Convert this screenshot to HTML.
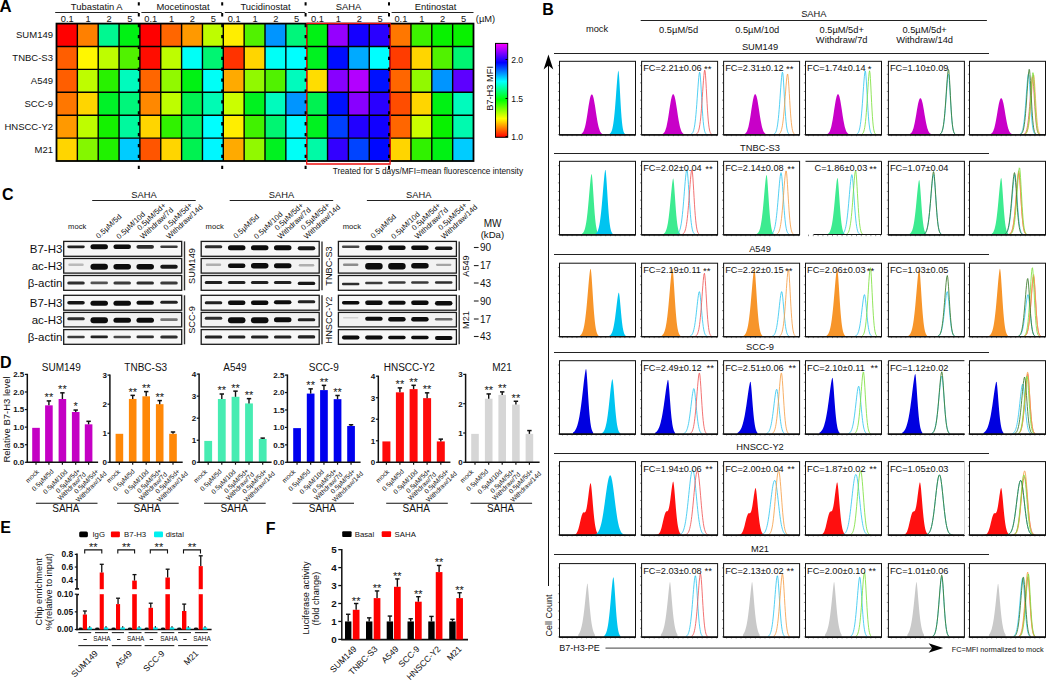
<!DOCTYPE html>
<html><head><meta charset="utf-8"><title>Figure</title>
<style>
html,body{margin:0;padding:0;background:#fff;}
body{width:1050px;height:680px;overflow:hidden;}
svg{display:block;font-family:"Liberation Sans",sans-serif;}
</style></head><body>
<svg width="1050" height="680" viewBox="0 0 1050 680">
<rect width="1050" height="680" fill="#fff"/>
<text x="-0.6" y="11.8" font-size="16.8" font-weight="bold" fill="#000">A</text>
<rect x="56.5" y="23.6" width="21.15" height="23.2" fill="#ff0000"/>
<rect x="77.35" y="23.6" width="21.15" height="23.2" fill="#ff8000"/>
<rect x="98.2" y="23.6" width="21.15" height="23.2" fill="#00f891"/>
<rect x="119.05" y="23.6" width="21.15" height="23.2" fill="#00f214"/>
<rect x="139.9" y="23.6" width="21.15" height="23.2" fill="#ff0000"/>
<rect x="160.75" y="23.6" width="21.15" height="23.2" fill="#ff6600"/>
<rect x="181.6" y="23.6" width="21.15" height="23.2" fill="#ff9900"/>
<rect x="202.45" y="23.6" width="21.15" height="23.2" fill="#befd00"/>
<rect x="223.3" y="23.6" width="21.15" height="23.2" fill="#ffee00"/>
<rect x="244.15" y="23.6" width="21.15" height="23.2" fill="#51f200"/>
<rect x="265" y="23.6" width="21.15" height="23.2" fill="#0095ff"/>
<rect x="285.85" y="23.6" width="21.15" height="23.2" fill="#00f67b"/>
<rect x="306.7" y="23.6" width="21.15" height="23.2" fill="#00f214"/>
<rect x="327.55" y="23.6" width="21.15" height="23.2" fill="#9500ff"/>
<rect x="348.4" y="23.6" width="21.15" height="23.2" fill="#1500ff"/>
<rect x="369.25" y="23.6" width="21.15" height="23.2" fill="#2a00ff"/>
<rect x="390.1" y="23.6" width="21.15" height="23.2" fill="#ff7700"/>
<rect x="410.95" y="23.6" width="21.15" height="23.2" fill="#3df200"/>
<rect x="431.8" y="23.6" width="21.15" height="23.2" fill="#08f200"/>
<rect x="452.65" y="23.6" width="21.15" height="23.2" fill="#08f200"/>
<rect x="56.5" y="46.5" width="21.15" height="23.2" fill="#ff5e00"/>
<rect x="77.35" y="46.5" width="21.15" height="23.2" fill="#fff700"/>
<rect x="98.2" y="46.5" width="21.15" height="23.2" fill="#befd00"/>
<rect x="119.05" y="46.5" width="21.15" height="23.2" fill="#51f200"/>
<rect x="139.9" y="46.5" width="21.15" height="23.2" fill="#ff0d00"/>
<rect x="160.75" y="46.5" width="21.15" height="23.2" fill="#befd00"/>
<rect x="181.6" y="46.5" width="21.15" height="23.2" fill="#00fff7"/>
<rect x="202.45" y="46.5" width="21.15" height="23.2" fill="#00f572"/>
<rect x="223.3" y="46.5" width="21.15" height="23.2" fill="#ff3300"/>
<rect x="244.15" y="46.5" width="21.15" height="23.2" fill="#ffd500"/>
<rect x="265" y="46.5" width="21.15" height="23.2" fill="#00fff7"/>
<rect x="285.85" y="46.5" width="21.15" height="23.2" fill="#00ffff"/>
<rect x="306.7" y="46.5" width="21.15" height="23.2" fill="#00f220"/>
<rect x="327.55" y="46.5" width="21.15" height="23.2" fill="#000dff"/>
<rect x="348.4" y="46.5" width="21.15" height="23.2" fill="#00aaff"/>
<rect x="369.25" y="46.5" width="21.15" height="23.2" fill="#00ffff"/>
<rect x="390.1" y="46.5" width="21.15" height="23.2" fill="#ff3c00"/>
<rect x="410.95" y="46.5" width="21.15" height="23.2" fill="#ffd500"/>
<rect x="431.8" y="46.5" width="21.15" height="23.2" fill="#51f200"/>
<rect x="452.65" y="46.5" width="21.15" height="23.2" fill="#00f572"/>
<rect x="56.5" y="69.4" width="21.15" height="23.2" fill="#ff5e00"/>
<rect x="77.35" y="69.4" width="21.15" height="23.2" fill="#befd00"/>
<rect x="98.2" y="69.4" width="21.15" height="23.2" fill="#28f200"/>
<rect x="119.05" y="69.4" width="21.15" height="23.2" fill="#00fbbd"/>
<rect x="139.9" y="69.4" width="21.15" height="23.2" fill="#ff6600"/>
<rect x="160.75" y="69.4" width="21.15" height="23.2" fill="#91f900"/>
<rect x="181.6" y="69.4" width="21.15" height="23.2" fill="#00f214"/>
<rect x="202.45" y="69.4" width="21.15" height="23.2" fill="#00fff7"/>
<rect x="223.3" y="69.4" width="21.15" height="23.2" fill="#ffaa00"/>
<rect x="244.15" y="69.4" width="21.15" height="23.2" fill="#91f900"/>
<rect x="265" y="69.4" width="21.15" height="23.2" fill="#51f200"/>
<rect x="285.85" y="69.4" width="21.15" height="23.2" fill="#00fbbd"/>
<rect x="306.7" y="69.4" width="21.15" height="23.2" fill="#ffdd00"/>
<rect x="327.55" y="69.4" width="21.15" height="23.2" fill="#8800ff"/>
<rect x="348.4" y="69.4" width="21.15" height="23.2" fill="#b300ff"/>
<rect x="369.25" y="69.4" width="21.15" height="23.2" fill="#0011ff"/>
<rect x="390.1" y="69.4" width="21.15" height="23.2" fill="#ff6600"/>
<rect x="410.95" y="69.4" width="21.15" height="23.2" fill="#91f900"/>
<rect x="431.8" y="69.4" width="21.15" height="23.2" fill="#0095ff"/>
<rect x="452.65" y="69.4" width="21.15" height="23.2" fill="#5d00ff"/>
<rect x="56.5" y="92.3" width="21.15" height="23.2" fill="#ff7700"/>
<rect x="77.35" y="92.3" width="21.15" height="23.2" fill="#ffd500"/>
<rect x="98.2" y="92.3" width="21.15" height="23.2" fill="#00f228"/>
<rect x="119.05" y="92.3" width="21.15" height="23.2" fill="#00f67b"/>
<rect x="139.9" y="92.3" width="21.15" height="23.2" fill="#ff8800"/>
<rect x="160.75" y="92.3" width="21.15" height="23.2" fill="#befd00"/>
<rect x="181.6" y="92.3" width="21.15" height="23.2" fill="#00f251"/>
<rect x="202.45" y="92.3" width="21.15" height="23.2" fill="#00fbb4"/>
<rect x="223.3" y="92.3" width="21.15" height="23.2" fill="#cbfe00"/>
<rect x="244.15" y="92.3" width="21.15" height="23.2" fill="#00f220"/>
<rect x="265" y="92.3" width="21.15" height="23.2" fill="#00fbbd"/>
<rect x="285.85" y="92.3" width="21.15" height="23.2" fill="#0095ff"/>
<rect x="306.7" y="92.3" width="21.15" height="23.2" fill="#00f251"/>
<rect x="327.55" y="92.3" width="21.15" height="23.2" fill="#0011ff"/>
<rect x="348.4" y="92.3" width="21.15" height="23.2" fill="#8800ff"/>
<rect x="369.25" y="92.3" width="21.15" height="23.2" fill="#2a00ff"/>
<rect x="390.1" y="92.3" width="21.15" height="23.2" fill="#ff4d00"/>
<rect x="410.95" y="92.3" width="21.15" height="23.2" fill="#ffd500"/>
<rect x="431.8" y="92.3" width="21.15" height="23.2" fill="#00f214"/>
<rect x="452.65" y="92.3" width="21.15" height="23.2" fill="#00fbbd"/>
<rect x="56.5" y="115.2" width="21.15" height="23.2" fill="#ff9900"/>
<rect x="77.35" y="115.2" width="21.15" height="23.2" fill="#befd00"/>
<rect x="98.2" y="115.2" width="21.15" height="23.2" fill="#14f200"/>
<rect x="119.05" y="115.2" width="21.15" height="23.2" fill="#00f99e"/>
<rect x="139.9" y="115.2" width="21.15" height="23.2" fill="#ffd500"/>
<rect x="160.75" y="115.2" width="21.15" height="23.2" fill="#30f200"/>
<rect x="181.6" y="115.2" width="21.15" height="23.2" fill="#00f466"/>
<rect x="202.45" y="115.2" width="21.15" height="23.2" fill="#00ffff"/>
<rect x="223.3" y="115.2" width="21.15" height="23.2" fill="#ffee00"/>
<rect x="244.15" y="115.2" width="21.15" height="23.2" fill="#41f200"/>
<rect x="265" y="115.2" width="21.15" height="23.2" fill="#00f572"/>
<rect x="285.85" y="115.2" width="21.15" height="23.2" fill="#00f7ff"/>
<rect x="306.7" y="115.2" width="21.15" height="23.2" fill="#00f220"/>
<rect x="327.55" y="115.2" width="21.15" height="23.2" fill="#0040ff"/>
<rect x="348.4" y="115.2" width="21.15" height="23.2" fill="#2200ff"/>
<rect x="369.25" y="115.2" width="21.15" height="23.2" fill="#1100ff"/>
<rect x="390.1" y="115.2" width="21.15" height="23.2" fill="#ff6600"/>
<rect x="410.95" y="115.2" width="21.15" height="23.2" fill="#cbfe00"/>
<rect x="431.8" y="115.2" width="21.15" height="23.2" fill="#08f200"/>
<rect x="452.65" y="115.2" width="21.15" height="23.2" fill="#00faaf"/>
<rect x="56.5" y="138.1" width="21.15" height="23.2" fill="#ffd500"/>
<rect x="77.35" y="138.1" width="21.15" height="23.2" fill="#84f700"/>
<rect x="98.2" y="138.1" width="21.15" height="23.2" fill="#20f200"/>
<rect x="119.05" y="138.1" width="21.15" height="23.2" fill="#00ccff"/>
<rect x="139.9" y="138.1" width="21.15" height="23.2" fill="#ff5500"/>
<rect x="160.75" y="138.1" width="21.15" height="23.2" fill="#ffd500"/>
<rect x="181.6" y="138.1" width="21.15" height="23.2" fill="#00f251"/>
<rect x="202.45" y="138.1" width="21.15" height="23.2" fill="#00f7ff"/>
<rect x="223.3" y="138.1" width="21.15" height="23.2" fill="#ffaa00"/>
<rect x="244.15" y="138.1" width="21.15" height="23.2" fill="#91f900"/>
<rect x="265" y="138.1" width="21.15" height="23.2" fill="#00f220"/>
<rect x="285.85" y="138.1" width="21.15" height="23.2" fill="#00fff7"/>
<rect x="306.7" y="138.1" width="21.15" height="23.2" fill="#00faa6"/>
<rect x="327.55" y="138.1" width="21.15" height="23.2" fill="#3300ff"/>
<rect x="348.4" y="138.1" width="21.15" height="23.2" fill="#0044ff"/>
<rect x="369.25" y="138.1" width="21.15" height="23.2" fill="#0008ff"/>
<rect x="390.1" y="138.1" width="21.15" height="23.2" fill="#ffd500"/>
<rect x="410.95" y="138.1" width="21.15" height="23.2" fill="#30f200"/>
<rect x="431.8" y="138.1" width="21.15" height="23.2" fill="#00f214"/>
<rect x="452.65" y="138.1" width="21.15" height="23.2" fill="#00ccff"/>
<line x1="77.35" y1="23.6" x2="77.35" y2="161" stroke="#000" stroke-width="1.4"/>
<line x1="98.2" y1="23.6" x2="98.2" y2="161" stroke="#000" stroke-width="1.4"/>
<line x1="119.05" y1="23.6" x2="119.05" y2="161" stroke="#000" stroke-width="1.4"/>
<line x1="139.9" y1="23.6" x2="139.9" y2="161" stroke="#000" stroke-width="1.4"/>
<line x1="160.75" y1="23.6" x2="160.75" y2="161" stroke="#000" stroke-width="1.4"/>
<line x1="181.6" y1="23.6" x2="181.6" y2="161" stroke="#000" stroke-width="1.4"/>
<line x1="202.45" y1="23.6" x2="202.45" y2="161" stroke="#000" stroke-width="1.4"/>
<line x1="223.3" y1="23.6" x2="223.3" y2="161" stroke="#000" stroke-width="1.4"/>
<line x1="244.15" y1="23.6" x2="244.15" y2="161" stroke="#000" stroke-width="1.4"/>
<line x1="265" y1="23.6" x2="265" y2="161" stroke="#000" stroke-width="1.4"/>
<line x1="285.85" y1="23.6" x2="285.85" y2="161" stroke="#000" stroke-width="1.4"/>
<line x1="306.7" y1="23.6" x2="306.7" y2="161" stroke="#000" stroke-width="1.4"/>
<line x1="327.55" y1="23.6" x2="327.55" y2="161" stroke="#000" stroke-width="1.4"/>
<line x1="348.4" y1="23.6" x2="348.4" y2="161" stroke="#000" stroke-width="1.4"/>
<line x1="369.25" y1="23.6" x2="369.25" y2="161" stroke="#000" stroke-width="1.4"/>
<line x1="390.1" y1="23.6" x2="390.1" y2="161" stroke="#000" stroke-width="1.4"/>
<line x1="410.95" y1="23.6" x2="410.95" y2="161" stroke="#000" stroke-width="1.4"/>
<line x1="431.8" y1="23.6" x2="431.8" y2="161" stroke="#000" stroke-width="1.4"/>
<line x1="452.65" y1="23.6" x2="452.65" y2="161" stroke="#000" stroke-width="1.4"/>
<line x1="56.5" y1="46.5" x2="473.5" y2="46.5" stroke="#000" stroke-width="1.4"/>
<line x1="56.5" y1="69.4" x2="473.5" y2="69.4" stroke="#000" stroke-width="1.4"/>
<line x1="56.5" y1="92.3" x2="473.5" y2="92.3" stroke="#000" stroke-width="1.4"/>
<line x1="56.5" y1="115.2" x2="473.5" y2="115.2" stroke="#000" stroke-width="1.4"/>
<line x1="56.5" y1="138.1" x2="473.5" y2="138.1" stroke="#000" stroke-width="1.4"/>
<rect x="56.5" y="23.6" width="417" height="137.4" fill="none" stroke="#000" stroke-width="1.8"/>
<polyline points="306.7,23.3 306.7,164 390.1,164 390.1,23.3 306.7,23.3" fill="none" stroke="#ee1111" stroke-width="1.3"/>
<line x1="138.8" y1="2.2" x2="138.8" y2="169.5" stroke="#000" stroke-width="2" stroke-dasharray="3.3 7.6"/>
<line x1="222.2" y1="2.2" x2="222.2" y2="169.5" stroke="#000" stroke-width="2" stroke-dasharray="3.3 7.6"/>
<line x1="305.6" y1="2.2" x2="305.6" y2="169.5" stroke="#000" stroke-width="2" stroke-dasharray="3.3 7.6"/>
<line x1="389" y1="2.2" x2="389" y2="169.5" stroke="#000" stroke-width="2" stroke-dasharray="3.3 7.6"/>
<line x1="55.2" y1="12.5" x2="138.4" y2="12.5" stroke="#222" stroke-width="1"/>
<text x="96.75" y="10.2" font-size="9.4" text-anchor="middle" fill="#111">Tubastatin A</text>
<text x="67.33" y="22" font-size="9.3" text-anchor="middle" fill="#111">0.1</text>
<text x="88.18" y="22" font-size="9.3" text-anchor="middle" fill="#111">1</text>
<text x="109.03" y="22" font-size="9.3" text-anchor="middle" fill="#111">2</text>
<text x="129.88" y="22" font-size="9.3" text-anchor="middle" fill="#111">5</text>
<line x1="141.4" y1="12.5" x2="221.8" y2="12.5" stroke="#222" stroke-width="1"/>
<text x="183" y="10.2" font-size="9.4" text-anchor="middle" fill="#111">Mocetinostat</text>
<text x="150.72" y="22" font-size="9.3" text-anchor="middle" fill="#111">0.1</text>
<text x="171.58" y="22" font-size="9.3" text-anchor="middle" fill="#111">1</text>
<text x="192.43" y="22" font-size="9.3" text-anchor="middle" fill="#111">2</text>
<text x="213.28" y="22" font-size="9.3" text-anchor="middle" fill="#111">5</text>
<line x1="224.8" y1="12.5" x2="305.2" y2="12.5" stroke="#222" stroke-width="1"/>
<text x="265.5" y="10.2" font-size="9.4" text-anchor="middle" fill="#111">Tucidinostat</text>
<text x="234.13" y="22" font-size="9.3" text-anchor="middle" fill="#111">0.1</text>
<text x="254.98" y="22" font-size="9.3" text-anchor="middle" fill="#111">1</text>
<text x="275.82" y="22" font-size="9.3" text-anchor="middle" fill="#111">2</text>
<text x="296.67" y="22" font-size="9.3" text-anchor="middle" fill="#111">5</text>
<line x1="308.2" y1="12.5" x2="388.6" y2="12.5" stroke="#222" stroke-width="1"/>
<text x="348.4" y="10.2" font-size="9.4" text-anchor="middle" fill="#111">SAHA</text>
<text x="317.52" y="22" font-size="9.3" text-anchor="middle" fill="#111">0.1</text>
<text x="338.38" y="22" font-size="9.3" text-anchor="middle" fill="#111">1</text>
<text x="359.23" y="22" font-size="9.3" text-anchor="middle" fill="#111">2</text>
<text x="380.07" y="22" font-size="9.3" text-anchor="middle" fill="#111">5</text>
<line x1="391.6" y1="12.5" x2="473.5" y2="12.5" stroke="#222" stroke-width="1"/>
<text x="435.6" y="10.2" font-size="9.4" text-anchor="middle" fill="#111">Entinostat</text>
<text x="400.93" y="22" font-size="9.3" text-anchor="middle" fill="#111">0.1</text>
<text x="421.77" y="22" font-size="9.3" text-anchor="middle" fill="#111">1</text>
<text x="442.62" y="22" font-size="9.3" text-anchor="middle" fill="#111">2</text>
<text x="463.48" y="22" font-size="9.3" text-anchor="middle" fill="#111">5</text>
<text x="475.8" y="22" font-size="9.3" fill="#111">(µM)</text>
<text x="53" y="38.45" font-size="9.5" text-anchor="end" fill="#111">SUM149</text>
<text x="53" y="61.35" font-size="9.5" text-anchor="end" fill="#111">TNBC-S3</text>
<text x="53" y="84.25" font-size="9.5" text-anchor="end" fill="#111">A549</text>
<text x="53" y="107.15" font-size="9.5" text-anchor="end" fill="#111">SCC-9</text>
<text x="53" y="130.05" font-size="9.5" text-anchor="end" fill="#111">HNSCC-Y2</text>
<text x="53" y="152.95" font-size="9.5" text-anchor="end" fill="#111">M21</text>
<defs><linearGradient id="cb" x1="0" y1="0" x2="0" y2="1"><stop offset="0.0" stop-color="#ff00ff"/><stop offset="0.205" stop-color="#0000ff"/><stop offset="0.404" stop-color="#00ffff"/><stop offset="0.603" stop-color="#00ff00"/><stop offset="0.801" stop-color="#ffff00"/><stop offset="1" stop-color="#ff0000"/></linearGradient></defs>
<rect x="495.5" y="43.4" width="12.2" height="93.9" fill="url(#cb)" stroke="#000" stroke-width="1"/>
<line x1="505.5" y1="59.5" x2="507.7" y2="59.5" stroke="#000" stroke-width="1"/>
<text x="511.2" y="62.7" font-size="8.6" fill="#111">2.0</text>
<line x1="505.5" y1="98.5" x2="507.7" y2="98.5" stroke="#000" stroke-width="1"/>
<text x="511.2" y="101.5" font-size="8.6" fill="#111">1.5</text>
<line x1="505.5" y1="136.5" x2="507.7" y2="136.5" stroke="#000" stroke-width="1"/>
<text x="511.2" y="139.9" font-size="8.6" fill="#111">1.0</text>
<text transform="translate(492.8,88.4) rotate(-90)" font-size="9.3" text-anchor="middle" fill="#111">B7-H3 MFI</text>
<text x="332.8" y="174.3" font-size="8.25" fill="#111">Treated for 5 days/MFI=mean fluorescence intensity</text>
<text x="542.2" y="15.3" font-size="16" font-weight="bold" fill="#000">B</text>
<text x="813.8" y="16.9" font-size="9.3" text-anchor="middle" fill="#111">SAHA</text>
<line x1="640.7" y1="20.5" x2="986.9" y2="20.5" stroke="#222" stroke-width="1"/>
<text x="597" y="31.5" font-size="9.3" text-anchor="middle" fill="#111">mock</text>
<text x="678.6" y="32.6" font-size="9.3" text-anchor="middle" fill="#111">0.5µM/5d</text>
<text x="757.2" y="32.6" font-size="9.3" text-anchor="middle" fill="#111">0.5µM/10d</text>
<text x="841.7" y="32.6" font-size="9.3" text-anchor="middle" fill="#111">0.5µM/5d+</text>
<text x="841.7" y="42.6" font-size="9.3" text-anchor="middle" fill="#111">Withdraw/7d</text>
<text x="924.6" y="32.6" font-size="9.3" text-anchor="middle" fill="#111">0.5µM/5d+</text>
<text x="924.6" y="42.6" font-size="9.3" text-anchor="middle" fill="#111">Withdraw/14d</text>
<line x1="554" y1="53.5" x2="989" y2="53.5" stroke="#222" stroke-width="1"/>
<text x="760" y="50.4" font-size="9.3" text-anchor="middle" fill="#111">SUM149</text>
<path d="M559.5,134.6 h-1.6 M559.5,125.98 h-1.6 M559.5,117.35 h-1.6 M559.5,108.73 h-1.6 M559.5,100.11 h-1.6 M559.5,91.48 h-1.6 M559.5,82.86 h-1.6 M559.5,74.24 h-1.6 M559.5,65.61 h-1.6 M562.5,134.6 v1.6 M567.3,134.6 v1.6 M572.1,134.6 v1.6 M576.9,134.6 v1.6 M581.7,134.6 v1.6 M586.5,134.6 v1.6 M591.3,134.6 v1.6 M596.1,134.6 v1.6 M600.9,134.6 v1.6 M605.7,134.6 v1.6 M610.5,134.6 v1.6 M615.3,134.6 v1.6 M620.1,134.6 v1.6 M624.9,134.6 v1.6 M629.7,134.6 v1.6 M634.5,134.6 v1.6" stroke="#444" stroke-width="0.6" fill="none"/>
<path d="M577.93,134.6 L577.93,134.57 L578.34,134.56 L578.74,134.54 L579.14,134.51 L579.54,134.46 L579.94,134.4 L580.35,134.31 L580.75,134.19 L581.15,134.02 L581.55,133.79 L581.95,133.49 L582.35,133.1 L582.76,132.6 L583.16,131.97 L583.56,131.2 L583.96,130.25 L584.36,129.1 L584.77,127.76 L585.17,126.19 L585.57,124.41 L585.97,122.41 L586.37,120.2 L586.78,117.82 L587.18,115.29 L587.58,112.66 L587.98,109.99 L588.38,107.35 L588.79,104.78 L589.19,102.38 L589.59,100.2 L589.99,98.31 L590.39,96.75 L590.8,95.58 L591.2,94.81 L591.6,94.44 L592,94.44 L592.4,94.81 L592.8,95.58 L593.21,96.75 L593.61,98.31 L594.01,100.2 L594.41,102.38 L594.81,104.78 L595.22,107.35 L595.62,109.99 L596.02,112.66 L596.42,115.29 L596.82,117.82 L597.23,120.2 L597.63,122.41 L598.03,124.41 L598.43,126.19 L598.83,127.76 L599.24,129.1 L599.64,130.25 L600.04,131.2 L600.44,131.97 L600.84,132.6 L601.25,133.1 L601.65,133.49 L602.05,133.79 L602.45,134.02 L602.85,134.19 L603.25,134.31 L603.66,134.4 L604.06,134.46 L604.46,134.51 L604.86,134.54 L605.26,134.56 L605.67,134.57 L605.67,134.6 Z" fill="#c800c8"/>
<path d="M609.69,134.6 L609.69,133.82 L610.1,133.5 L610.51,133.06 L610.92,132.47 L611.33,131.7 L611.74,130.69 L612.15,129.39 L612.55,127.76 L612.96,125.73 L613.37,123.25 L613.78,120.27 L614.19,116.76 L614.6,112.71 L615.01,108.13 L615.42,103.1 L615.83,97.7 L616.24,92.09 L616.65,86.48 L617.06,81.15 L617.47,76.43 L617.88,72.72 L618.29,70.57 L618.7,71.9 L619.11,76.69 L619.52,83.29 L619.93,90.76 L620.33,98.35 L620.74,105.52 L621.15,111.94 L621.56,117.42 L621.97,121.91 L622.38,125.46 L622.79,128.18 L623.2,130.19 L623.61,131.65 L624.02,132.66 L624.43,133.36 L624.84,133.82 L624.84,134.6 Z" fill="#00c4f0"/>
<rect x="559.5" y="61.3" width="76" height="73.3" fill="none" stroke="#111" stroke-width="1"/>
<line x1="559.2" y1="134.9" x2="635.8" y2="134.9" stroke="#111" stroke-width="1.5"/>
<path d="M641.6,134.6 h-1.6 M641.6,125.98 h-1.6 M641.6,117.35 h-1.6 M641.6,108.73 h-1.6 M641.6,100.11 h-1.6 M641.6,91.48 h-1.6 M641.6,82.86 h-1.6 M641.6,74.24 h-1.6 M641.6,65.61 h-1.6 M644.6,134.6 v1.6 M649.4,134.6 v1.6 M654.2,134.6 v1.6 M659,134.6 v1.6 M663.8,134.6 v1.6 M668.6,134.6 v1.6 M673.4,134.6 v1.6 M678.2,134.6 v1.6 M683,134.6 v1.6 M687.8,134.6 v1.6 M692.6,134.6 v1.6 M697.4,134.6 v1.6 M702.2,134.6 v1.6 M707,134.6 v1.6 M711.8,134.6 v1.6 M716.6,134.6 v1.6" stroke="#444" stroke-width="0.6" fill="none"/>
<path d="M659.33,134.6 L659.33,134.57 L659.74,134.56 L660.14,134.54 L660.54,134.51 L660.94,134.46 L661.34,134.4 L661.75,134.31 L662.15,134.18 L662.55,134.01 L662.95,133.79 L663.35,133.48 L663.75,133.09 L664.16,132.59 L664.56,131.96 L664.96,131.18 L665.36,130.22 L665.76,129.08 L666.17,127.72 L666.57,126.15 L666.97,124.36 L667.37,122.35 L667.77,120.13 L668.18,117.73 L668.58,115.19 L668.98,112.55 L669.38,109.87 L669.78,107.21 L670.19,104.64 L670.59,102.22 L670.99,100.03 L671.39,98.13 L671.79,96.56 L672.2,95.38 L672.6,94.61 L673,94.24 L673.4,94.24 L673.8,94.61 L674.2,95.38 L674.61,96.56 L675.01,98.13 L675.41,100.03 L675.81,102.22 L676.21,104.64 L676.62,107.21 L677.02,109.87 L677.42,112.55 L677.82,115.19 L678.22,117.73 L678.63,120.13 L679.03,122.35 L679.43,124.36 L679.83,126.15 L680.23,127.72 L680.64,129.08 L681.04,130.22 L681.44,131.18 L681.84,131.96 L682.24,132.59 L682.65,133.09 L683.05,133.48 L683.45,133.79 L683.85,134.01 L684.25,134.18 L684.65,134.31 L685.06,134.4 L685.46,134.46 L685.86,134.51 L686.26,134.54 L686.66,134.56 L687.07,134.57 L687.07,134.6 Z" fill="#c800c8"/>
<path d="M691.12,134.18 L691.53,133.97 L691.93,133.66 L692.33,133.22 L692.74,132.61 L693.14,131.77 L693.54,130.65 L693.95,129.18 L694.35,127.28 L694.75,124.9 L695.15,121.96 L695.56,118.43 L695.96,114.3 L696.36,109.58 L696.77,104.36 L697.17,98.76 L697.57,92.97 L697.98,87.27 L698.38,81.96 L698.78,77.39 L699.18,73.96 L699.59,72.13 L699.99,73.08 L700.39,77.02 L700.8,82.88 L701.2,89.83 L701.6,97.19 L702.01,104.36 L702.41,110.92 L702.81,116.63 L703.21,121.36 L703.62,125.14 L704.02,128.02 L704.42,130.16 L704.83,131.68 L705.23,132.73 L705.63,133.44 L706.03,133.9 L706.44,134.18" fill="none" stroke="#35c8f0" stroke-width="0.85"/>
<path d="M696.22,134.17 L696.63,133.95 L697.03,133.63 L697.43,133.18 L697.84,132.54 L698.24,131.68 L698.64,130.52 L699.05,129 L699.45,127.05 L699.85,124.59 L700.25,121.56 L700.66,117.92 L701.06,113.65 L701.46,108.78 L701.87,103.39 L702.27,97.61 L702.67,91.64 L703.08,85.76 L703.48,80.27 L703.88,75.56 L704.28,72.02 L704.69,70.13 L705.09,71.12 L705.49,75.18 L705.9,81.22 L706.3,88.4 L706.7,95.99 L707.11,103.39 L707.51,110.16 L707.91,116.05 L708.31,120.94 L708.72,124.83 L709.12,127.81 L709.52,130.02 L709.93,131.59 L710.33,132.68 L710.73,133.4 L711.13,133.87 L711.54,134.17" fill="none" stroke="#f05a5a" stroke-width="0.85"/>
<rect x="641.6" y="61.3" width="76" height="73.3" fill="none" stroke="#111" stroke-width="1"/>
<line x1="641.3" y1="134.9" x2="717.9" y2="134.9" stroke="#111" stroke-width="1.5"/>
<text x="643.2" y="71.4" font-size="9.2" fill="#111">FC=2.21±0.06</text>
<text x="711.4" y="71.7" font-size="9.6" text-anchor="end" fill="#111">**</text>
<path d="M723.6,134.6 h-1.6 M723.6,125.98 h-1.6 M723.6,117.35 h-1.6 M723.6,108.73 h-1.6 M723.6,100.11 h-1.6 M723.6,91.48 h-1.6 M723.6,82.86 h-1.6 M723.6,74.24 h-1.6 M723.6,65.61 h-1.6 M726.6,134.6 v1.6 M731.4,134.6 v1.6 M736.2,134.6 v1.6 M741,134.6 v1.6 M745.8,134.6 v1.6 M750.6,134.6 v1.6 M755.4,134.6 v1.6 M760.2,134.6 v1.6 M765,134.6 v1.6 M769.8,134.6 v1.6 M774.6,134.6 v1.6 M779.4,134.6 v1.6 M784.2,134.6 v1.6 M789,134.6 v1.6 M793.8,134.6 v1.6 M798.6,134.6 v1.6" stroke="#444" stroke-width="0.6" fill="none"/>
<path d="M741.33,134.6 L741.33,134.57 L741.74,134.56 L742.14,134.54 L742.54,134.51 L742.94,134.46 L743.34,134.4 L743.75,134.31 L744.15,134.18 L744.55,134.01 L744.95,133.79 L745.35,133.48 L745.75,133.09 L746.16,132.59 L746.56,131.96 L746.96,131.18 L747.36,130.22 L747.76,129.08 L748.17,127.72 L748.57,126.15 L748.97,124.36 L749.37,122.35 L749.77,120.13 L750.18,117.73 L750.58,115.19 L750.98,112.55 L751.38,109.87 L751.78,107.21 L752.19,104.64 L752.59,102.22 L752.99,100.03 L753.39,98.13 L753.79,96.56 L754.2,95.38 L754.6,94.61 L755,94.24 L755.4,94.24 L755.8,94.61 L756.2,95.38 L756.61,96.56 L757.01,98.13 L757.41,100.03 L757.81,102.22 L758.21,104.64 L758.62,107.21 L759.02,109.87 L759.42,112.55 L759.82,115.19 L760.22,117.73 L760.63,120.13 L761.03,122.35 L761.43,124.36 L761.83,126.15 L762.23,127.72 L762.64,129.08 L763.04,130.22 L763.44,131.18 L763.84,131.96 L764.24,132.59 L764.65,133.09 L765.05,133.48 L765.45,133.79 L765.85,134.01 L766.25,134.18 L766.65,134.31 L767.06,134.4 L767.46,134.46 L767.86,134.51 L768.26,134.54 L768.66,134.56 L769.07,134.57 L769.07,134.6 Z" fill="#c800c8"/>
<path d="M773.92,134.18 L774.33,133.97 L774.73,133.66 L775.13,133.22 L775.54,132.61 L775.94,131.77 L776.34,130.65 L776.75,129.18 L777.15,127.28 L777.55,124.9 L777.95,121.96 L778.36,118.43 L778.76,114.3 L779.16,109.58 L779.57,104.36 L779.97,98.76 L780.37,92.97 L780.78,87.27 L781.18,81.96 L781.58,77.39 L781.98,73.96 L782.39,72.13 L782.79,73.08 L783.19,77.02 L783.6,82.88 L784,89.83 L784.4,97.19 L784.81,104.36 L785.21,110.92 L785.61,116.63 L786.01,121.36 L786.42,125.14 L786.82,128.02 L787.22,130.16 L787.63,131.68 L788.03,132.73 L788.43,133.44 L788.83,133.9 L789.24,134.18" fill="none" stroke="#35c8f0" stroke-width="0.85"/>
<path d="M778.69,134.2 L779.1,134 L779.5,133.71 L779.91,133.3 L780.32,132.74 L780.73,131.98 L781.14,130.96 L781.54,129.63 L781.95,127.92 L782.36,125.77 L782.77,123.13 L783.18,119.95 L783.58,116.21 L783.99,111.92 L784.4,107.14 L784.81,101.96 L785.22,96.54 L785.63,91.09 L786.03,85.86 L786.44,81.17 L786.85,77.34 L787.26,74.76 L787.67,73.97 L788.07,76.24 L788.48,80.78 L788.89,86.78 L789.3,93.56 L789.71,100.5 L790.11,107.14 L790.52,113.14 L790.93,118.32 L791.34,122.59 L791.75,125.99 L792.15,128.59 L792.56,130.51 L792.97,131.89 L793.38,132.85 L793.79,133.5 L794.19,133.93 L794.6,134.2" fill="none" stroke="#f5a04a" stroke-width="0.85"/>
<rect x="723.6" y="61.3" width="76" height="73.3" fill="none" stroke="#111" stroke-width="1"/>
<line x1="723.3" y1="134.9" x2="799.9" y2="134.9" stroke="#111" stroke-width="1.5"/>
<text x="725.2" y="71.4" font-size="9.2" fill="#111">FC=2.31±0.12</text>
<text x="793.4" y="71.7" font-size="9.6" text-anchor="end" fill="#111">**</text>
<path d="M805.5,134.6 h-1.6 M805.5,125.98 h-1.6 M805.5,117.35 h-1.6 M805.5,108.73 h-1.6 M805.5,100.11 h-1.6 M805.5,91.48 h-1.6 M805.5,82.86 h-1.6 M805.5,74.24 h-1.6 M805.5,65.61 h-1.6 M808.5,134.6 v1.6 M813.3,134.6 v1.6 M818.1,134.6 v1.6 M822.9,134.6 v1.6 M827.7,134.6 v1.6 M832.5,134.6 v1.6 M837.3,134.6 v1.6 M842.1,134.6 v1.6 M846.9,134.6 v1.6 M851.7,134.6 v1.6 M856.5,134.6 v1.6 M861.3,134.6 v1.6 M866.1,134.6 v1.6 M870.9,134.6 v1.6 M875.7,134.6 v1.6 M880.5,134.6 v1.6" stroke="#444" stroke-width="0.6" fill="none"/>
<path d="M824.13,134.6 L824.13,134.57 L824.54,134.56 L824.94,134.54 L825.34,134.51 L825.74,134.46 L826.14,134.4 L826.55,134.31 L826.95,134.18 L827.35,134.01 L827.75,133.79 L828.15,133.48 L828.55,133.09 L828.96,132.59 L829.36,131.96 L829.76,131.18 L830.16,130.22 L830.56,129.08 L830.97,127.72 L831.37,126.15 L831.77,124.36 L832.17,122.35 L832.57,120.13 L832.98,117.73 L833.38,115.19 L833.78,112.55 L834.18,109.87 L834.58,107.21 L834.99,104.64 L835.39,102.22 L835.79,100.03 L836.19,98.13 L836.59,96.56 L837,95.38 L837.4,94.61 L837.8,94.24 L838.2,94.24 L838.6,94.61 L839,95.38 L839.41,96.56 L839.81,98.13 L840.21,100.03 L840.61,102.22 L841.01,104.64 L841.42,107.21 L841.82,109.87 L842.22,112.55 L842.62,115.19 L843.02,117.73 L843.43,120.13 L843.83,122.35 L844.23,124.36 L844.63,126.15 L845.03,127.72 L845.44,129.08 L845.84,130.22 L846.24,131.18 L846.64,131.96 L847.04,132.59 L847.45,133.09 L847.85,133.48 L848.25,133.79 L848.65,134.01 L849.05,134.18 L849.45,134.31 L849.86,134.4 L850.26,134.46 L850.66,134.51 L851.06,134.54 L851.46,134.56 L851.87,134.57 L851.87,134.6 Z" fill="#c800c8"/>
<path d="M856.72,134.18 L857.13,133.96 L857.53,133.64 L857.93,133.19 L858.34,132.57 L858.74,131.72 L859.14,130.57 L859.55,129.07 L859.95,127.14 L860.35,124.71 L860.75,121.72 L861.16,118.12 L861.56,113.91 L861.96,109.1 L862.37,103.78 L862.77,98.07 L863.17,92.18 L863.58,86.36 L863.98,80.95 L864.38,76.29 L864.78,72.8 L865.19,70.93 L865.59,71.9 L865.99,75.92 L866.4,81.89 L866.8,88.98 L867.2,96.47 L867.61,103.78 L868.01,110.47 L868.41,116.28 L868.81,121.11 L869.22,124.95 L869.62,127.9 L870.02,130.07 L870.43,131.63 L870.83,132.7 L871.23,133.42 L871.63,133.88 L872.04,134.18" fill="none" stroke="#35c8f0" stroke-width="0.85"/>
<path d="M861.87,134.18 L862.27,133.93 L862.68,133.55 L863.08,133 L863.49,132.2 L863.9,131.08 L864.3,129.56 L864.71,127.52 L865.12,124.87 L865.52,121.52 L865.93,117.42 L866.33,112.55 L866.74,106.96 L867.15,100.79 L867.55,94.26 L867.96,87.71 L868.37,81.55 L868.77,76.29 L869.18,72.48 L869.58,70.8 L869.99,73.04 L870.4,78.54 L870.8,85.97 L871.21,94.26 L871.61,102.52 L872.02,110.1 L872.43,116.6 L872.83,121.86 L873.24,125.91 L873.65,128.88 L874.05,130.96 L874.46,132.37 L874.86,133.27 L875.27,133.84 L875.68,134.18" fill="none" stroke="#7ee040" stroke-width="0.85"/>
<rect x="805.5" y="61.3" width="76" height="73.3" fill="none" stroke="#111" stroke-width="1"/>
<line x1="805.2" y1="134.9" x2="881.8" y2="134.9" stroke="#111" stroke-width="1.5"/>
<text x="807.1" y="71.4" font-size="9.2" fill="#111">FC=1.74±0.14</text>
<text x="871.5" y="71.7" font-size="9.6" text-anchor="end" fill="#111">*</text>
<path d="M888.4,134.6 h-1.6 M888.4,125.98 h-1.6 M888.4,117.35 h-1.6 M888.4,108.73 h-1.6 M888.4,100.11 h-1.6 M888.4,91.48 h-1.6 M888.4,82.86 h-1.6 M888.4,74.24 h-1.6 M888.4,65.61 h-1.6 M891.4,134.6 v1.6 M896.2,134.6 v1.6 M901,134.6 v1.6 M905.8,134.6 v1.6 M910.6,134.6 v1.6 M915.4,134.6 v1.6 M920.2,134.6 v1.6 M925,134.6 v1.6 M929.8,134.6 v1.6 M934.6,134.6 v1.6 M939.4,134.6 v1.6 M944.2,134.6 v1.6 M949,134.6 v1.6 M953.8,134.6 v1.6 M958.6,134.6 v1.6 M963.4,134.6 v1.6" stroke="#444" stroke-width="0.6" fill="none"/>
<path d="M906.53,134.6 L906.53,134.58 L906.94,134.56 L907.34,134.54 L907.74,134.52 L908.14,134.48 L908.54,134.42 L908.95,134.34 L909.35,134.22 L909.75,134.07 L910.15,133.86 L910.55,133.59 L910.95,133.24 L911.36,132.79 L911.76,132.22 L912.16,131.51 L912.56,130.65 L912.96,129.61 L913.37,128.39 L913.77,126.97 L914.17,125.35 L914.57,123.53 L914.97,121.53 L915.38,119.36 L915.78,117.07 L916.18,114.68 L916.58,112.26 L916.98,109.85 L917.39,107.53 L917.79,105.34 L918.19,103.37 L918.59,101.65 L918.99,100.24 L919.4,99.17 L919.8,98.47 L920.2,98.14 L920.6,98.14 L921,98.47 L921.4,99.17 L921.81,100.24 L922.21,101.65 L922.61,103.37 L923.01,105.34 L923.41,107.53 L923.82,109.85 L924.22,112.26 L924.62,114.68 L925.02,117.07 L925.42,119.36 L925.83,121.53 L926.23,123.53 L926.63,125.35 L927.03,126.97 L927.43,128.39 L927.84,129.61 L928.24,130.65 L928.64,131.51 L929.04,132.22 L929.44,132.79 L929.85,133.24 L930.25,133.59 L930.65,133.86 L931.05,134.07 L931.45,134.22 L931.85,134.34 L932.26,134.42 L932.66,134.48 L933.06,134.52 L933.46,134.54 L933.86,134.56 L934.27,134.58 L934.27,134.6 Z" fill="#c800c8"/>
<path d="M939.92,134.2 L940.33,133.99 L940.73,133.69 L941.13,133.26 L941.54,132.67 L941.94,131.86 L942.34,130.77 L942.75,129.34 L943.15,127.5 L943.55,125.19 L943.95,122.34 L944.36,118.92 L944.76,114.91 L945.16,110.34 L945.57,105.27 L945.97,99.84 L946.37,94.24 L946.78,88.71 L947.18,83.55 L947.58,79.12 L947.98,75.8 L948.39,74.03 L948.79,74.95 L949.19,78.77 L949.6,84.45 L950,91.19 L950.4,98.32 L950.81,105.27 L951.21,111.64 L951.61,117.17 L952.01,121.77 L952.42,125.42 L952.82,128.22 L953.22,130.29 L953.63,131.77 L954.03,132.79 L954.43,133.47 L954.83,133.92 L955.24,134.2" fill="none" stroke="#35c8f0" stroke-width="0.85"/>
<path d="M939.92,134.17 L940.33,133.94 L940.73,133.62 L941.13,133.16 L941.54,132.52 L941.94,131.64 L942.34,130.47 L942.75,128.93 L943.15,126.95 L943.55,124.46 L943.95,121.4 L944.36,117.71 L944.76,113.39 L945.16,108.46 L945.57,103 L945.97,97.15 L946.37,91.11 L946.78,85.15 L947.18,79.6 L947.58,74.83 L947.98,71.25 L948.39,69.33 L948.79,70.33 L949.19,74.45 L949.6,80.56 L950,87.83 L950.4,95.51 L950.81,103 L951.21,109.86 L951.61,115.82 L952.01,120.77 L952.42,124.71 L952.82,127.73 L953.22,129.96 L953.63,131.55 L954.03,132.65 L954.43,133.39 L954.83,133.87 L955.24,134.17" fill="none" stroke="#3a7a2a" stroke-width="0.85"/>
<rect x="888.4" y="61.3" width="76" height="73.3" fill="none" stroke="#111" stroke-width="1"/>
<line x1="888.1" y1="134.9" x2="964.7" y2="134.9" stroke="#111" stroke-width="1.5"/>
<text x="890" y="71.4" font-size="9.2" fill="#111">FC=1.10±0.09</text>
<path d="M969.5,134.6 h-1.6 M969.5,125.98 h-1.6 M969.5,117.35 h-1.6 M969.5,108.73 h-1.6 M969.5,100.11 h-1.6 M969.5,91.48 h-1.6 M969.5,82.86 h-1.6 M969.5,74.24 h-1.6 M969.5,65.61 h-1.6 M972.5,134.6 v1.6 M977.3,134.6 v1.6 M982.1,134.6 v1.6 M986.9,134.6 v1.6 M991.7,134.6 v1.6 M996.5,134.6 v1.6 M1001.3,134.6 v1.6 M1006.1,134.6 v1.6 M1010.9,134.6 v1.6 M1015.7,134.6 v1.6 M1020.5,134.6 v1.6 M1025.3,134.6 v1.6 M1030.1,134.6 v1.6 M1034.9,134.6 v1.6 M1039.7,134.6 v1.6 M1044.5,134.6 v1.6" stroke="#444" stroke-width="0.6" fill="none"/>
<path d="M987.33,134.6 L987.33,134.58 L987.74,134.56 L988.14,134.54 L988.54,134.52 L988.94,134.48 L989.34,134.42 L989.75,134.34 L990.15,134.22 L990.55,134.07 L990.95,133.86 L991.35,133.59 L991.75,133.24 L992.16,132.79 L992.56,132.22 L992.96,131.51 L993.36,130.65 L993.76,129.61 L994.17,128.39 L994.57,126.97 L994.97,125.35 L995.37,123.53 L995.77,121.53 L996.18,119.36 L996.58,117.07 L996.98,114.68 L997.38,112.26 L997.78,109.85 L998.19,107.53 L998.59,105.34 L998.99,103.37 L999.39,101.65 L999.79,100.24 L1000.2,99.17 L1000.6,98.47 L1001,98.14 L1001.4,98.14 L1001.8,98.47 L1002.2,99.17 L1002.61,100.24 L1003.01,101.65 L1003.41,103.37 L1003.81,105.34 L1004.21,107.53 L1004.62,109.85 L1005.02,112.26 L1005.42,114.68 L1005.82,117.07 L1006.22,119.36 L1006.63,121.53 L1007.03,123.53 L1007.43,125.35 L1007.83,126.97 L1008.23,128.39 L1008.64,129.61 L1009.04,130.65 L1009.44,131.51 L1009.84,132.22 L1010.24,132.79 L1010.65,133.24 L1011.05,133.59 L1011.45,133.86 L1011.85,134.07 L1012.25,134.22 L1012.65,134.34 L1013.06,134.42 L1013.46,134.48 L1013.86,134.52 L1014.26,134.54 L1014.66,134.56 L1015.07,134.58 L1015.07,134.6 Z" fill="#c800c8"/>
<path d="M1019.92,134.2 L1020.33,133.99 L1020.73,133.69 L1021.13,133.26 L1021.54,132.67 L1021.94,131.86 L1022.34,130.77 L1022.75,129.34 L1023.15,127.5 L1023.55,125.19 L1023.95,122.34 L1024.36,118.92 L1024.76,114.91 L1025.16,110.34 L1025.57,105.27 L1025.97,99.84 L1026.37,94.24 L1026.78,88.71 L1027.18,83.55 L1027.58,79.12 L1027.98,75.8 L1028.39,74.03 L1028.79,74.95 L1029.19,78.77 L1029.6,84.45 L1030,91.19 L1030.4,98.32 L1030.81,105.27 L1031.21,111.64 L1031.61,117.17 L1032.01,121.77 L1032.42,125.42 L1032.82,128.22 L1033.22,130.29 L1033.63,131.77 L1034.03,132.79 L1034.43,133.47 L1034.83,133.92 L1035.24,134.2" fill="none" stroke="#35c8f0" stroke-width="0.85"/>
<path d="M1023.92,134.22 L1024.33,134.02 L1024.73,133.73 L1025.13,133.32 L1025.54,132.75 L1025.94,131.98 L1026.34,130.94 L1026.75,129.58 L1027.15,127.82 L1027.55,125.61 L1027.95,122.89 L1028.36,119.62 L1028.76,115.79 L1029.16,111.42 L1029.57,106.58 L1029.97,101.39 L1030.37,96.03 L1030.78,90.75 L1031.18,85.82 L1031.58,81.59 L1031.98,78.42 L1032.39,76.72 L1032.79,77.6 L1033.19,81.25 L1033.6,86.68 L1034,93.12 L1034.4,99.94 L1034.81,106.58 L1035.21,112.66 L1035.61,117.95 L1036.01,122.34 L1036.42,125.83 L1036.82,128.51 L1037.22,130.49 L1037.63,131.9 L1038.03,132.87 L1038.43,133.52 L1038.83,133.95 L1039.24,134.22" fill="none" stroke="#f05a5a" stroke-width="0.85"/>
<path d="M1025.02,134.2 L1025.43,134 L1025.83,133.7 L1026.23,133.28 L1026.64,132.69 L1027.04,131.89 L1027.44,130.81 L1027.85,129.4 L1028.25,127.59 L1028.65,125.3 L1029.05,122.49 L1029.46,119.1 L1029.86,115.14 L1030.26,110.62 L1030.67,105.61 L1031.07,100.24 L1031.47,94.7 L1031.88,89.24 L1032.28,84.14 L1032.68,79.76 L1033.08,76.48 L1033.49,74.72 L1033.89,75.64 L1034.29,79.41 L1034.7,85.03 L1035.1,91.69 L1035.5,98.74 L1035.91,105.61 L1036.31,111.9 L1036.71,117.37 L1037.11,121.91 L1037.52,125.53 L1037.92,128.3 L1038.32,130.34 L1038.73,131.8 L1039.13,132.81 L1039.53,133.49 L1039.93,133.93 L1040.34,134.2" fill="none" stroke="#f5a04a" stroke-width="0.85"/>
<path d="M1024.93,134.19 L1025.33,133.96 L1025.73,133.63 L1026.13,133.15 L1026.53,132.46 L1026.93,131.52 L1027.33,130.24 L1027.73,128.55 L1028.13,126.37 L1028.53,123.61 L1028.93,120.22 L1029.33,116.16 L1029.73,111.44 L1030.13,106.13 L1030.53,100.35 L1030.93,94.33 L1031.33,88.34 L1031.73,82.74 L1032.14,77.94 L1032.54,74.4 L1032.94,72.65 L1033.34,74.15 L1033.74,78.73 L1034.14,85.21 L1034.54,92.68 L1034.94,100.35 L1035.34,107.63 L1035.74,114.09 L1036.14,119.53 L1036.54,123.88 L1036.94,127.22 L1037.34,129.68 L1037.74,131.42 L1038.14,132.61 L1038.54,133.39 L1038.94,133.88 L1039.34,134.19" fill="none" stroke="#7ee040" stroke-width="0.85"/>
<path d="M1020.72,134.17 L1021.13,133.94 L1021.53,133.62 L1021.93,133.16 L1022.34,132.52 L1022.74,131.64 L1023.14,130.47 L1023.55,128.93 L1023.95,126.95 L1024.35,124.46 L1024.75,121.4 L1025.16,117.71 L1025.56,113.39 L1025.96,108.46 L1026.37,103 L1026.77,97.15 L1027.17,91.11 L1027.58,85.15 L1027.98,79.6 L1028.38,74.83 L1028.78,71.25 L1029.19,69.33 L1029.59,70.33 L1029.99,74.45 L1030.4,80.56 L1030.8,87.83 L1031.2,95.51 L1031.61,103 L1032.01,109.86 L1032.41,115.82 L1032.81,120.77 L1033.22,124.71 L1033.62,127.73 L1034.02,129.96 L1034.43,131.55 L1034.83,132.65 L1035.23,133.39 L1035.63,133.87 L1036.04,134.17" fill="none" stroke="#3a7a2a" stroke-width="0.85"/>
<rect x="969.5" y="61.3" width="76" height="73.3" fill="none" stroke="#111" stroke-width="1"/>
<line x1="969.2" y1="134.9" x2="1045.8" y2="134.9" stroke="#111" stroke-width="1.5"/>
<line x1="554" y1="153.5" x2="989" y2="153.5" stroke="#222" stroke-width="1"/>
<text x="760" y="151.1" font-size="9.3" text-anchor="middle" fill="#111">TNBC-S3</text>
<path d="M559.5,234.6 h-1.6 M559.5,225.98 h-1.6 M559.5,217.35 h-1.6 M559.5,208.73 h-1.6 M559.5,200.11 h-1.6 M559.5,191.48 h-1.6 M559.5,182.86 h-1.6 M559.5,174.24 h-1.6 M559.5,165.61 h-1.6 M562.5,234.6 v1.6 M567.3,234.6 v1.6 M572.1,234.6 v1.6 M576.9,234.6 v1.6 M581.7,234.6 v1.6 M586.5,234.6 v1.6 M591.3,234.6 v1.6 M596.1,234.6 v1.6 M600.9,234.6 v1.6 M605.7,234.6 v1.6 M610.5,234.6 v1.6 M615.3,234.6 v1.6 M620.1,234.6 v1.6 M624.9,234.6 v1.6 M629.7,234.6 v1.6 M634.5,234.6 v1.6" stroke="#444" stroke-width="0.6" fill="none"/>
<path d="M581.86,234.6 L581.86,233.86 L582.27,233.6 L582.67,233.25 L583.07,232.8 L583.48,232.23 L583.88,231.49 L584.28,230.58 L584.69,229.44 L585.09,228.04 L585.49,226.35 L585.9,224.33 L586.3,221.95 L586.7,219.19 L587.1,216.03 L587.51,212.48 L587.91,208.55 L588.31,204.29 L588.72,199.77 L589.12,195.1 L589.52,190.41 L589.93,185.86 L590.33,181.65 L590.73,178.04 L591.14,175.3 L591.54,173.85 L591.94,175.3 L592.35,179.23 L592.75,184.57 L593.15,190.68 L593.56,197.04 L593.96,203.25 L594.36,209.03 L594.76,214.2 L595.17,218.66 L595.57,222.4 L595.97,225.44 L596.38,227.86 L596.78,229.73 L597.18,231.14 L597.59,232.19 L597.99,232.95 L598.39,233.49 L598.8,233.86 L598.8,234.6 Z" fill="#3deb90"/>
<path d="M595.49,234.6 L595.49,233.81 L595.89,233.54 L596.29,233.18 L596.69,232.72 L597.1,232.13 L597.5,231.38 L597.9,230.45 L598.3,229.3 L598.7,227.89 L599.1,226.18 L599.5,224.16 L599.9,221.77 L600.3,218.99 L600.7,215.81 L601.1,212.23 L601.5,208.26 L601.9,203.93 L602.3,199.3 L602.71,194.48 L603.11,189.56 L603.51,184.72 L603.91,180.13 L604.31,176.01 L604.71,172.63 L605.11,170.31 L605.51,169.83 L605.91,172.63 L606.31,177.4 L606.71,183.33 L607.11,189.85 L607.51,196.48 L607.91,202.86 L608.32,208.74 L608.72,213.97 L609.12,218.46 L609.52,222.21 L609.92,225.27 L610.32,227.7 L610.72,229.59 L611.12,231.02 L611.52,232.09 L611.92,232.86 L612.32,233.42 L612.72,233.81 L612.72,234.6 Z" fill="#00c4f0"/>
<rect x="559.5" y="161.3" width="76" height="73.3" fill="none" stroke="#111" stroke-width="1"/>
<line x1="559.2" y1="234.9" x2="635.8" y2="234.9" stroke="#111" stroke-width="1.5"/>
<path d="M641.6,234.6 h-1.6 M641.6,225.98 h-1.6 M641.6,217.35 h-1.6 M641.6,208.73 h-1.6 M641.6,200.11 h-1.6 M641.6,191.48 h-1.6 M641.6,182.86 h-1.6 M641.6,174.24 h-1.6 M641.6,165.61 h-1.6 M644.6,234.6 v1.6 M649.4,234.6 v1.6 M654.2,234.6 v1.6 M659,234.6 v1.6 M663.8,234.6 v1.6 M668.6,234.6 v1.6 M673.4,234.6 v1.6 M678.2,234.6 v1.6 M683,234.6 v1.6 M687.8,234.6 v1.6 M692.6,234.6 v1.6 M697.4,234.6 v1.6 M702.2,234.6 v1.6 M707,234.6 v1.6 M711.8,234.6 v1.6 M716.6,234.6 v1.6" stroke="#444" stroke-width="0.6" fill="none"/>
<path d="M663.46,234.6 L663.46,233.92 L663.87,233.67 L664.27,233.35 L664.67,232.94 L665.08,232.4 L665.48,231.72 L665.88,230.87 L666.29,229.82 L666.69,228.52 L667.09,226.96 L667.5,225.09 L667.9,222.89 L668.3,220.33 L668.7,217.4 L669.11,214.11 L669.51,210.48 L669.91,206.53 L670.32,202.35 L670.72,198.03 L671.12,193.68 L671.53,189.46 L671.93,185.57 L672.33,182.22 L672.74,179.69 L673.14,178.34 L673.54,179.69 L673.95,183.33 L674.35,188.28 L674.75,193.93 L675.16,199.82 L675.56,205.57 L675.96,210.92 L676.36,215.71 L676.77,219.84 L677.17,223.3 L677.57,226.12 L677.98,228.36 L678.38,230.09 L678.78,231.4 L679.19,232.37 L679.59,233.07 L679.99,233.57 L680.4,233.92 L680.4,234.6 Z" fill="#3deb90"/>
<path d="M676.81,234.17 L677.21,233.99 L677.61,233.74 L678.01,233.4 L678.41,232.95 L678.81,232.36 L679.21,231.6 L679.61,230.62 L680.01,229.39 L680.41,227.86 L680.81,225.98 L681.22,223.72 L681.62,221.05 L682.02,217.93 L682.42,214.36 L682.82,210.35 L683.22,205.95 L683.62,201.22 L684.02,196.25 L684.42,191.18 L684.82,186.17 L685.22,181.43 L685.62,177.17 L686.02,173.62 L686.42,171.04 L686.82,169.75 L687.22,170.7 L687.62,173.9 L688.02,178.65 L688.42,184.41 L688.82,190.72 L689.22,197.16 L689.62,203.4 L690.02,209.19 L690.42,214.36 L690.82,218.82 L691.22,222.56 L691.62,225.6 L692.02,228.01 L692.42,229.87 L692.83,231.27 L693.23,232.3 L693.63,233.05 L694.03,233.57 L694.43,233.93 L694.83,234.17" fill="none" stroke="#35c8f0" stroke-width="0.85"/>
<path d="M682.48,234.17 L682.88,233.97 L683.28,233.69 L683.68,233.31 L684.09,232.8 L684.49,232.11 L684.89,231.2 L685.29,230.03 L685.69,228.54 L686.09,226.68 L686.49,224.39 L686.89,221.64 L687.29,218.38 L687.69,214.6 L688.09,210.32 L688.49,205.58 L688.89,200.46 L689.29,195.1 L689.69,189.66 L690.09,184.36 L690.49,179.45 L690.89,175.19 L691.29,171.91 L691.69,169.94 L692.09,170.05 L692.49,172.97 L692.89,177.81 L693.29,183.9 L693.69,190.65 L694.09,197.56 L694.49,204.22 L694.89,210.32 L695.29,215.68 L695.7,220.22 L696.1,223.93 L696.5,226.87 L696.9,229.13 L697.3,230.81 L697.7,232.04 L698.1,232.9 L698.5,233.5 L698.9,233.9 L699.3,234.17" fill="none" stroke="#f05a5a" stroke-width="0.85"/>
<rect x="641.6" y="161.3" width="76" height="73.3" fill="none" stroke="#111" stroke-width="1"/>
<line x1="641.3" y1="234.9" x2="717.9" y2="234.9" stroke="#111" stroke-width="1.5"/>
<text x="643.2" y="171.4" font-size="9.2" fill="#111">FC=2.02±0.04</text>
<text x="712.8" y="171.7" font-size="9.6" text-anchor="end" fill="#111">**</text>
<path d="M723.6,234.6 h-1.6 M723.6,225.98 h-1.6 M723.6,217.35 h-1.6 M723.6,208.73 h-1.6 M723.6,200.11 h-1.6 M723.6,191.48 h-1.6 M723.6,182.86 h-1.6 M723.6,174.24 h-1.6 M723.6,165.61 h-1.6 M726.6,234.6 v1.6 M731.4,234.6 v1.6 M736.2,234.6 v1.6 M741,234.6 v1.6 M745.8,234.6 v1.6 M750.6,234.6 v1.6 M755.4,234.6 v1.6 M760.2,234.6 v1.6 M765,234.6 v1.6 M769.8,234.6 v1.6 M774.6,234.6 v1.6 M779.4,234.6 v1.6 M784.2,234.6 v1.6 M789,234.6 v1.6 M793.8,234.6 v1.6 M798.6,234.6 v1.6" stroke="#444" stroke-width="0.6" fill="none"/>
<path d="M756.86,234.6 L756.86,233.87 L757.27,233.61 L757.67,233.27 L758.07,232.83 L758.48,232.26 L758.88,231.54 L759.28,230.63 L759.69,229.5 L760.09,228.13 L760.49,226.46 L760.9,224.46 L761.3,222.12 L761.7,219.39 L762.1,216.27 L762.51,212.77 L762.91,208.89 L763.31,204.69 L763.72,200.23 L764.12,195.62 L764.52,190.99 L764.93,186.5 L765.33,182.35 L765.73,178.78 L766.14,176.08 L766.54,174.65 L766.94,176.08 L767.35,179.96 L767.75,185.23 L768.15,191.26 L768.56,197.53 L768.96,203.66 L769.36,209.36 L769.76,214.47 L770.17,218.87 L770.57,222.56 L770.97,225.56 L771.38,227.94 L771.78,229.79 L772.18,231.19 L772.59,232.22 L772.99,232.97 L773.39,233.5 L773.8,233.87 L773.8,234.6 Z" fill="#3deb90"/>
<path d="M771.01,234.19 L771.41,234.01 L771.81,233.78 L772.21,233.46 L772.61,233.03 L773.01,232.46 L773.41,231.73 L773.81,230.8 L774.21,229.62 L774.61,228.16 L775.01,226.37 L775.42,224.21 L775.82,221.65 L776.22,218.67 L776.62,215.26 L777.02,211.44 L777.42,207.23 L777.82,202.71 L778.22,197.96 L778.62,193.12 L779.02,188.34 L779.42,183.81 L779.82,179.73 L780.22,176.34 L780.62,173.88 L781.02,172.65 L781.42,173.56 L781.82,176.62 L782.22,181.15 L782.62,186.65 L783.02,192.68 L783.42,198.83 L783.82,204.8 L784.22,210.33 L784.62,215.26 L785.02,219.53 L785.42,223.1 L785.82,226 L786.22,228.3 L786.62,230.08 L787.03,231.42 L787.43,232.41 L787.83,233.11 L788.23,233.61 L788.63,233.96 L789.03,234.19" fill="none" stroke="#35c8f0" stroke-width="0.85"/>
<path d="M776.68,234.18 L777.08,233.98 L777.48,233.71 L777.88,233.33 L778.29,232.83 L778.69,232.15 L779.09,231.26 L779.49,230.1 L779.89,228.64 L780.29,226.8 L780.69,224.55 L781.09,221.84 L781.49,218.62 L781.89,214.91 L782.29,210.69 L782.69,206.02 L783.09,200.99 L783.49,195.71 L783.89,190.36 L784.29,185.14 L784.69,180.29 L785.09,176.11 L785.49,172.88 L785.89,170.94 L786.29,171.05 L786.69,173.92 L787.09,178.68 L787.49,184.68 L787.89,191.33 L788.29,198.13 L788.69,204.68 L789.09,210.69 L789.49,215.97 L789.9,220.44 L790.3,224.09 L790.7,226.99 L791.1,229.21 L791.5,230.87 L791.9,232.08 L792.3,232.93 L792.7,233.52 L793.1,233.92 L793.5,234.18" fill="none" stroke="#f5a04a" stroke-width="0.85"/>
<rect x="723.6" y="161.3" width="76" height="73.3" fill="none" stroke="#111" stroke-width="1"/>
<line x1="723.3" y1="234.9" x2="799.9" y2="234.9" stroke="#111" stroke-width="1.5"/>
<text x="725.2" y="171.4" font-size="9.2" fill="#111">FC=2.14±0.08</text>
<text x="794.8" y="171.7" font-size="9.6" text-anchor="end" fill="#111">**</text>
<path d="M808.5,234.6 v1.6 M813.3,234.6 v1.6 M818.1,234.6 v1.6 M822.9,234.6 v1.6 M827.7,234.6 v1.6 M832.5,234.6 v1.6 M837.3,234.6 v1.6 M842.1,234.6 v1.6 M846.9,234.6 v1.6 M851.7,234.6 v1.6 M856.5,234.6 v1.6 M861.3,234.6 v1.6 M866.1,234.6 v1.6 M870.9,234.6 v1.6 M875.7,234.6 v1.6 M880.5,234.6 v1.6" stroke="#444" stroke-width="0.6" fill="none"/>
<path d="M827.76,234.6 L827.76,233.91 L828.17,233.66 L828.57,233.34 L828.97,232.92 L829.38,232.38 L829.78,231.69 L830.18,230.83 L830.59,229.76 L830.99,228.45 L831.39,226.86 L831.8,224.97 L832.2,222.74 L832.6,220.15 L833,217.19 L833.41,213.86 L833.81,210.18 L834.21,206.19 L834.62,201.95 L835.02,197.57 L835.42,193.17 L835.83,188.9 L836.23,184.96 L836.63,181.57 L837.04,179 L837.44,177.64 L837.84,179 L838.25,182.69 L838.65,187.7 L839.05,193.43 L839.46,199.38 L839.86,205.21 L840.26,210.63 L840.66,215.47 L841.07,219.66 L841.47,223.16 L841.87,226.01 L842.28,228.28 L842.68,230.03 L843.08,231.36 L843.49,232.34 L843.89,233.05 L844.29,233.56 L844.7,233.91 L844.7,234.6 Z" fill="#3deb90"/>
<path d="M841.81,234.2 L842.21,234.03 L842.61,233.8 L843.01,233.49 L843.41,233.08 L843.81,232.53 L844.21,231.83 L844.61,230.92 L845.01,229.78 L845.41,228.37 L845.81,226.63 L846.22,224.54 L846.62,222.07 L847.02,219.19 L847.42,215.89 L847.82,212.19 L848.22,208.11 L848.62,203.74 L849.02,199.14 L849.42,194.46 L849.82,189.83 L850.22,185.44 L850.62,181.5 L851.02,178.22 L851.42,175.84 L851.82,174.65 L852.22,175.53 L852.62,178.49 L853.02,182.87 L853.42,188.2 L853.82,194.03 L854.22,199.99 L854.62,205.76 L855.02,211.11 L855.42,215.89 L855.82,220.01 L856.22,223.47 L856.62,226.28 L857.02,228.51 L857.42,230.23 L857.83,231.52 L858.23,232.48 L858.63,233.16 L859.03,233.65 L859.43,233.98 L859.83,234.2" fill="none" stroke="#35c8f0" stroke-width="0.85"/>
<path d="M846.52,234.18 L846.93,233.97 L847.33,233.68 L847.74,233.27 L848.14,232.71 L848.55,231.95 L848.95,230.94 L849.36,229.63 L849.76,227.95 L850.17,225.84 L850.57,223.25 L850.98,220.13 L851.38,216.45 L851.79,212.22 L852.2,207.47 L852.6,202.28 L853.01,196.78 L853.41,191.16 L853.82,185.64 L854.22,180.52 L854.63,176.11 L855.03,172.75 L855.44,170.83 L855.84,171.33 L856.25,174.75 L856.65,180.09 L857.06,186.63 L857.46,193.71 L857.87,200.8 L858.28,207.47 L858.68,213.43 L859.09,218.53 L859.49,222.73 L859.9,226.05 L860.3,228.61 L860.71,230.5 L861.11,231.87 L861.52,232.82 L861.92,233.47 L862.33,233.9 L862.73,234.18" fill="none" stroke="#7ee040" stroke-width="0.85"/>
<polyline points="805.5,161.3 881.5,161.3 881.5,234.6" fill="none" stroke="#111" stroke-width="1"/>
<line x1="813.5" y1="234.5" x2="881.5" y2="234.5" stroke="#111" stroke-width="1"/>
<text x="814.5" y="171.4" font-size="9.2" fill="#111">C=1.86±0.03</text>
<text x="876.7" y="171.7" font-size="9.6" text-anchor="end" fill="#111">**</text>
<path d="M888.4,234.6 h-1.6 M888.4,225.98 h-1.6 M888.4,217.35 h-1.6 M888.4,208.73 h-1.6 M888.4,200.11 h-1.6 M888.4,191.48 h-1.6 M888.4,182.86 h-1.6 M888.4,174.24 h-1.6 M888.4,165.61 h-1.6 M891.4,234.6 v1.6 M896.2,234.6 v1.6 M901,234.6 v1.6 M905.8,234.6 v1.6 M910.6,234.6 v1.6 M915.4,234.6 v1.6 M920.2,234.6 v1.6 M925,234.6 v1.6 M929.8,234.6 v1.6 M934.6,234.6 v1.6 M939.4,234.6 v1.6 M944.2,234.6 v1.6 M949,234.6 v1.6 M953.8,234.6 v1.6 M958.6,234.6 v1.6 M963.4,234.6 v1.6" stroke="#444" stroke-width="0.6" fill="none"/>
<path d="M909.46,234.6 L909.46,233.93 L909.87,233.69 L910.27,233.38 L910.67,232.97 L911.08,232.45 L911.48,231.79 L911.88,230.96 L912.29,229.93 L912.69,228.67 L913.09,227.14 L913.5,225.31 L913.9,223.16 L914.3,220.66 L914.7,217.8 L915.11,214.59 L915.51,211.03 L915.91,207.18 L916.32,203.1 L916.72,198.87 L917.12,194.62 L917.53,190.51 L917.93,186.7 L918.33,183.43 L918.74,180.95 L919.14,179.64 L919.54,180.95 L919.95,184.51 L920.35,189.35 L920.75,194.87 L921.16,200.62 L921.56,206.24 L921.96,211.47 L922.36,216.14 L922.77,220.18 L923.17,223.56 L923.57,226.32 L923.98,228.5 L924.38,230.19 L924.78,231.47 L925.19,232.42 L925.59,233.11 L925.99,233.59 L926.4,233.93 L926.4,234.6 Z" fill="#3deb90"/>
<path d="M923.51,234.2 L923.91,234.03 L924.31,233.8 L924.71,233.49 L925.11,233.08 L925.51,232.53 L925.91,231.83 L926.31,230.92 L926.71,229.78 L927.11,228.37 L927.51,226.63 L927.92,224.54 L928.32,222.07 L928.72,219.19 L929.12,215.89 L929.52,212.19 L929.92,208.11 L930.32,203.74 L930.72,199.14 L931.12,194.46 L931.52,189.83 L931.92,185.44 L932.32,181.5 L932.72,178.22 L933.12,175.84 L933.52,174.65 L933.92,175.53 L934.32,178.49 L934.72,182.87 L935.12,188.2 L935.52,194.03 L935.92,199.99 L936.32,205.76 L936.72,211.11 L937.12,215.89 L937.52,220.01 L937.92,223.47 L938.32,226.28 L938.72,228.51 L939.12,230.23 L939.53,231.52 L939.93,232.48 L940.33,233.16 L940.73,233.65 L941.13,233.98 L941.53,234.2" fill="none" stroke="#35c8f0" stroke-width="0.85"/>
<path d="M923.85,234.18 L924.25,234 L924.66,233.74 L925.06,233.38 L925.47,232.91 L925.87,232.27 L926.28,231.45 L926.68,230.38 L927.09,229.02 L927.49,227.33 L927.9,225.26 L928.3,222.76 L928.71,219.81 L929.11,216.37 L929.52,212.47 L929.92,208.12 L930.33,203.39 L930.73,198.39 L931.14,193.25 L931.54,188.15 L931.95,183.3 L932.35,178.94 L932.76,175.33 L933.16,172.77 L933.57,171.61 L933.97,172.95 L934.38,176.54 L934.78,181.64 L935.19,187.69 L935.59,194.19 L936,200.69 L936.4,206.87 L936.81,212.47 L937.21,217.36 L937.62,221.48 L938.02,224.84 L938.43,227.5 L938.83,229.55 L939.24,231.09 L939.64,232.21 L940.05,233 L940.45,233.56 L940.86,233.93 L941.26,234.18" fill="none" stroke="#3a7a2a" stroke-width="0.85"/>
<rect x="888.4" y="161.3" width="76" height="73.3" fill="none" stroke="#111" stroke-width="1"/>
<line x1="888.1" y1="234.9" x2="964.7" y2="234.9" stroke="#111" stroke-width="1.5"/>
<text x="890" y="171.4" font-size="9.2" fill="#111">FC=1.07±0.04</text>
<path d="M969.5,234.6 h-1.6 M969.5,225.98 h-1.6 M969.5,217.35 h-1.6 M969.5,208.73 h-1.6 M969.5,200.11 h-1.6 M969.5,191.48 h-1.6 M969.5,182.86 h-1.6 M969.5,174.24 h-1.6 M969.5,165.61 h-1.6 M972.5,234.6 v1.6 M977.3,234.6 v1.6 M982.1,234.6 v1.6 M986.9,234.6 v1.6 M991.7,234.6 v1.6 M996.5,234.6 v1.6 M1001.3,234.6 v1.6 M1006.1,234.6 v1.6 M1010.9,234.6 v1.6 M1015.7,234.6 v1.6 M1020.5,234.6 v1.6 M1025.3,234.6 v1.6 M1030.1,234.6 v1.6 M1034.9,234.6 v1.6 M1039.7,234.6 v1.6 M1044.5,234.6 v1.6" stroke="#444" stroke-width="0.6" fill="none"/>
<path d="M991.46,234.6 L991.46,233.91 L991.87,233.66 L992.27,233.34 L992.67,232.92 L993.08,232.38 L993.48,231.69 L993.88,230.83 L994.29,229.76 L994.69,228.45 L995.09,226.86 L995.5,224.97 L995.9,222.74 L996.3,220.15 L996.7,217.19 L997.11,213.86 L997.51,210.18 L997.91,206.19 L998.32,201.95 L998.72,197.57 L999.12,193.17 L999.53,188.9 L999.93,184.96 L1000.33,181.57 L1000.74,179 L1001.14,177.64 L1001.54,179 L1001.95,182.69 L1002.35,187.7 L1002.75,193.43 L1003.16,199.38 L1003.56,205.21 L1003.96,210.63 L1004.36,215.47 L1004.77,219.66 L1005.17,223.16 L1005.57,226.01 L1005.98,228.28 L1006.38,230.03 L1006.78,231.36 L1007.19,232.34 L1007.59,233.05 L1007.99,233.56 L1008.4,233.91 L1008.4,234.6 Z" fill="#3deb90"/>
<path d="M1004.81,234.2 L1005.21,234.03 L1005.61,233.8 L1006.01,233.49 L1006.41,233.08 L1006.81,232.53 L1007.21,231.83 L1007.61,230.92 L1008.01,229.78 L1008.41,228.37 L1008.81,226.63 L1009.22,224.54 L1009.62,222.07 L1010.02,219.19 L1010.42,215.89 L1010.82,212.19 L1011.22,208.11 L1011.62,203.74 L1012.02,199.14 L1012.42,194.46 L1012.82,189.83 L1013.22,185.44 L1013.62,181.5 L1014.02,178.22 L1014.42,175.84 L1014.82,174.65 L1015.22,175.53 L1015.62,178.49 L1016.02,182.87 L1016.42,188.2 L1016.82,194.03 L1017.22,199.99 L1017.62,205.76 L1018.02,211.11 L1018.42,215.89 L1018.82,220.01 L1019.22,223.47 L1019.62,226.28 L1020.02,228.51 L1020.42,230.23 L1020.83,231.52 L1021.23,232.48 L1021.63,233.16 L1022.03,233.65 L1022.43,233.98 L1022.83,234.2" fill="none" stroke="#35c8f0" stroke-width="0.85"/>
<path d="M1009.38,234.19 L1009.78,234 L1010.18,233.74 L1010.58,233.37 L1010.99,232.88 L1011.39,232.22 L1011.79,231.36 L1012.19,230.24 L1012.59,228.82 L1012.99,227.05 L1013.39,224.86 L1013.79,222.23 L1014.19,219.12 L1014.59,215.52 L1014.99,211.44 L1015.39,206.92 L1015.79,202.04 L1016.19,196.93 L1016.59,191.74 L1016.99,186.68 L1017.39,181.99 L1017.79,177.94 L1018.19,174.81 L1018.59,172.92 L1018.99,173.03 L1019.39,175.82 L1019.79,180.43 L1020.19,186.24 L1020.59,192.68 L1020.99,199.27 L1021.39,205.62 L1021.79,211.44 L1022.19,216.55 L1022.6,220.88 L1023,224.42 L1023.4,227.22 L1023.8,229.38 L1024.2,230.99 L1024.6,232.16 L1025,232.98 L1025.4,233.55 L1025.8,233.94 L1026.2,234.19" fill="none" stroke="#f05a5a" stroke-width="0.85"/>
<path d="M1009.38,234.18 L1009.78,233.98 L1010.18,233.71 L1010.58,233.33 L1010.99,232.83 L1011.39,232.15 L1011.79,231.26 L1012.19,230.1 L1012.59,228.64 L1012.99,226.8 L1013.39,224.55 L1013.79,221.84 L1014.19,218.62 L1014.59,214.91 L1014.99,210.69 L1015.39,206.02 L1015.79,200.99 L1016.19,195.71 L1016.59,190.36 L1016.99,185.14 L1017.39,180.29 L1017.79,176.11 L1018.19,172.88 L1018.59,170.94 L1018.99,171.05 L1019.39,173.92 L1019.79,178.68 L1020.19,184.68 L1020.59,191.33 L1020.99,198.13 L1021.39,204.68 L1021.79,210.69 L1022.19,215.97 L1022.6,220.44 L1023,224.09 L1023.4,226.99 L1023.8,229.21 L1024.2,230.87 L1024.6,232.08 L1025,232.93 L1025.4,233.52 L1025.8,233.92 L1026.2,234.18" fill="none" stroke="#f5a04a" stroke-width="0.85"/>
<path d="M1010.42,234.16 L1010.83,233.94 L1011.23,233.63 L1011.64,233.2 L1012.04,232.62 L1012.45,231.82 L1012.85,230.77 L1013.26,229.4 L1013.66,227.64 L1014.07,225.43 L1014.47,222.72 L1014.88,219.45 L1015.28,215.6 L1015.69,211.17 L1016.1,206.2 L1016.5,200.76 L1016.91,195.01 L1017.31,189.12 L1017.72,183.35 L1018.12,177.99 L1018.53,173.37 L1018.93,169.85 L1019.34,167.84 L1019.74,168.36 L1020.15,171.94 L1020.55,177.53 L1020.96,184.38 L1021.36,191.8 L1021.77,199.22 L1022.18,206.2 L1022.58,212.44 L1022.99,217.78 L1023.39,222.17 L1023.8,225.65 L1024.2,228.33 L1024.61,230.31 L1025.01,231.74 L1025.42,232.74 L1025.82,233.42 L1026.23,233.87 L1026.63,234.16" fill="none" stroke="#7ee040" stroke-width="0.85"/>
<path d="M1004.75,234.19 L1005.15,234.01 L1005.56,233.75 L1005.96,233.4 L1006.37,232.93 L1006.77,232.31 L1007.18,231.5 L1007.58,230.44 L1007.99,229.11 L1008.39,227.45 L1008.8,225.41 L1009.2,222.95 L1009.61,220.04 L1010.01,216.66 L1010.42,212.82 L1010.82,208.54 L1011.23,203.89 L1011.63,198.97 L1012.04,193.91 L1012.44,188.89 L1012.85,184.11 L1013.25,179.82 L1013.66,176.27 L1014.06,173.75 L1014.47,172.61 L1014.87,173.93 L1015.28,177.46 L1015.68,182.48 L1016.09,188.44 L1016.49,194.83 L1016.9,201.23 L1017.3,207.31 L1017.71,212.82 L1018.11,217.63 L1018.52,221.69 L1018.92,225 L1019.33,227.62 L1019.73,229.63 L1020.14,231.14 L1020.54,232.25 L1020.95,233.03 L1021.35,233.57 L1021.76,233.94 L1022.16,234.19" fill="none" stroke="#3a7a2a" stroke-width="0.85"/>
<rect x="969.5" y="161.3" width="76" height="73.3" fill="none" stroke="#111" stroke-width="1"/>
<line x1="969.2" y1="234.9" x2="1045.8" y2="234.9" stroke="#111" stroke-width="1.5"/>
<line x1="554" y1="254.5" x2="989" y2="254.5" stroke="#222" stroke-width="1"/>
<text x="760" y="252" font-size="9.3" text-anchor="middle" fill="#111">A549</text>
<path d="M559.5,336.5 h-1.6 M559.5,327.88 h-1.6 M559.5,319.25 h-1.6 M559.5,310.63 h-1.6 M559.5,302.01 h-1.6 M559.5,293.38 h-1.6 M559.5,284.76 h-1.6 M559.5,276.14 h-1.6 M559.5,267.51 h-1.6 M562.5,336.5 v1.6 M567.3,336.5 v1.6 M572.1,336.5 v1.6 M576.9,336.5 v1.6 M581.7,336.5 v1.6 M586.5,336.5 v1.6 M591.3,336.5 v1.6 M596.1,336.5 v1.6 M600.9,336.5 v1.6 M605.7,336.5 v1.6 M610.5,336.5 v1.6 M615.3,336.5 v1.6 M620.1,336.5 v1.6 M624.9,336.5 v1.6 M629.7,336.5 v1.6 M634.5,336.5 v1.6" stroke="#444" stroke-width="0.6" fill="none"/>
<path d="M579.84,336.5 L579.84,335.68 L580.25,335.41 L580.65,335.07 L581.06,334.63 L581.47,334.09 L581.87,333.41 L582.28,332.56 L582.69,331.53 L583.09,330.28 L583.5,328.78 L583.91,327 L584.31,324.91 L584.72,322.48 L585.13,319.69 L585.53,316.54 L585.94,313.01 L586.35,309.13 L586.76,304.92 L587.16,300.44 L587.57,295.75 L587.98,290.95 L588.38,286.17 L588.79,281.56 L589.2,277.28 L589.6,273.56 L590.01,270.62 L590.42,268.79 L590.82,269.19 L591.23,272.42 L591.64,277.28 L592.04,283.16 L592.45,289.54 L592.86,296.03 L593.26,302.31 L593.67,308.17 L594.08,313.45 L594.49,318.07 L594.89,322.01 L595.3,325.3 L595.71,327.98 L596.11,330.12 L596.52,331.79 L596.93,333.08 L597.33,334.05 L597.74,334.77 L598.15,335.3 L598.55,335.68 L598.55,336.5 Z" fill="#f7952a"/>
<path d="M609.06,336.5 L609.06,335.97 L609.47,335.78 L609.87,335.52 L610.27,335.2 L610.68,334.78 L611.08,334.25 L611.48,333.59 L611.89,332.76 L612.29,331.75 L612.69,330.53 L613.1,329.07 L613.5,327.35 L613.9,325.35 L614.3,323.06 L614.71,320.49 L615.11,317.65 L615.51,314.57 L615.92,311.3 L616.32,307.92 L616.72,304.52 L617.13,301.22 L617.53,298.18 L617.93,295.57 L618.34,293.58 L618.74,292.53 L619.14,293.58 L619.55,296.43 L619.95,300.3 L620.35,304.72 L620.76,309.32 L621.16,313.81 L621.56,317.99 L621.96,321.73 L622.37,324.96 L622.77,327.67 L623.17,329.87 L623.58,331.62 L623.98,332.97 L624.38,334 L624.79,334.75 L625.19,335.3 L625.59,335.69 L626,335.97 L626,336.5 Z" fill="#00c4f0"/>
<rect x="559.5" y="263.2" width="76" height="73.3" fill="none" stroke="#111" stroke-width="1"/>
<line x1="559.2" y1="336.8" x2="635.8" y2="336.8" stroke="#111" stroke-width="1.5"/>
<path d="M641.6,336.5 h-1.6 M641.6,327.88 h-1.6 M641.6,319.25 h-1.6 M641.6,310.63 h-1.6 M641.6,302.01 h-1.6 M641.6,293.38 h-1.6 M641.6,284.76 h-1.6 M641.6,276.14 h-1.6 M641.6,267.51 h-1.6 M644.6,336.5 v1.6 M649.4,336.5 v1.6 M654.2,336.5 v1.6 M659,336.5 v1.6 M663.8,336.5 v1.6 M668.6,336.5 v1.6 M673.4,336.5 v1.6 M678.2,336.5 v1.6 M683,336.5 v1.6 M687.8,336.5 v1.6 M692.6,336.5 v1.6 M697.4,336.5 v1.6 M702.2,336.5 v1.6 M707,336.5 v1.6 M711.8,336.5 v1.6 M716.6,336.5 v1.6" stroke="#444" stroke-width="0.6" fill="none"/>
<path d="M661.64,336.5 L661.64,335.67 L662.05,335.4 L662.45,335.06 L662.86,334.62 L663.27,334.07 L663.67,333.39 L664.08,332.54 L664.49,331.5 L664.89,330.24 L665.3,328.74 L665.71,326.94 L666.11,324.84 L666.52,322.39 L666.93,319.59 L667.33,316.42 L667.74,312.87 L668.15,308.97 L668.56,304.73 L668.96,300.22 L669.37,295.51 L669.78,290.68 L670.18,285.87 L670.59,281.23 L671,276.94 L671.4,273.19 L671.81,270.23 L672.22,268.4 L672.62,268.79 L673.03,272.04 L673.44,276.94 L673.84,282.84 L674.25,289.26 L674.66,295.79 L675.06,302.11 L675.47,308 L675.88,313.31 L676.29,317.96 L676.69,321.93 L677.1,325.23 L677.51,327.93 L677.91,330.08 L678.32,331.77 L678.73,333.06 L679.13,334.04 L679.54,334.76 L679.95,335.29 L680.35,335.67 L680.35,336.5 Z" fill="#f7952a"/>
<path d="M689.82,336.2 L690.22,336.06 L690.63,335.87 L691.04,335.61 L691.45,335.25 L691.85,334.78 L692.26,334.15 L692.67,333.34 L693.08,332.31 L693.48,331.02 L693.89,329.43 L694.3,327.52 L694.71,325.27 L695.11,322.65 L695.52,319.69 L695.93,316.41 L696.34,312.87 L696.74,309.16 L697.15,305.39 L697.56,301.72 L697.97,298.32 L698.37,295.37 L698.78,293.1 L699.19,291.74 L699.6,291.81 L700,293.84 L700.41,297.18 L700.82,301.4 L701.23,306.07 L701.63,310.86 L702.04,315.47 L702.45,319.69 L702.86,323.4 L703.26,326.54 L703.67,329.11 L704.08,331.15 L704.49,332.71 L704.89,333.88 L705.3,334.73 L705.71,335.33 L706.12,335.74 L706.52,336.02 L706.93,336.2" fill="none" stroke="#35c8f0" stroke-width="0.85"/>
<path d="M695.49,336.08 L695.9,335.87 L696.3,335.57 L696.71,335.15 L697.12,334.56 L697.53,333.76 L697.94,332.7 L698.34,331.31 L698.75,329.53 L699.16,327.29 L699.57,324.54 L699.98,321.22 L700.38,317.32 L700.79,312.85 L701.2,307.87 L701.61,302.47 L702.02,296.81 L702.43,291.13 L702.83,285.68 L703.24,280.78 L703.65,276.79 L704.06,274.09 L704.47,273.27 L704.87,275.64 L705.28,280.37 L705.69,286.64 L706.1,293.7 L706.51,300.94 L706.91,307.87 L707.32,314.13 L707.73,319.52 L708.14,323.98 L708.55,327.52 L708.95,330.23 L709.36,332.24 L709.77,333.68 L710.18,334.68 L710.59,335.36 L710.99,335.8 L711.4,336.08" fill="none" stroke="#f05a5a" stroke-width="0.85"/>
<rect x="641.6" y="263.2" width="76" height="73.3" fill="none" stroke="#111" stroke-width="1"/>
<line x1="641.3" y1="336.8" x2="717.9" y2="336.8" stroke="#111" stroke-width="1.5"/>
<text x="643.2" y="273.3" font-size="9.2" fill="#111">FC=2.19±0.11</text>
<text x="710.4" y="273.6" font-size="9.6" text-anchor="end" fill="#111">**</text>
<path d="M723.6,336.5 h-1.6 M723.6,327.88 h-1.6 M723.6,319.25 h-1.6 M723.6,310.63 h-1.6 M723.6,302.01 h-1.6 M723.6,293.38 h-1.6 M723.6,284.76 h-1.6 M723.6,276.14 h-1.6 M723.6,267.51 h-1.6 M726.6,336.5 v1.6 M731.4,336.5 v1.6 M736.2,336.5 v1.6 M741,336.5 v1.6 M745.8,336.5 v1.6 M750.6,336.5 v1.6 M755.4,336.5 v1.6 M760.2,336.5 v1.6 M765,336.5 v1.6 M769.8,336.5 v1.6 M774.6,336.5 v1.6 M779.4,336.5 v1.6 M784.2,336.5 v1.6 M789,336.5 v1.6 M793.8,336.5 v1.6 M798.6,336.5 v1.6" stroke="#444" stroke-width="0.6" fill="none"/>
<path d="M743.64,336.5 L743.64,335.68 L744.05,335.41 L744.45,335.07 L744.86,334.63 L745.27,334.09 L745.67,333.41 L746.08,332.56 L746.49,331.53 L746.89,330.28 L747.3,328.78 L747.71,327 L748.11,324.91 L748.52,322.48 L748.93,319.69 L749.33,316.54 L749.74,313.01 L750.15,309.13 L750.56,304.92 L750.96,300.44 L751.37,295.75 L751.78,290.95 L752.18,286.17 L752.59,281.56 L753,277.28 L753.4,273.56 L753.81,270.62 L754.22,268.79 L754.62,269.19 L755.03,272.42 L755.44,277.28 L755.84,283.16 L756.25,289.54 L756.66,296.03 L757.06,302.31 L757.47,308.17 L757.88,313.45 L758.29,318.07 L758.69,322.01 L759.1,325.3 L759.51,327.98 L759.91,330.12 L760.32,331.79 L760.73,333.08 L761.13,334.05 L761.54,334.77 L761.95,335.3 L762.35,335.68 L762.35,336.5 Z" fill="#f7952a"/>
<path d="M772.12,336.2 L772.52,336.06 L772.93,335.87 L773.34,335.61 L773.75,335.25 L774.15,334.78 L774.56,334.15 L774.97,333.34 L775.38,332.31 L775.78,331.02 L776.19,329.43 L776.6,327.52 L777.01,325.27 L777.41,322.65 L777.82,319.69 L778.23,316.41 L778.64,312.87 L779.04,309.16 L779.45,305.39 L779.86,301.72 L780.27,298.32 L780.67,295.37 L781.08,293.1 L781.49,291.74 L781.9,291.81 L782.3,293.84 L782.71,297.18 L783.12,301.4 L783.53,306.07 L783.93,310.86 L784.34,315.47 L784.75,319.69 L785.16,323.4 L785.56,326.54 L785.97,329.11 L786.38,331.15 L786.79,332.71 L787.19,333.88 L787.6,334.73 L788.01,335.33 L788.42,335.74 L788.82,336.02 L789.23,336.2" fill="none" stroke="#35c8f0" stroke-width="0.85"/>
<path d="M779.49,336.06 L779.9,335.83 L780.3,335.51 L780.71,335.07 L781.12,334.45 L781.53,333.6 L781.94,332.48 L782.34,331.01 L782.75,329.12 L783.16,326.75 L783.57,323.84 L783.98,320.33 L784.38,316.2 L784.79,311.47 L785.2,306.19 L785.61,300.48 L786.02,294.49 L786.43,288.47 L786.83,282.7 L787.24,277.52 L787.65,273.3 L788.06,270.45 L788.47,269.57 L788.87,272.08 L789.28,277.09 L789.69,283.72 L790.1,291.2 L790.51,298.86 L790.91,306.19 L791.32,312.82 L791.73,318.53 L792.14,323.24 L792.55,326.99 L792.95,329.86 L793.36,331.99 L793.77,333.51 L794.18,334.57 L794.59,335.29 L794.99,335.76 L795.4,336.06" fill="none" stroke="#f5a04a" stroke-width="0.85"/>
<rect x="723.6" y="263.2" width="76" height="73.3" fill="none" stroke="#111" stroke-width="1"/>
<line x1="723.3" y1="336.8" x2="799.9" y2="336.8" stroke="#111" stroke-width="1.5"/>
<text x="725.2" y="273.3" font-size="9.2" fill="#111">FC=2.22±0.15</text>
<text x="792.4" y="273.6" font-size="9.6" text-anchor="end" fill="#111">**</text>
<path d="M805.5,336.5 h-1.6 M805.5,327.88 h-1.6 M805.5,319.25 h-1.6 M805.5,310.63 h-1.6 M805.5,302.01 h-1.6 M805.5,293.38 h-1.6 M805.5,284.76 h-1.6 M805.5,276.14 h-1.6 M805.5,267.51 h-1.6 M808.5,336.5 v1.6 M813.3,336.5 v1.6 M818.1,336.5 v1.6 M822.9,336.5 v1.6 M827.7,336.5 v1.6 M832.5,336.5 v1.6 M837.3,336.5 v1.6 M842.1,336.5 v1.6 M846.9,336.5 v1.6 M851.7,336.5 v1.6 M856.5,336.5 v1.6 M861.3,336.5 v1.6 M866.1,336.5 v1.6 M870.9,336.5 v1.6 M875.7,336.5 v1.6 M880.5,336.5 v1.6" stroke="#444" stroke-width="0.6" fill="none"/>
<path d="M826.44,336.5 L826.44,335.68 L826.85,335.41 L827.25,335.07 L827.66,334.63 L828.07,334.09 L828.47,333.41 L828.88,332.56 L829.29,331.53 L829.69,330.28 L830.1,328.78 L830.51,327 L830.91,324.91 L831.32,322.48 L831.73,319.69 L832.13,316.54 L832.54,313.01 L832.95,309.13 L833.36,304.92 L833.76,300.44 L834.17,295.75 L834.58,290.95 L834.98,286.17 L835.39,281.56 L835.8,277.28 L836.2,273.56 L836.61,270.62 L837.02,268.79 L837.42,269.19 L837.83,272.42 L838.24,277.28 L838.64,283.16 L839.05,289.54 L839.46,296.03 L839.86,302.31 L840.27,308.17 L840.68,313.45 L841.09,318.07 L841.49,322.01 L841.9,325.3 L842.31,327.98 L842.71,330.12 L843.12,331.79 L843.53,333.08 L843.93,334.05 L844.34,334.77 L844.75,335.3 L845.15,335.68 L845.15,336.5 Z" fill="#f7952a"/>
<path d="M854.92,336.22 L855.32,336.09 L855.73,335.92 L856.14,335.67 L856.55,335.34 L856.95,334.89 L857.36,334.31 L857.77,333.55 L858.18,332.59 L858.58,331.38 L858.99,329.9 L859.4,328.12 L859.81,326.02 L860.21,323.58 L860.62,320.81 L861.03,317.75 L861.44,314.44 L861.84,310.98 L862.25,307.46 L862.66,304.04 L863.07,300.86 L863.47,298.11 L863.88,295.99 L864.29,294.72 L864.7,294.79 L865.1,296.68 L865.51,299.8 L865.92,303.74 L866.33,308.1 L866.73,312.57 L867.14,316.87 L867.55,320.81 L867.96,324.27 L868.36,327.21 L868.77,329.6 L869.18,331.5 L869.59,332.96 L869.99,334.05 L870.4,334.84 L870.81,335.4 L871.22,335.79 L871.62,336.05 L872.03,336.22" fill="none" stroke="#35c8f0" stroke-width="0.85"/>
<path d="M861.99,336.04 L862.4,335.8 L862.8,335.44 L863.21,334.93 L863.62,334.22 L864.02,333.24 L864.43,331.91 L864.83,330.17 L865.24,327.91 L865.64,325.08 L866.05,321.58 L866.46,317.39 L866.86,312.5 L867.27,306.96 L867.67,300.87 L868.08,294.42 L868.48,287.87 L868.89,281.56 L869.3,275.89 L869.7,271.31 L870.11,268.31 L870.51,267.73 L870.92,270.97 L871.33,276.86 L871.73,284.38 L872.14,292.63 L872.54,300.87 L872.95,308.53 L873.35,315.26 L873.76,320.87 L874.17,325.36 L874.57,328.8 L874.98,331.33 L875.38,333.13 L875.79,334.37 L876.19,335.19 L876.6,335.71 L877.01,336.04" fill="none" stroke="#7ee040" stroke-width="0.85"/>
<rect x="805.5" y="263.2" width="76" height="73.3" fill="none" stroke="#111" stroke-width="1"/>
<line x1="805.2" y1="336.8" x2="881.8" y2="336.8" stroke="#111" stroke-width="1.5"/>
<text x="807.1" y="273.3" font-size="9.2" fill="#111">FC=2.06±0.03</text>
<text x="874.3" y="273.6" font-size="9.6" text-anchor="end" fill="#111">**</text>
<path d="M888.4,336.5 h-1.6 M888.4,327.88 h-1.6 M888.4,319.25 h-1.6 M888.4,310.63 h-1.6 M888.4,302.01 h-1.6 M888.4,293.38 h-1.6 M888.4,284.76 h-1.6 M888.4,276.14 h-1.6 M888.4,267.51 h-1.6 M891.4,336.5 v1.6 M896.2,336.5 v1.6 M901,336.5 v1.6 M905.8,336.5 v1.6 M910.6,336.5 v1.6 M915.4,336.5 v1.6 M920.2,336.5 v1.6 M925,336.5 v1.6 M929.8,336.5 v1.6 M934.6,336.5 v1.6 M939.4,336.5 v1.6 M944.2,336.5 v1.6 M949,336.5 v1.6 M953.8,336.5 v1.6 M958.6,336.5 v1.6 M963.4,336.5 v1.6" stroke="#444" stroke-width="0.6" fill="none"/>
<path d="M908.44,336.5 L908.44,335.68 L908.85,335.41 L909.25,335.07 L909.66,334.63 L910.07,334.09 L910.47,333.41 L910.88,332.56 L911.29,331.53 L911.69,330.28 L912.1,328.78 L912.51,327 L912.91,324.91 L913.32,322.48 L913.73,319.69 L914.13,316.54 L914.54,313.01 L914.95,309.13 L915.36,304.92 L915.76,300.44 L916.17,295.75 L916.58,290.95 L916.98,286.17 L917.39,281.56 L917.8,277.28 L918.2,273.56 L918.61,270.62 L919.02,268.79 L919.42,269.19 L919.83,272.42 L920.24,277.28 L920.64,283.16 L921.05,289.54 L921.46,296.03 L921.86,302.31 L922.27,308.17 L922.68,313.45 L923.09,318.07 L923.49,322.01 L923.9,325.3 L924.31,327.98 L924.71,330.12 L925.12,331.79 L925.53,333.08 L925.93,334.05 L926.34,334.77 L926.75,335.3 L927.15,335.68 L927.15,336.5 Z" fill="#f7952a"/>
<path d="M937.72,336.2 L938.12,336.06 L938.53,335.87 L938.94,335.61 L939.35,335.25 L939.75,334.78 L940.16,334.15 L940.57,333.34 L940.98,332.31 L941.38,331.02 L941.79,329.43 L942.2,327.52 L942.61,325.27 L943.01,322.65 L943.42,319.69 L943.83,316.41 L944.24,312.87 L944.64,309.16 L945.05,305.39 L945.46,301.72 L945.87,298.32 L946.27,295.37 L946.68,293.1 L947.09,291.74 L947.5,291.81 L947.9,293.84 L948.31,297.18 L948.72,301.4 L949.13,306.07 L949.53,310.86 L949.94,315.47 L950.35,319.69 L950.76,323.4 L951.16,326.54 L951.57,329.11 L951.98,331.15 L952.39,332.71 L952.79,333.88 L953.2,334.73 L953.61,335.33 L954.02,335.74 L954.42,336.02 L954.83,336.2" fill="none" stroke="#35c8f0" stroke-width="0.85"/>
<path d="M938.05,336.1 L938.45,335.9 L938.86,335.64 L939.26,335.26 L939.66,334.75 L940.07,334.07 L940.47,333.17 L940.87,332 L941.27,330.5 L941.68,328.63 L942.08,326.33 L942.48,323.56 L942.89,320.29 L943.29,316.51 L943.69,312.24 L944.09,307.54 L944.5,302.52 L944.9,297.32 L945.3,292.12 L945.7,287.16 L946.11,282.7 L946.51,279.04 L946.91,276.5 L947.32,275.51 L947.72,277.27 L948.12,281.26 L948.52,286.72 L948.93,293.05 L949.33,299.69 L949.73,306.2 L950.14,312.24 L950.54,317.59 L950.94,322.13 L951.34,325.86 L951.75,328.82 L952.15,331.09 L952.55,332.78 L952.96,334 L953.36,334.86 L953.76,335.45 L954.16,335.84 L954.57,336.1" fill="none" stroke="#3a7a2a" stroke-width="0.85"/>
<rect x="888.4" y="263.2" width="76" height="73.3" fill="none" stroke="#111" stroke-width="1"/>
<line x1="888.1" y1="336.8" x2="964.7" y2="336.8" stroke="#111" stroke-width="1.5"/>
<text x="890" y="273.3" font-size="9.2" fill="#111">FC=1.03±0.05</text>
<path d="M969.5,336.5 h-1.6 M969.5,327.88 h-1.6 M969.5,319.25 h-1.6 M969.5,310.63 h-1.6 M969.5,302.01 h-1.6 M969.5,293.38 h-1.6 M969.5,284.76 h-1.6 M969.5,276.14 h-1.6 M969.5,267.51 h-1.6 M972.5,336.5 v1.6 M977.3,336.5 v1.6 M982.1,336.5 v1.6 M986.9,336.5 v1.6 M991.7,336.5 v1.6 M996.5,336.5 v1.6 M1001.3,336.5 v1.6 M1006.1,336.5 v1.6 M1010.9,336.5 v1.6 M1015.7,336.5 v1.6 M1020.5,336.5 v1.6 M1025.3,336.5 v1.6 M1030.1,336.5 v1.6 M1034.9,336.5 v1.6 M1039.7,336.5 v1.6 M1044.5,336.5 v1.6" stroke="#444" stroke-width="0.6" fill="none"/>
<path d="M989.24,336.5 L989.24,335.68 L989.65,335.41 L990.05,335.07 L990.46,334.63 L990.87,334.09 L991.27,333.41 L991.68,332.56 L992.09,331.53 L992.49,330.28 L992.9,328.78 L993.31,327 L993.71,324.91 L994.12,322.48 L994.53,319.69 L994.93,316.54 L995.34,313.01 L995.75,309.13 L996.16,304.92 L996.56,300.44 L996.97,295.75 L997.38,290.95 L997.78,286.17 L998.19,281.56 L998.6,277.28 L999,273.56 L999.41,270.62 L999.82,268.79 L1000.22,269.19 L1000.63,272.42 L1001.04,277.28 L1001.44,283.16 L1001.85,289.54 L1002.26,296.03 L1002.66,302.31 L1003.07,308.17 L1003.48,313.45 L1003.89,318.07 L1004.29,322.01 L1004.7,325.3 L1005.11,327.98 L1005.51,330.12 L1005.92,331.79 L1006.33,333.08 L1006.73,334.05 L1007.14,334.77 L1007.55,335.3 L1007.95,335.68 L1007.95,336.5 Z" fill="#f7952a"/>
<path d="M1018.42,336.22 L1018.82,336.09 L1019.23,335.92 L1019.64,335.67 L1020.05,335.34 L1020.45,334.89 L1020.86,334.31 L1021.27,333.55 L1021.68,332.59 L1022.08,331.38 L1022.49,329.9 L1022.9,328.12 L1023.31,326.02 L1023.71,323.58 L1024.12,320.81 L1024.53,317.75 L1024.94,314.44 L1025.34,310.98 L1025.75,307.46 L1026.16,304.04 L1026.57,300.86 L1026.97,298.11 L1027.38,295.99 L1027.79,294.72 L1028.2,294.79 L1028.6,296.68 L1029.01,299.8 L1029.42,303.74 L1029.83,308.1 L1030.23,312.57 L1030.64,316.87 L1031.05,320.81 L1031.46,324.27 L1031.86,327.21 L1032.27,329.6 L1032.68,331.5 L1033.09,332.96 L1033.49,334.05 L1033.9,334.84 L1034.31,335.4 L1034.72,335.79 L1035.12,336.05 L1035.53,336.22" fill="none" stroke="#35c8f0" stroke-width="0.85"/>
<path d="M1024.69,336.1 L1025.1,335.9 L1025.5,335.62 L1025.91,335.22 L1026.32,334.66 L1026.73,333.91 L1027.14,332.9 L1027.54,331.58 L1027.95,329.89 L1028.36,327.77 L1028.77,325.16 L1029.18,322.02 L1029.58,318.32 L1029.99,314.09 L1030.4,309.36 L1030.81,304.24 L1031.22,298.88 L1031.63,293.49 L1032.03,288.33 L1032.44,283.68 L1032.85,279.9 L1033.26,277.35 L1033.67,276.57 L1034.07,278.81 L1034.48,283.3 L1034.89,289.23 L1035.3,295.93 L1035.71,302.8 L1036.11,309.36 L1036.52,315.29 L1036.93,320.41 L1037.34,324.63 L1037.75,327.98 L1038.15,330.56 L1038.56,332.46 L1038.97,333.83 L1039.38,334.77 L1039.79,335.41 L1040.19,335.83 L1040.6,336.1" fill="none" stroke="#f05a5a" stroke-width="0.85"/>
<path d="M1024.69,336.09 L1025.1,335.88 L1025.5,335.59 L1025.91,335.17 L1026.32,334.6 L1026.73,333.82 L1027.14,332.78 L1027.54,331.42 L1027.95,329.67 L1028.36,327.48 L1028.77,324.78 L1029.18,321.53 L1029.58,317.72 L1029.99,313.34 L1030.4,308.45 L1030.81,303.17 L1031.22,297.63 L1031.63,292.06 L1032.03,286.72 L1032.44,281.92 L1032.85,278.02 L1033.26,275.38 L1033.67,274.57 L1034.07,276.89 L1034.48,281.53 L1034.89,287.66 L1035.3,294.58 L1035.71,301.67 L1036.11,308.45 L1036.52,314.59 L1036.93,319.87 L1037.34,324.23 L1037.75,327.7 L1038.15,330.36 L1038.56,332.33 L1038.97,333.74 L1039.38,334.72 L1039.79,335.38 L1040.19,335.81 L1040.6,336.09" fill="none" stroke="#f5a04a" stroke-width="0.85"/>
<path d="M1023.99,336.04 L1024.4,335.8 L1024.8,335.44 L1025.21,334.93 L1025.62,334.22 L1026.02,333.24 L1026.43,331.91 L1026.83,330.17 L1027.24,327.91 L1027.64,325.08 L1028.05,321.58 L1028.46,317.39 L1028.86,312.5 L1029.27,306.96 L1029.67,300.87 L1030.08,294.42 L1030.48,287.87 L1030.89,281.56 L1031.3,275.89 L1031.7,271.31 L1032.11,268.31 L1032.51,267.73 L1032.92,270.97 L1033.33,276.86 L1033.73,284.38 L1034.14,292.63 L1034.54,300.87 L1034.95,308.53 L1035.35,315.26 L1035.76,320.87 L1036.17,325.36 L1036.57,328.8 L1036.98,331.33 L1037.38,333.13 L1037.79,334.37 L1038.19,335.19 L1038.6,335.71 L1039.01,336.04" fill="none" stroke="#7ee040" stroke-width="0.85"/>
<path d="M1018.45,336.12 L1018.85,335.93 L1019.26,335.68 L1019.66,335.32 L1020.06,334.84 L1020.47,334.19 L1020.87,333.33 L1021.27,332.22 L1021.67,330.8 L1022.08,329.02 L1022.48,326.83 L1022.88,324.2 L1023.29,321.08 L1023.69,317.49 L1024.09,313.43 L1024.49,308.97 L1024.9,304.19 L1025.3,299.24 L1025.7,294.3 L1026.1,289.58 L1026.51,285.34 L1026.91,281.87 L1027.31,279.45 L1027.72,278.5 L1028.12,280.19 L1028.52,283.98 L1028.92,289.17 L1029.33,295.19 L1029.73,301.5 L1030.13,307.69 L1030.54,313.43 L1030.94,318.52 L1031.34,322.84 L1031.74,326.39 L1032.15,329.2 L1032.55,331.35 L1032.95,332.96 L1033.36,334.12 L1033.76,334.94 L1034.16,335.5 L1034.56,335.87 L1034.97,336.12" fill="none" stroke="#3a7a2a" stroke-width="0.85"/>
<rect x="969.5" y="263.2" width="76" height="73.3" fill="none" stroke="#111" stroke-width="1"/>
<line x1="969.2" y1="336.8" x2="1045.8" y2="336.8" stroke="#111" stroke-width="1.5"/>
<line x1="554" y1="352.5" x2="989" y2="352.5" stroke="#222" stroke-width="1"/>
<text x="760" y="350.1" font-size="9.3" text-anchor="middle" fill="#111">SCC-9</text>
<path d="M559.5,434 h-1.6 M559.5,425.38 h-1.6 M559.5,416.75 h-1.6 M559.5,408.13 h-1.6 M559.5,399.51 h-1.6 M559.5,390.88 h-1.6 M559.5,382.26 h-1.6 M559.5,373.64 h-1.6 M559.5,365.01 h-1.6 M562.5,434 v1.6 M567.3,434 v1.6 M572.1,434 v1.6 M576.9,434 v1.6 M581.7,434 v1.6 M586.5,434 v1.6 M591.3,434 v1.6 M596.1,434 v1.6 M600.9,434 v1.6 M605.7,434 v1.6 M610.5,434 v1.6 M615.3,434 v1.6 M620.1,434 v1.6 M624.9,434 v1.6 M629.7,434 v1.6 M634.5,434 v1.6" stroke="#444" stroke-width="0.6" fill="none"/>
<path d="M572.94,434 L572.94,432.65 L573.34,432.37 L573.75,432.04 L574.15,431.65 L574.56,431.19 L574.96,430.65 L575.37,430.02 L575.77,429.3 L576.18,428.47 L576.58,427.51 L576.99,426.42 L577.39,425.19 L577.8,423.79 L578.2,422.22 L578.61,420.47 L579.01,418.53 L579.42,416.39 L579.82,414.05 L580.23,411.5 L580.63,408.75 L581.04,405.81 L581.44,402.69 L581.85,399.4 L582.25,395.98 L582.66,392.47 L583.06,388.9 L583.47,385.34 L583.87,381.84 L584.28,378.5 L584.68,375.4 L585.09,372.66 L585.49,370.42 L585.9,368.92 L586.3,369.45 L586.71,373.4 L587.11,378.96 L587.52,385.34 L587.92,391.96 L588.33,398.44 L588.73,404.49 L589.14,409.96 L589.54,414.74 L589.95,418.82 L590.35,422.22 L590.76,425 L591.16,427.22 L591.57,428.96 L591.97,430.3 L592.38,431.33 L592.78,432.09 L593.19,432.65 L593.19,434 Z" fill="#0000e0"/>
<path d="M601.64,434 L601.64,433.33 L602.05,433.12 L602.45,432.84 L602.86,432.49 L603.27,432.05 L603.67,431.5 L604.08,430.82 L604.49,429.98 L604.89,428.97 L605.3,427.76 L605.71,426.32 L606.11,424.62 L606.52,422.66 L606.93,420.4 L607.33,417.85 L607.74,415 L608.15,411.86 L608.56,408.46 L608.96,404.83 L609.37,401.04 L609.78,397.16 L610.18,393.29 L610.59,389.56 L611,386.1 L611.4,383.09 L611.81,380.72 L612.22,379.24 L612.62,379.56 L613.03,382.17 L613.44,386.1 L613.84,390.85 L614.25,396.01 L614.66,401.26 L615.06,406.35 L615.47,411.08 L615.88,415.35 L616.29,419.09 L616.69,422.28 L617.1,424.94 L617.51,427.11 L617.91,428.84 L618.32,430.19 L618.73,431.23 L619.13,432.02 L619.54,432.6 L619.95,433.03 L620.35,433.33 L620.35,434 Z" fill="#00c4f0"/>
<rect x="559.5" y="360.7" width="76" height="73.3" fill="none" stroke="#111" stroke-width="1"/>
<line x1="559.2" y1="434.3" x2="635.8" y2="434.3" stroke="#111" stroke-width="1.5"/>
<path d="M641.6,434 h-1.6 M641.6,425.38 h-1.6 M641.6,416.75 h-1.6 M641.6,408.13 h-1.6 M641.6,399.51 h-1.6 M641.6,390.88 h-1.6 M641.6,382.26 h-1.6 M641.6,373.64 h-1.6 M641.6,365.01 h-1.6 M644.6,434 v1.6 M649.4,434 v1.6 M654.2,434 v1.6 M659,434 v1.6 M663.8,434 v1.6 M668.6,434 v1.6 M673.4,434 v1.6 M678.2,434 v1.6 M683,434 v1.6 M687.8,434 v1.6 M692.6,434 v1.6 M697.4,434 v1.6 M702.2,434 v1.6 M707,434 v1.6 M711.8,434 v1.6 M716.6,434 v1.6" stroke="#444" stroke-width="0.6" fill="none"/>
<path d="M654.94,434 L654.94,432.88 L655.34,432.64 L655.75,432.37 L656.15,432.04 L656.56,431.66 L656.96,431.21 L657.37,430.69 L657.77,430.08 L658.18,429.39 L658.58,428.59 L658.99,427.69 L659.39,426.66 L659.8,425.49 L660.2,424.19 L660.61,422.73 L661.01,421.11 L661.42,419.33 L661.82,417.38 L662.23,415.25 L662.63,412.96 L663.04,410.51 L663.44,407.91 L663.85,405.17 L664.25,402.32 L664.66,399.39 L665.06,396.42 L665.47,393.45 L665.87,390.54 L666.28,387.75 L666.68,385.17 L667.09,382.88 L667.49,381.02 L667.9,379.77 L668.3,380.21 L668.71,383.5 L669.11,388.14 L669.52,393.45 L669.92,398.97 L670.33,404.36 L670.73,409.41 L671.14,413.96 L671.54,417.95 L671.95,421.35 L672.35,424.19 L672.76,426.5 L673.16,428.35 L673.57,429.8 L673.97,430.92 L674.38,431.77 L674.78,432.41 L675.19,432.88 L675.19,434 Z" fill="#0000e0"/>
<path d="M683.31,433.7 L683.71,433.58 L684.11,433.41 L684.51,433.19 L684.92,432.91 L685.32,432.53 L685.72,432.05 L686.12,431.43 L686.53,430.66 L686.93,429.71 L687.33,428.55 L687.73,427.15 L688.14,425.49 L688.54,423.56 L688.94,421.34 L689.34,418.83 L689.75,416.05 L690.15,413.02 L690.55,409.79 L690.95,406.43 L691.36,403.03 L691.76,399.68 L692.16,396.52 L692.56,393.67 L692.97,391.29 L693.37,389.53 L693.77,388.58 L694.17,388.99 L694.58,390.92 L694.98,393.92 L695.38,397.64 L695.78,401.8 L696.19,406.12 L696.59,410.39 L696.99,414.42 L697.39,418.1 L697.8,421.34 L698.2,424.11 L698.6,426.43 L699,428.31 L699.41,429.81 L699.81,430.96 L700.21,431.84 L700.61,432.49 L701.02,432.96 L701.42,433.3 L701.82,433.54 L702.22,433.7" fill="none" stroke="#35c8f0" stroke-width="0.85"/>
<path d="M689.98,433.59 L690.38,433.41 L690.78,433.15 L691.18,432.79 L691.59,432.3 L691.99,431.66 L692.39,430.8 L692.79,429.7 L693.19,428.3 L693.59,426.54 L693.99,424.39 L694.39,421.79 L694.79,418.72 L695.19,415.17 L695.59,411.14 L695.99,406.67 L696.39,401.86 L696.79,396.81 L697.19,391.69 L697.59,386.7 L697.99,382.07 L698.39,378.07 L698.79,374.98 L699.19,373.12 L699.59,373.23 L699.99,375.98 L700.39,380.53 L700.79,386.26 L701.19,392.62 L701.59,399.13 L701.99,405.39 L702.39,411.14 L702.79,416.19 L703.2,420.46 L703.6,423.95 L704,426.72 L704.4,428.85 L704.8,430.43 L705.2,431.59 L705.6,432.4 L706,432.97 L706.4,433.35 L706.8,433.59" fill="none" stroke="#f05a5a" stroke-width="0.85"/>
<rect x="641.6" y="360.7" width="76" height="73.3" fill="none" stroke="#111" stroke-width="1"/>
<line x1="641.3" y1="434.3" x2="717.9" y2="434.3" stroke="#111" stroke-width="1.5"/>
<text x="643.2" y="370.8" font-size="9.2" fill="#111">FC=2.49±0.12</text>
<text x="714" y="371.1" font-size="9.6" text-anchor="end" fill="#111">**</text>
<path d="M723.6,434 h-1.6 M723.6,425.38 h-1.6 M723.6,416.75 h-1.6 M723.6,408.13 h-1.6 M723.6,399.51 h-1.6 M723.6,390.88 h-1.6 M723.6,382.26 h-1.6 M723.6,373.64 h-1.6 M723.6,365.01 h-1.6 M726.6,434 v1.6 M731.4,434 v1.6 M736.2,434 v1.6 M741,434 v1.6 M745.8,434 v1.6 M750.6,434 v1.6 M755.4,434 v1.6 M760.2,434 v1.6 M765,434 v1.6 M769.8,434 v1.6 M774.6,434 v1.6 M779.4,434 v1.6 M784.2,434 v1.6 M789,434 v1.6 M793.8,434 v1.6 M798.6,434 v1.6" stroke="#444" stroke-width="0.6" fill="none"/>
<path d="M737.34,434 L737.34,432.92 L737.74,432.69 L738.15,432.42 L738.55,432.11 L738.96,431.74 L739.36,431.31 L739.77,430.8 L740.17,430.22 L740.58,429.55 L740.98,428.78 L741.39,427.91 L741.79,426.91 L742.2,425.79 L742.6,424.53 L743.01,423.12 L743.41,421.56 L743.82,419.84 L744.22,417.96 L744.63,415.91 L745.03,413.7 L745.44,411.33 L745.84,408.82 L746.25,406.17 L746.65,403.42 L747.06,400.6 L747.46,397.73 L747.87,394.86 L748.27,392.05 L748.68,389.36 L749.08,386.87 L749.49,384.67 L749.89,382.87 L750.3,381.66 L750.7,382.09 L751.11,385.26 L751.51,389.74 L751.92,394.86 L752.32,400.19 L752.73,405.4 L753.13,410.27 L753.54,414.66 L753.94,418.51 L754.35,421.79 L754.75,424.53 L755.16,426.76 L755.56,428.54 L755.97,429.95 L756.37,431.03 L756.78,431.85 L757.18,432.46 L757.59,432.92 L757.59,434 Z" fill="#0000e0"/>
<path d="M766.11,433.7 L766.51,433.58 L766.91,433.42 L767.31,433.21 L767.72,432.92 L768.12,432.55 L768.52,432.08 L768.92,431.47 L769.33,430.71 L769.73,429.78 L770.13,428.63 L770.53,427.26 L770.94,425.62 L771.34,423.72 L771.74,421.53 L772.14,419.06 L772.55,416.32 L772.95,413.34 L773.35,410.16 L773.75,406.86 L774.16,403.51 L774.56,400.21 L774.96,397.1 L775.36,394.3 L775.77,391.95 L776.17,390.22 L776.57,389.28 L776.97,389.68 L777.38,391.58 L777.78,394.53 L778.18,398.2 L778.58,402.3 L778.99,406.55 L779.39,410.75 L779.79,414.72 L780.19,418.34 L780.6,421.53 L781,424.27 L781.4,426.55 L781.8,428.4 L782.21,429.87 L782.61,431.01 L783.01,431.87 L783.41,432.51 L783.82,432.98 L784.22,433.31 L784.62,433.54 L785.02,433.7" fill="none" stroke="#35c8f0" stroke-width="0.85"/>
<path d="M771.98,433.59 L772.38,433.41 L772.78,433.15 L773.18,432.79 L773.59,432.3 L773.99,431.66 L774.39,430.8 L774.79,429.7 L775.19,428.3 L775.59,426.54 L775.99,424.39 L776.39,421.79 L776.79,418.72 L777.19,415.17 L777.59,411.14 L777.99,406.67 L778.39,401.86 L778.79,396.81 L779.19,391.69 L779.59,386.7 L779.99,382.07 L780.39,378.07 L780.79,374.98 L781.19,373.12 L781.59,373.23 L781.99,375.98 L782.39,380.53 L782.79,386.26 L783.19,392.62 L783.59,399.13 L783.99,405.39 L784.39,411.14 L784.79,416.19 L785.2,420.46 L785.6,423.95 L786,426.72 L786.4,428.85 L786.8,430.43 L787.2,431.59 L787.6,432.4 L788,432.97 L788.4,433.35 L788.8,433.59" fill="none" stroke="#f5a04a" stroke-width="0.85"/>
<rect x="723.6" y="360.7" width="76" height="73.3" fill="none" stroke="#111" stroke-width="1"/>
<line x1="723.3" y1="434.3" x2="799.9" y2="434.3" stroke="#111" stroke-width="1.5"/>
<text x="725.2" y="370.8" font-size="9.2" fill="#111">FC=2.51±0.06</text>
<text x="796" y="371.1" font-size="9.6" text-anchor="end" fill="#111">**</text>
<path d="M805.5,434 h-1.6 M805.5,425.38 h-1.6 M805.5,416.75 h-1.6 M805.5,408.13 h-1.6 M805.5,399.51 h-1.6 M805.5,390.88 h-1.6 M805.5,382.26 h-1.6 M805.5,373.64 h-1.6 M805.5,365.01 h-1.6 M808.5,434 v1.6 M813.3,434 v1.6 M818.1,434 v1.6 M822.9,434 v1.6 M827.7,434 v1.6 M832.5,434 v1.6 M837.3,434 v1.6 M842.1,434 v1.6 M846.9,434 v1.6 M851.7,434 v1.6 M856.5,434 v1.6 M861.3,434 v1.6 M866.1,434 v1.6 M870.9,434 v1.6 M875.7,434 v1.6 M880.5,434 v1.6" stroke="#444" stroke-width="0.6" fill="none"/>
<path d="M819.34,434 L819.34,432.84 L819.74,432.59 L820.15,432.31 L820.55,431.97 L820.96,431.57 L821.36,431.11 L821.77,430.57 L822.17,429.94 L822.58,429.22 L822.98,428.4 L823.39,427.45 L823.79,426.39 L824.2,425.18 L824.6,423.83 L825.01,422.31 L825.41,420.64 L825.82,418.79 L826.22,416.77 L826.63,414.56 L827.03,412.19 L827.44,409.65 L827.84,406.95 L828.25,404.11 L828.65,401.16 L829.06,398.12 L829.46,395.04 L829.87,391.96 L830.27,388.94 L830.68,386.05 L831.08,383.37 L831.49,381.01 L831.89,379.08 L832.3,377.78 L832.7,378.24 L833.11,381.65 L833.51,386.45 L833.92,391.96 L834.32,397.68 L834.73,403.28 L835.13,408.51 L835.54,413.23 L835.94,417.36 L836.35,420.89 L836.75,423.83 L837.16,426.22 L837.56,428.14 L837.97,429.64 L838.37,430.81 L838.78,431.69 L839.18,432.35 L839.59,432.84 L839.59,434 Z" fill="#0000e0"/>
<path d="M848.11,433.68 L848.51,433.55 L848.91,433.38 L849.31,433.15 L849.72,432.85 L850.12,432.45 L850.52,431.94 L850.92,431.3 L851.33,430.49 L851.73,429.48 L852.13,428.26 L852.53,426.79 L852.94,425.04 L853.34,423.01 L853.74,420.67 L854.14,418.03 L854.55,415.1 L854.95,411.91 L855.35,408.51 L855.75,404.98 L856.16,401.4 L856.56,397.87 L856.96,394.54 L857.36,391.55 L857.77,389.04 L858.17,387.19 L858.57,386.19 L858.97,386.61 L859.38,388.65 L859.78,391.8 L860.18,395.72 L860.58,400.1 L860.99,404.65 L861.39,409.14 L861.79,413.39 L862.19,417.26 L862.6,420.67 L863,423.59 L863.4,426.03 L863.8,428.01 L864.21,429.58 L864.61,430.8 L865.01,431.73 L865.41,432.41 L865.82,432.91 L866.22,433.26 L866.62,433.51 L867.02,433.68" fill="none" stroke="#35c8f0" stroke-width="0.85"/>
<path d="M854.32,433.59 L854.73,433.39 L855.13,433.1 L855.54,432.7 L855.94,432.16 L856.35,431.42 L856.75,430.44 L857.16,429.16 L857.56,427.53 L857.97,425.48 L858.37,422.95 L858.78,419.92 L859.18,416.34 L859.59,412.22 L860,407.59 L860.4,402.54 L860.81,397.18 L861.21,391.71 L861.62,386.34 L862.02,381.36 L862.43,377.06 L862.83,373.79 L863.24,371.92 L863.64,372.41 L864.05,375.73 L864.45,380.94 L864.86,387.3 L865.26,394.2 L865.67,401.1 L866.08,407.59 L866.48,413.39 L866.89,418.36 L867.29,422.44 L867.7,425.68 L868.1,428.17 L868.51,430.01 L868.91,431.34 L869.32,432.27 L869.72,432.9 L870.13,433.32 L870.53,433.59" fill="none" stroke="#7ee040" stroke-width="0.85"/>
<rect x="805.5" y="360.7" width="76" height="73.3" fill="none" stroke="#111" stroke-width="1"/>
<line x1="805.2" y1="434.3" x2="881.8" y2="434.3" stroke="#111" stroke-width="1.5"/>
<text x="807.1" y="370.8" font-size="9.2" fill="#111">FC=2.10±0.11</text>
<text x="877.9" y="371.1" font-size="9.6" text-anchor="end" fill="#111">**</text>
<path d="M888.4,434 h-1.6 M888.4,425.38 h-1.6 M888.4,416.75 h-1.6 M888.4,408.13 h-1.6 M888.4,399.51 h-1.6 M888.4,390.88 h-1.6 M888.4,382.26 h-1.6 M888.4,373.64 h-1.6 M888.4,365.01 h-1.6 M891.4,434 v1.6 M896.2,434 v1.6 M901,434 v1.6 M905.8,434 v1.6 M910.6,434 v1.6 M915.4,434 v1.6 M920.2,434 v1.6 M925,434 v1.6 M929.8,434 v1.6 M934.6,434 v1.6 M939.4,434 v1.6 M944.2,434 v1.6 M949,434 v1.6 M953.8,434 v1.6 M958.6,434 v1.6 M963.4,434 v1.6" stroke="#444" stroke-width="0.6" fill="none"/>
<path d="M902.14,434 L902.14,432.76 L902.54,432.5 L902.95,432.19 L903.35,431.83 L903.76,431.4 L904.16,430.91 L904.57,430.33 L904.97,429.66 L905.38,428.89 L905.78,428.01 L906.19,427 L906.59,425.86 L907,424.57 L907.4,423.12 L907.81,421.51 L908.21,419.72 L908.62,417.74 L909.02,415.58 L909.43,413.22 L909.83,410.68 L910.24,407.97 L910.64,405.08 L911.05,402.05 L911.45,398.89 L911.86,395.64 L912.26,392.35 L912.67,389.06 L913.07,385.83 L913.48,382.74 L913.88,379.88 L914.29,377.35 L914.69,375.29 L915.1,373.89 L915.5,374.39 L915.91,378.03 L916.31,383.17 L916.72,389.06 L917.12,395.17 L917.53,401.16 L917.93,406.75 L918.34,411.79 L918.74,416.21 L919.15,419.98 L919.55,423.12 L919.96,425.69 L920.36,427.73 L920.77,429.34 L921.17,430.59 L921.58,431.53 L921.98,432.24 L922.39,432.76 L922.39,434 Z" fill="#0000e0"/>
<path d="M931.21,433.62 L931.61,433.46 L932.01,433.25 L932.41,432.97 L932.82,432.61 L933.22,432.13 L933.62,431.51 L934.02,430.73 L934.43,429.75 L934.83,428.53 L935.23,427.05 L935.63,425.27 L936.04,423.16 L936.44,420.69 L936.84,417.86 L937.24,414.66 L937.65,411.11 L938.05,407.25 L938.45,403.14 L938.85,398.86 L939.26,394.52 L939.66,390.26 L940.06,386.23 L940.46,382.6 L940.87,379.56 L941.27,377.32 L941.67,376.1 L942.07,376.62 L942.48,379.09 L942.88,382.9 L943.28,387.65 L943.68,392.95 L944.09,398.47 L944.49,403.9 L944.89,409.04 L945.29,413.73 L945.7,417.86 L946.1,421.4 L946.5,424.35 L946.9,426.75 L947.31,428.65 L947.71,430.13 L948.11,431.25 L948.51,432.08 L948.92,432.68 L949.32,433.11 L949.72,433.41 L950.12,433.62" fill="none" stroke="#35c8f0" stroke-width="0.85"/>
<path d="M931.71,433.59 L932.11,433.41 L932.51,433.17 L932.91,432.85 L933.31,432.42 L933.71,431.85 L934.11,431.12 L934.51,430.18 L934.91,429 L935.31,427.53 L935.71,425.73 L936.12,423.56 L936.52,420.99 L936.92,418 L937.32,414.57 L937.72,410.73 L938.12,406.5 L938.52,401.95 L938.92,397.18 L939.32,392.32 L939.72,387.51 L940.12,382.96 L940.52,378.87 L940.92,375.46 L941.32,372.99 L941.72,371.75 L942.12,372.66 L942.52,375.73 L942.92,380.29 L943.32,385.82 L943.72,391.88 L944.12,398.06 L944.52,404.05 L944.92,409.61 L945.32,414.57 L945.72,418.85 L946.12,422.44 L946.52,425.36 L946.92,427.67 L947.32,429.46 L947.73,430.8 L948.13,431.79 L948.53,432.51 L948.93,433.01 L949.33,433.35 L949.73,433.59" fill="none" stroke="#3a7a2a" stroke-width="0.85"/>
<polyline points="964.4,360.7 888.4,360.7 888.4,434 964.4,434" fill="none" stroke="#111" stroke-width="1"/>
<line x1="888.1" y1="434.3" x2="964.7" y2="434.3" stroke="#111" stroke-width="1.5"/>
<text x="890" y="370.8" font-size="9.2" fill="#111">FC=1.12±0.02</text>
<path d="M969.5,434 h-1.6 M969.5,425.38 h-1.6 M969.5,416.75 h-1.6 M969.5,408.13 h-1.6 M969.5,399.51 h-1.6 M969.5,390.88 h-1.6 M969.5,382.26 h-1.6 M969.5,373.64 h-1.6 M969.5,365.01 h-1.6 M972.5,434 v1.6 M977.3,434 v1.6 M982.1,434 v1.6 M986.9,434 v1.6 M991.7,434 v1.6 M996.5,434 v1.6 M1001.3,434 v1.6 M1006.1,434 v1.6 M1010.9,434 v1.6 M1015.7,434 v1.6 M1020.5,434 v1.6 M1025.3,434 v1.6 M1030.1,434 v1.6 M1034.9,434 v1.6 M1039.7,434 v1.6 M1044.5,434 v1.6" stroke="#444" stroke-width="0.6" fill="none"/>
<path d="M983.34,434 L983.34,432.92 L983.74,432.69 L984.15,432.42 L984.55,432.11 L984.96,431.74 L985.36,431.31 L985.77,430.8 L986.17,430.22 L986.58,429.55 L986.98,428.78 L987.39,427.91 L987.79,426.91 L988.2,425.79 L988.6,424.53 L989.01,423.12 L989.41,421.56 L989.82,419.84 L990.22,417.96 L990.63,415.91 L991.03,413.7 L991.44,411.33 L991.84,408.82 L992.25,406.17 L992.65,403.42 L993.06,400.6 L993.46,397.73 L993.87,394.86 L994.27,392.05 L994.68,389.36 L995.08,386.87 L995.49,384.67 L995.89,382.87 L996.3,381.66 L996.7,382.09 L997.11,385.26 L997.51,389.74 L997.92,394.86 L998.32,400.19 L998.73,405.4 L999.13,410.27 L999.54,414.66 L999.94,418.51 L1000.35,421.79 L1000.75,424.53 L1001.16,426.76 L1001.56,428.54 L1001.97,429.95 L1002.37,431.03 L1002.78,431.85 L1003.18,432.46 L1003.59,432.92 L1003.59,434 Z" fill="#0000e0"/>
<path d="M1012.11,433.67 L1012.51,433.53 L1012.91,433.35 L1013.31,433.11 L1013.72,432.8 L1014.12,432.38 L1014.52,431.85 L1014.92,431.18 L1015.33,430.33 L1015.73,429.29 L1016.13,428.01 L1016.53,426.47 L1016.94,424.65 L1017.34,422.53 L1017.74,420.09 L1018.14,417.33 L1018.55,414.27 L1018.95,410.94 L1019.35,407.4 L1019.75,403.71 L1020.16,399.97 L1020.56,396.29 L1020.96,392.81 L1021.36,389.69 L1021.77,387.07 L1022.17,385.13 L1022.57,384.09 L1022.97,384.53 L1023.38,386.66 L1023.78,389.95 L1024.18,394.05 L1024.58,398.62 L1024.99,403.37 L1025.39,408.05 L1025.79,412.49 L1026.19,416.52 L1026.6,420.09 L1027,423.14 L1027.4,425.68 L1027.8,427.75 L1028.21,429.39 L1028.61,430.66 L1029.01,431.63 L1029.41,432.34 L1029.82,432.86 L1030.22,433.23 L1030.62,433.49 L1031.02,433.67" fill="none" stroke="#35c8f0" stroke-width="0.85"/>
<path d="M1018.28,433.6 L1018.68,433.42 L1019.08,433.16 L1019.48,432.81 L1019.89,432.34 L1020.29,431.7 L1020.69,430.87 L1021.09,429.78 L1021.49,428.41 L1021.89,426.69 L1022.29,424.58 L1022.69,422.03 L1023.09,419.02 L1023.49,415.54 L1023.89,411.59 L1024.29,407.21 L1024.69,402.49 L1025.09,397.54 L1025.49,392.52 L1025.89,387.63 L1026.29,383.09 L1026.69,379.16 L1027.09,376.13 L1027.49,374.31 L1027.89,374.42 L1028.29,377.11 L1028.69,381.58 L1029.09,387.2 L1029.49,393.43 L1029.89,399.81 L1030.29,405.95 L1030.69,411.59 L1031.09,416.53 L1031.5,420.72 L1031.9,424.15 L1032.3,426.86 L1032.7,428.95 L1033.1,430.5 L1033.5,431.63 L1033.9,432.43 L1034.3,432.99 L1034.7,433.36 L1035.1,433.6" fill="none" stroke="#f05a5a" stroke-width="0.85"/>
<path d="M1018.28,433.59 L1018.68,433.4 L1019.08,433.14 L1019.48,432.77 L1019.89,432.28 L1020.29,431.62 L1020.69,430.76 L1021.09,429.64 L1021.49,428.22 L1021.89,426.45 L1022.29,424.26 L1022.69,421.63 L1023.09,418.52 L1023.49,414.92 L1023.89,410.84 L1024.29,406.32 L1024.69,401.44 L1025.09,396.33 L1025.49,391.14 L1025.89,386.08 L1026.29,381.39 L1026.69,377.34 L1027.09,374.21 L1027.49,372.32 L1027.89,372.43 L1028.29,375.22 L1028.69,379.83 L1029.09,385.64 L1029.49,392.08 L1029.89,398.67 L1030.29,405.02 L1030.69,410.84 L1031.09,415.95 L1031.5,420.28 L1031.9,423.82 L1032.3,426.62 L1032.7,428.78 L1033.1,430.39 L1033.5,431.56 L1033.9,432.38 L1034.3,432.95 L1034.7,433.34 L1035.1,433.59" fill="none" stroke="#f5a04a" stroke-width="0.85"/>
<path d="M1017.92,433.62 L1018.33,433.43 L1018.73,433.16 L1019.14,432.79 L1019.54,432.28 L1019.95,431.6 L1020.35,430.68 L1020.76,429.49 L1021.16,427.97 L1021.57,426.06 L1021.97,423.72 L1022.38,420.89 L1022.78,417.56 L1023.19,413.72 L1023.6,409.41 L1024,404.71 L1024.41,399.72 L1024.81,394.63 L1025.22,389.63 L1025.62,384.99 L1026.03,380.99 L1026.43,377.95 L1026.84,376.21 L1027.24,376.66 L1027.65,379.76 L1028.05,384.6 L1028.46,390.52 L1028.86,396.95 L1029.27,403.37 L1029.68,409.41 L1030.08,414.81 L1030.49,419.44 L1030.89,423.24 L1031.3,426.26 L1031.7,428.57 L1032.11,430.29 L1032.51,431.52 L1032.92,432.39 L1033.32,432.98 L1033.73,433.36 L1034.13,433.62" fill="none" stroke="#7ee040" stroke-width="0.85"/>
<path d="M1014.51,433.62 L1014.91,433.46 L1015.31,433.24 L1015.71,432.95 L1016.11,432.55 L1016.51,432.04 L1016.91,431.37 L1017.31,430.51 L1017.71,429.42 L1018.11,428.08 L1018.51,426.43 L1018.92,424.45 L1019.32,422.1 L1019.72,419.36 L1020.12,416.22 L1020.52,412.71 L1020.92,408.84 L1021.32,404.68 L1021.72,400.32 L1022.12,395.86 L1022.52,391.47 L1022.92,387.3 L1023.32,383.56 L1023.72,380.44 L1024.12,378.18 L1024.52,377.05 L1024.92,377.88 L1025.32,380.69 L1025.72,384.86 L1026.12,389.92 L1026.52,395.46 L1026.92,401.12 L1027.32,406.6 L1027.72,411.68 L1028.12,416.22 L1028.52,420.14 L1028.92,423.42 L1029.32,426.1 L1029.72,428.21 L1030.12,429.85 L1030.53,431.08 L1030.93,431.98 L1031.33,432.63 L1031.73,433.09 L1032.13,433.41 L1032.53,433.62" fill="none" stroke="#3a7a2a" stroke-width="0.85"/>
<rect x="969.5" y="360.7" width="76" height="73.3" fill="none" stroke="#111" stroke-width="1"/>
<line x1="969.2" y1="434.3" x2="1045.8" y2="434.3" stroke="#111" stroke-width="1.5"/>
<line x1="554" y1="453.5" x2="989" y2="453.5" stroke="#222" stroke-width="1"/>
<text x="760" y="450.4" font-size="9.3" text-anchor="middle" fill="#111">HNSCC-Y2</text>
<path d="M559.5,534.9 h-1.6 M559.5,526.28 h-1.6 M559.5,517.65 h-1.6 M559.5,509.03 h-1.6 M559.5,500.41 h-1.6 M559.5,491.78 h-1.6 M559.5,483.16 h-1.6 M559.5,474.54 h-1.6 M559.5,465.91 h-1.6 M562.5,534.9 v1.6 M567.3,534.9 v1.6 M572.1,534.9 v1.6 M576.9,534.9 v1.6 M581.7,534.9 v1.6 M586.5,534.9 v1.6 M591.3,534.9 v1.6 M596.1,534.9 v1.6 M600.9,534.9 v1.6 M605.7,534.9 v1.6 M610.5,534.9 v1.6 M615.3,534.9 v1.6 M620.1,534.9 v1.6 M624.9,534.9 v1.6 M629.7,534.9 v1.6 M634.5,534.9 v1.6" stroke="#444" stroke-width="0.6" fill="none"/>
<path d="M572.51,534.9 L572.51,534.87 L572.91,534.85 L573.31,534.82 L573.71,534.78 L574.11,534.71 L574.51,534.61 L574.91,534.47 L575.31,534.27 L575.72,533.99 L576.12,533.63 L576.52,533.14 L576.92,532.53 L577.32,531.76 L577.72,530.82 L578.12,529.71 L578.52,528.42 L578.92,526.97 L579.32,525.38 L579.72,523.69 L580.12,521.95 L580.52,520.21 L580.92,518.54 L581.32,516.98 L581.73,515.59 L582.13,514.4 L582.53,513.44 L582.93,512.74 L583.33,512.39 L583.73,512.31 L584.13,512.38 L584.53,512.45 L584.93,512.37 L585.33,512.02 L585.73,511.28 L586.13,510.08 L586.53,508.4 L586.93,506.25 L587.34,503.68 L587.74,500.77 L588.14,497.64 L588.54,494.42 L588.94,491.26 L589.34,488.33 L589.74,485.8 L590.14,483.89 L590.54,482.89 L590.94,483.95 L591.34,486.8 L591.74,490.71 L592.14,495.27 L592.54,500.12 L592.94,504.99 L593.35,509.67 L593.75,514 L594.15,517.9 L594.55,521.3 L594.95,524.19 L595.35,526.61 L595.75,528.58 L596.15,530.15 L596.55,531.39 L596.95,532.34 L597.35,533.06 L597.75,533.59 L598.15,533.99 L598.55,534.27 L598.55,534.9 Z" fill="#ff0f0f"/>
<path d="M592.54,534.9 L592.54,534.81 L592.94,534.78 L593.34,534.74 L593.74,534.69 L594.14,534.62 L594.54,534.53 L594.94,534.43 L595.35,534.29 L595.75,534.12 L596.15,533.92 L596.55,533.66 L596.95,533.35 L597.35,532.98 L597.75,532.53 L598.15,531.99 L598.55,531.35 L598.95,530.61 L599.35,529.74 L599.75,528.74 L600.15,527.6 L600.55,526.29 L600.95,524.83 L601.35,523.19 L601.75,521.38 L602.15,519.39 L602.55,517.23 L602.95,514.89 L603.35,512.4 L603.75,509.77 L604.15,507.02 L604.55,504.17 L604.95,501.26 L605.36,498.31 L605.76,495.37 L606.16,492.47 L606.56,489.67 L606.96,487 L607.36,484.52 L607.76,482.25 L608.16,480.25 L608.56,478.55 L608.96,477.18 L609.36,476.17 L609.76,475.54 L610.16,475.3 L610.56,475.5 L610.96,476.17 L611.36,477.31 L611.76,478.88 L612.16,480.85 L612.56,483.17 L612.96,485.8 L613.36,488.67 L613.76,491.73 L614.16,494.91 L614.56,498.15 L614.96,501.41 L615.37,504.63 L615.77,507.75 L616.17,510.76 L616.57,513.6 L616.97,516.26 L617.37,518.72 L617.77,520.97 L618.17,523.01 L618.57,524.83 L618.97,526.44 L619.37,527.85 L619.77,529.07 L620.17,530.12 L620.57,531.01 L620.97,531.77 L621.37,532.39 L621.77,532.91 L622.17,533.33 L622.57,533.68 L622.97,533.95 L623.37,534.17 L623.77,534.35 L624.17,534.48 L624.57,534.59 L624.97,534.67 L625.37,534.73 L625.78,534.77 L626.18,534.81 L626.18,534.9 Z" fill="#00c4f0"/>
<rect x="559.5" y="461.6" width="76" height="73.3" fill="none" stroke="#111" stroke-width="1"/>
<line x1="559.2" y1="535.2" x2="635.8" y2="535.2" stroke="#111" stroke-width="1.5"/>
<path d="M641.6,534.9 h-1.6 M641.6,526.28 h-1.6 M641.6,517.65 h-1.6 M641.6,509.03 h-1.6 M641.6,500.41 h-1.6 M641.6,491.78 h-1.6 M641.6,483.16 h-1.6 M641.6,474.54 h-1.6 M641.6,465.91 h-1.6 M644.6,534.9 v1.6 M649.4,534.9 v1.6 M654.2,534.9 v1.6 M659,534.9 v1.6 M663.8,534.9 v1.6 M668.6,534.9 v1.6 M673.4,534.9 v1.6 M678.2,534.9 v1.6 M683,534.9 v1.6 M687.8,534.9 v1.6 M692.6,534.9 v1.6 M697.4,534.9 v1.6 M702.2,534.9 v1.6 M707,534.9 v1.6 M711.8,534.9 v1.6 M716.6,534.9 v1.6" stroke="#444" stroke-width="0.6" fill="none"/>
<path d="M655.31,534.9 L655.31,534.87 L655.71,534.85 L656.12,534.82 L656.52,534.78 L656.93,534.71 L657.33,534.6 L657.73,534.46 L658.14,534.25 L658.54,533.97 L658.94,533.59 L659.35,533.09 L659.75,532.45 L660.16,531.66 L660.56,530.69 L660.96,529.54 L661.37,528.21 L661.77,526.71 L662.17,525.08 L662.58,523.34 L662.98,521.55 L663.39,519.76 L663.79,518.04 L664.19,516.44 L664.6,515 L665,513.76 L665.41,512.72 L665.81,511.98 L666.21,511.56 L666.62,511.37 L667.02,511.28 L667.42,511.15 L667.83,510.81 L668.23,510.16 L668.64,509.08 L669.04,507.54 L669.44,505.5 L669.85,503.02 L670.25,500.16 L670.65,497.02 L671.06,493.75 L671.46,490.5 L671.87,487.43 L672.27,484.75 L672.67,482.66 L673.08,481.45 L673.48,482.16 L673.89,484.92 L674.29,488.85 L674.69,493.51 L675.1,498.52 L675.5,503.58 L675.9,508.47 L676.31,513 L676.71,517.08 L677.12,520.65 L677.52,523.69 L677.92,526.23 L678.33,528.29 L678.73,529.95 L679.13,531.24 L679.54,532.24 L679.94,532.99 L680.35,533.55 L680.75,533.96 L681.15,534.25 L681.15,534.9 Z" fill="#ff0f0f"/>
<path d="M678.25,534.8 L678.66,534.76 L679.06,534.7 L679.47,534.62 L679.87,534.51 L680.28,534.36 L680.68,534.17 L681.09,533.91 L681.49,533.59 L681.9,533.17 L682.3,532.64 L682.7,531.98 L683.11,531.16 L683.51,530.17 L683.92,528.97 L684.32,527.54 L684.73,525.86 L685.13,523.92 L685.54,521.68 L685.94,519.16 L686.35,516.34 L686.75,513.23 L687.16,509.87 L687.56,506.27 L687.97,502.49 L688.37,498.58 L688.77,494.61 L689.18,490.66 L689.58,486.82 L689.99,483.16 L690.39,479.8 L690.8,476.81 L691.2,474.27 L691.61,472.27 L692.01,470.85 L692.42,470.06 L692.82,469.94 L693.23,470.58 L693.63,472 L694.04,474.15 L694.44,476.95 L694.84,480.31 L695.25,484.1 L695.65,488.22 L696.06,492.53 L696.46,496.92 L696.87,501.27 L697.27,505.49 L697.68,509.5 L698.08,513.23 L698.49,516.65 L698.89,519.71 L699.3,522.42 L699.7,524.77 L700.11,526.78 L700.51,528.47 L700.91,529.87 L701.32,531.02 L701.72,531.94 L702.13,532.67 L702.53,533.24 L702.94,533.68 L703.34,534.01 L703.75,534.27 L704.15,534.45 L704.56,534.59 L704.96,534.68 L705.37,534.75 L705.77,534.8" fill="none" stroke="#35c8f0" stroke-width="0.85"/>
<path d="M684.56,534.8 L684.96,534.75 L685.36,534.68 L685.76,534.59 L686.16,534.45 L686.56,534.27 L686.96,534.01 L687.37,533.68 L687.77,533.23 L688.17,532.65 L688.57,531.91 L688.97,530.98 L689.37,529.82 L689.77,528.4 L690.17,526.68 L690.57,524.65 L690.97,522.27 L691.38,519.53 L691.78,516.43 L692.18,512.99 L692.58,509.23 L692.98,505.21 L693.38,500.98 L693.78,496.65 L694.18,492.29 L694.58,488.04 L694.98,484.02 L695.39,480.34 L695.79,477.13 L696.19,474.5 L696.59,472.54 L696.99,471.32 L697.39,470.9 L697.79,471.37 L698.19,472.8 L698.59,475.13 L698.99,478.25 L699.39,482.03 L699.8,486.31 L700.2,490.94 L700.6,495.73 L701,500.53 L701.4,505.21 L701.8,509.64 L702.2,513.74 L702.6,517.45 L703,520.73 L703.4,523.56 L703.81,525.97 L704.21,527.98 L704.61,529.61 L705.01,530.93 L705.41,531.96 L705.81,532.75 L706.21,533.36 L706.61,533.81 L707.01,534.14 L707.41,534.38 L707.82,534.55 L708.22,534.67 L708.62,534.75 L709.02,534.8" fill="none" stroke="#f05a5a" stroke-width="0.85"/>
<rect x="641.6" y="461.6" width="76" height="73.3" fill="none" stroke="#111" stroke-width="1"/>
<line x1="641.3" y1="535.2" x2="717.9" y2="535.2" stroke="#111" stroke-width="1.5"/>
<text x="643.2" y="471.7" font-size="9.2" fill="#111">FC=1.94±0.06</text>
<text x="712.8" y="472" font-size="9.6" text-anchor="end" fill="#111">**</text>
<path d="M723.6,534.9 h-1.6 M723.6,526.28 h-1.6 M723.6,517.65 h-1.6 M723.6,509.03 h-1.6 M723.6,500.41 h-1.6 M723.6,491.78 h-1.6 M723.6,483.16 h-1.6 M723.6,474.54 h-1.6 M723.6,465.91 h-1.6 M726.6,534.9 v1.6 M731.4,534.9 v1.6 M736.2,534.9 v1.6 M741,534.9 v1.6 M745.8,534.9 v1.6 M750.6,534.9 v1.6 M755.4,534.9 v1.6 M760.2,534.9 v1.6 M765,534.9 v1.6 M769.8,534.9 v1.6 M774.6,534.9 v1.6 M779.4,534.9 v1.6 M784.2,534.9 v1.6 M789,534.9 v1.6 M793.8,534.9 v1.6 M798.6,534.9 v1.6" stroke="#444" stroke-width="0.6" fill="none"/>
<path d="M737.71,534.9 L737.71,534.87 L738.11,534.85 L738.52,534.83 L738.92,534.78 L739.33,534.72 L739.73,534.62 L740.13,534.48 L740.54,534.29 L740.94,534.02 L741.34,533.66 L741.75,533.19 L742.15,532.59 L742.56,531.84 L742.96,530.93 L743.36,529.85 L743.77,528.6 L744.17,527.19 L744.57,525.66 L744.98,524.03 L745.38,522.35 L745.79,520.69 L746.19,519.08 L746.59,517.6 L747,516.28 L747.4,515.15 L747.81,514.23 L748.21,513.59 L748.61,513.28 L749.02,513.2 L749.42,513.23 L749.82,513.23 L750.23,513.06 L750.63,512.61 L751.04,511.78 L751.44,510.52 L751.84,508.82 L752.25,506.71 L752.65,504.25 L753.05,501.54 L753.46,498.7 L753.86,495.86 L754.27,493.18 L754.67,490.83 L755.07,489 L755.48,487.94 L755.88,488.57 L756.29,490.99 L756.69,494.45 L757.09,498.54 L757.5,502.94 L757.9,507.39 L758.3,511.68 L758.71,515.66 L759.11,519.25 L759.52,522.38 L759.92,525.05 L760.32,527.28 L760.73,529.1 L761.13,530.55 L761.53,531.68 L761.94,532.56 L762.34,533.22 L762.75,533.71 L763.15,534.07 L763.55,534.33 L763.55,534.9 Z" fill="#ff0f0f"/>
<path d="M760.25,534.82 L760.66,534.78 L761.06,534.73 L761.47,534.66 L761.87,534.57 L762.28,534.45 L762.68,534.29 L763.09,534.07 L763.49,533.8 L763.9,533.45 L764.3,533 L764.7,532.45 L765.11,531.77 L765.51,530.93 L765.92,529.93 L766.32,528.73 L766.73,527.32 L767.13,525.69 L767.54,523.82 L767.94,521.7 L768.35,519.34 L768.75,516.73 L769.16,513.91 L769.56,510.9 L769.97,507.73 L770.37,504.45 L770.77,501.12 L771.18,497.81 L771.58,494.58 L771.99,491.52 L772.39,488.7 L772.8,486.19 L773.2,484.06 L773.61,482.38 L774.01,481.19 L774.42,480.54 L774.82,480.43 L775.23,480.97 L775.63,482.16 L776.04,483.96 L776.44,486.31 L776.84,489.13 L777.25,492.31 L777.65,495.76 L778.06,499.37 L778.46,503.05 L778.87,506.7 L779.27,510.24 L779.68,513.6 L780.08,516.73 L780.49,519.6 L780.89,522.17 L781.3,524.44 L781.7,526.41 L782.11,528.09 L782.51,529.51 L782.91,530.68 L783.32,531.64 L783.72,532.42 L784.13,533.03 L784.53,533.51 L784.94,533.88 L785.34,534.16 L785.75,534.37 L786.15,534.52 L786.56,534.64 L786.96,534.72 L787.37,534.78 L787.77,534.82" fill="none" stroke="#35c8f0" stroke-width="0.85"/>
<path d="M767.36,534.8 L767.77,534.74 L768.17,534.66 L768.57,534.53 L768.98,534.35 L769.38,534.08 L769.79,533.71 L770.19,533.2 L770.59,532.51 L771,531.6 L771.4,530.42 L771.81,528.91 L772.21,527.03 L772.61,524.73 L773.02,521.97 L773.42,518.74 L773.82,515.04 L774.23,510.9 L774.63,506.37 L775.04,501.55 L775.44,496.56 L775.84,491.56 L776.25,486.72 L776.65,482.23 L777.06,478.28 L777.46,475.04 L777.86,472.66 L778.27,471.26 L778.67,470.92 L779.07,471.8 L779.48,473.92 L779.88,477.17 L780.29,481.35 L780.69,486.23 L781.09,491.56 L781.5,497.09 L781.9,502.58 L782.31,507.84 L782.71,512.69 L783.11,517.05 L783.52,520.84 L783.92,524.05 L784.32,526.7 L784.73,528.82 L785.13,530.49 L785.54,531.76 L785.94,532.72 L786.34,533.41 L786.75,533.9 L787.15,534.25 L787.55,534.48 L787.96,534.64 L788.36,534.74 L788.77,534.8" fill="none" stroke="#f5a04a" stroke-width="0.85"/>
<rect x="723.6" y="461.6" width="76" height="73.3" fill="none" stroke="#111" stroke-width="1"/>
<line x1="723.3" y1="535.2" x2="799.9" y2="535.2" stroke="#111" stroke-width="1.5"/>
<text x="725.2" y="471.7" font-size="9.2" fill="#111">FC=2.00±0.04</text>
<text x="794.8" y="472" font-size="9.6" text-anchor="end" fill="#111">**</text>
<path d="M805.5,534.9 h-1.6 M805.5,526.28 h-1.6 M805.5,517.65 h-1.6 M805.5,509.03 h-1.6 M805.5,500.41 h-1.6 M805.5,491.78 h-1.6 M805.5,483.16 h-1.6 M805.5,474.54 h-1.6 M805.5,465.91 h-1.6 M808.5,534.9 v1.6 M813.3,534.9 v1.6 M818.1,534.9 v1.6 M822.9,534.9 v1.6 M827.7,534.9 v1.6 M832.5,534.9 v1.6 M837.3,534.9 v1.6 M842.1,534.9 v1.6 M846.9,534.9 v1.6 M851.7,534.9 v1.6 M856.5,534.9 v1.6 M861.3,534.9 v1.6 M866.1,534.9 v1.6 M870.9,534.9 v1.6 M875.7,534.9 v1.6 M880.5,534.9 v1.6" stroke="#444" stroke-width="0.6" fill="none"/>
<path d="M819.31,534.9 L819.31,534.87 L819.71,534.85 L820.12,534.82 L820.52,534.78 L820.93,534.71 L821.33,534.6 L821.73,534.46 L822.14,534.25 L822.54,533.97 L822.94,533.59 L823.35,533.09 L823.75,532.45 L824.16,531.66 L824.56,530.69 L824.96,529.54 L825.37,528.21 L825.77,526.72 L826.17,525.08 L826.58,523.35 L826.98,521.56 L827.39,519.78 L827.79,518.07 L828.19,516.47 L828.6,515.04 L829,513.81 L829.41,512.79 L829.81,512.05 L830.21,511.65 L830.62,511.49 L831.02,511.43 L831.42,511.32 L831.83,511.02 L832.23,510.4 L832.64,509.37 L833.04,507.87 L833.44,505.89 L833.85,503.45 L834.25,500.65 L834.65,497.57 L835.06,494.35 L835.46,491.15 L835.87,488.14 L836.27,485.5 L836.67,483.44 L837.08,482.25 L837.48,482.95 L837.89,485.66 L838.29,489.54 L838.69,494.13 L839.1,499.07 L839.5,504.05 L839.9,508.86 L840.31,513.33 L840.71,517.35 L841.12,520.86 L841.52,523.86 L841.92,526.36 L842.33,528.39 L842.73,530.02 L843.13,531.29 L843.54,532.28 L843.94,533.02 L844.35,533.57 L844.75,533.97 L845.15,534.26 L845.15,534.9 Z" fill="#ff0f0f"/>
<path d="M841.45,534.81 L841.86,534.77 L842.26,534.71 L842.67,534.64 L843.07,534.54 L843.48,534.4 L843.88,534.22 L844.29,533.98 L844.69,533.68 L845.1,533.29 L845.5,532.8 L845.9,532.18 L846.31,531.43 L846.71,530.5 L847.12,529.39 L847.52,528.06 L847.93,526.5 L848.33,524.69 L848.74,522.62 L849.14,520.27 L849.55,517.65 L849.95,514.77 L850.36,511.64 L850.76,508.3 L851.17,504.79 L851.57,501.15 L851.97,497.47 L852.38,493.79 L852.78,490.22 L853.19,486.83 L853.59,483.7 L854,480.92 L854.4,478.56 L854.81,476.7 L855.21,475.38 L855.62,474.65 L856.02,474.53 L856.43,475.13 L856.83,476.45 L857.24,478.45 L857.64,481.05 L858.04,484.17 L858.45,487.7 L858.85,491.52 L859.26,495.53 L859.66,499.6 L860.07,503.65 L860.47,507.57 L860.88,511.3 L861.28,514.77 L861.69,517.94 L862.09,520.79 L862.5,523.3 L862.9,525.49 L863.31,527.35 L863.71,528.93 L864.11,530.23 L864.52,531.29 L864.92,532.15 L865.33,532.83 L865.73,533.36 L866.14,533.77 L866.54,534.08 L866.95,534.31 L867.35,534.48 L867.76,534.61 L868.16,534.7 L868.57,534.76 L868.97,534.81" fill="none" stroke="#35c8f0" stroke-width="0.85"/>
<path d="M849.36,534.8 L849.77,534.74 L850.17,534.66 L850.57,534.53 L850.98,534.35 L851.38,534.08 L851.79,533.71 L852.19,533.2 L852.59,532.51 L853,531.6 L853.4,530.42 L853.81,528.91 L854.21,527.03 L854.61,524.73 L855.02,521.97 L855.42,518.74 L855.82,515.04 L856.23,510.9 L856.63,506.37 L857.04,501.55 L857.44,496.56 L857.84,491.56 L858.25,486.72 L858.65,482.23 L859.06,478.28 L859.46,475.04 L859.86,472.66 L860.27,471.26 L860.67,470.92 L861.07,471.8 L861.48,473.92 L861.88,477.17 L862.29,481.35 L862.69,486.23 L863.09,491.56 L863.5,497.09 L863.9,502.58 L864.31,507.84 L864.71,512.69 L865.11,517.05 L865.52,520.84 L865.92,524.05 L866.32,526.7 L866.73,528.82 L867.13,530.49 L867.54,531.76 L867.94,532.72 L868.34,533.41 L868.75,533.9 L869.15,534.25 L869.55,534.48 L869.96,534.64 L870.36,534.74 L870.77,534.8" fill="none" stroke="#7ee040" stroke-width="0.85"/>
<rect x="805.5" y="461.6" width="76" height="73.3" fill="none" stroke="#111" stroke-width="1"/>
<line x1="805.2" y1="535.2" x2="881.8" y2="535.2" stroke="#111" stroke-width="1.5"/>
<text x="807.1" y="471.7" font-size="9.2" fill="#111">FC=1.87±0.02</text>
<text x="876.7" y="472" font-size="9.6" text-anchor="end" fill="#111">**</text>
<path d="M888.4,534.9 h-1.6 M888.4,526.28 h-1.6 M888.4,517.65 h-1.6 M888.4,509.03 h-1.6 M888.4,500.41 h-1.6 M888.4,491.78 h-1.6 M888.4,483.16 h-1.6 M888.4,474.54 h-1.6 M888.4,465.91 h-1.6 M891.4,534.9 v1.6 M896.2,534.9 v1.6 M901,534.9 v1.6 M905.8,534.9 v1.6 M910.6,534.9 v1.6 M915.4,534.9 v1.6 M920.2,534.9 v1.6 M925,534.9 v1.6 M929.8,534.9 v1.6 M934.6,534.9 v1.6 M939.4,534.9 v1.6 M944.2,534.9 v1.6 M949,534.9 v1.6 M953.8,534.9 v1.6 M958.6,534.9 v1.6 M963.4,534.9 v1.6" stroke="#444" stroke-width="0.6" fill="none"/>
<path d="M902.11,534.9 L902.11,534.87 L902.51,534.85 L902.92,534.82 L903.32,534.78 L903.73,534.71 L904.13,534.6 L904.53,534.46 L904.94,534.25 L905.34,533.97 L905.74,533.59 L906.15,533.09 L906.55,532.45 L906.96,531.66 L907.36,530.69 L907.76,529.54 L908.17,528.21 L908.57,526.72 L908.97,525.08 L909.38,523.35 L909.78,521.56 L910.19,519.78 L910.59,518.07 L910.99,516.47 L911.4,515.04 L911.8,513.81 L912.21,512.79 L912.61,512.05 L913.01,511.65 L913.42,511.49 L913.82,511.43 L914.22,511.32 L914.63,511.02 L915.03,510.4 L915.44,509.37 L915.84,507.87 L916.24,505.89 L916.65,503.45 L917.05,500.65 L917.45,497.57 L917.86,494.35 L918.26,491.15 L918.67,488.14 L919.07,485.5 L919.47,483.44 L919.88,482.25 L920.28,482.95 L920.69,485.66 L921.09,489.54 L921.49,494.13 L921.9,499.07 L922.3,504.05 L922.7,508.86 L923.11,513.33 L923.51,517.35 L923.92,520.86 L924.32,523.86 L924.72,526.36 L925.13,528.39 L925.53,530.02 L925.93,531.29 L926.34,532.28 L926.74,533.02 L927.15,533.57 L927.55,533.97 L927.95,534.26 L927.95,534.9 Z" fill="#ff0f0f"/>
<path d="M925.05,534.81 L925.46,534.77 L925.86,534.71 L926.27,534.64 L926.67,534.54 L927.08,534.4 L927.48,534.22 L927.89,533.99 L928.29,533.69 L928.7,533.3 L929.1,532.81 L929.5,532.2 L929.91,531.45 L930.31,530.53 L930.72,529.43 L931.12,528.11 L931.53,526.56 L931.93,524.76 L932.34,522.7 L932.74,520.37 L933.15,517.77 L933.55,514.9 L933.96,511.79 L934.36,508.48 L934.77,504.99 L935.17,501.38 L935.57,497.71 L935.98,494.07 L936.38,490.52 L936.79,487.14 L937.19,484.04 L937.6,481.27 L938,478.93 L938.41,477.08 L938.81,475.78 L939.22,475.05 L939.62,474.93 L940.03,475.53 L940.43,476.84 L940.84,478.82 L941.24,481.41 L941.64,484.51 L942.05,488.01 L942.45,491.81 L942.86,495.79 L943.26,499.84 L943.67,503.86 L944.07,507.75 L944.48,511.45 L944.88,514.9 L945.29,518.05 L945.69,520.88 L946.1,523.38 L946.5,525.55 L946.91,527.4 L947.31,528.97 L947.71,530.26 L948.12,531.32 L948.52,532.17 L948.93,532.84 L949.33,533.37 L949.74,533.77 L950.14,534.08 L950.55,534.31 L950.95,534.49 L951.36,534.61 L951.76,534.7 L952.17,534.76 L952.57,534.81" fill="none" stroke="#35c8f0" stroke-width="0.85"/>
<path d="M925.05,534.81 L925.46,534.77 L925.86,534.71 L926.27,534.64 L926.67,534.54 L927.08,534.4 L927.48,534.22 L927.89,533.99 L928.29,533.69 L928.7,533.3 L929.1,532.81 L929.5,532.2 L929.91,531.45 L930.31,530.53 L930.72,529.43 L931.12,528.11 L931.53,526.56 L931.93,524.76 L932.34,522.7 L932.74,520.37 L933.15,517.77 L933.55,514.9 L933.96,511.79 L934.36,508.48 L934.77,504.99 L935.17,501.38 L935.57,497.71 L935.98,494.07 L936.38,490.52 L936.79,487.14 L937.19,484.04 L937.6,481.27 L938,478.93 L938.41,477.08 L938.81,475.78 L939.22,475.05 L939.62,474.93 L940.03,475.53 L940.43,476.84 L940.84,478.82 L941.24,481.41 L941.64,484.51 L942.05,488.01 L942.45,491.81 L942.86,495.79 L943.26,499.84 L943.67,503.86 L944.07,507.75 L944.48,511.45 L944.88,514.9 L945.29,518.05 L945.69,520.88 L946.1,523.38 L946.5,525.55 L946.91,527.4 L947.31,528.97 L947.71,530.26 L948.12,531.32 L948.52,532.17 L948.93,532.84 L949.33,533.37 L949.74,533.77 L950.14,534.08 L950.55,534.31 L950.95,534.49 L951.36,534.61 L951.76,534.7 L952.17,534.76 L952.57,534.81" fill="none" stroke="#3a7a2a" stroke-width="0.85"/>
<polyline points="964.4,461.6 888.4,461.6 888.4,534.9 964.4,534.9" fill="none" stroke="#111" stroke-width="1"/>
<line x1="888.1" y1="535.2" x2="964.7" y2="535.2" stroke="#111" stroke-width="1.5"/>
<line x1="964.5" y1="461.6" x2="964.5" y2="534.9" stroke="#d0d0d0" stroke-width="1"/>
<text x="890" y="471.7" font-size="9.2" fill="#111">FC=1.05±0.03</text>
<path d="M969.5,534.9 h-1.6 M969.5,526.28 h-1.6 M969.5,517.65 h-1.6 M969.5,509.03 h-1.6 M969.5,500.41 h-1.6 M969.5,491.78 h-1.6 M969.5,483.16 h-1.6 M969.5,474.54 h-1.6 M969.5,465.91 h-1.6 M972.5,534.9 v1.6 M977.3,534.9 v1.6 M982.1,534.9 v1.6 M986.9,534.9 v1.6 M991.7,534.9 v1.6 M996.5,534.9 v1.6 M1001.3,534.9 v1.6 M1006.1,534.9 v1.6 M1010.9,534.9 v1.6 M1015.7,534.9 v1.6 M1020.5,534.9 v1.6 M1025.3,534.9 v1.6 M1030.1,534.9 v1.6 M1034.9,534.9 v1.6 M1039.7,534.9 v1.6 M1044.5,534.9 v1.6" stroke="#444" stroke-width="0.6" fill="none"/>
<path d="M983.31,534.9 L983.31,534.87 L983.71,534.85 L984.12,534.83 L984.52,534.78 L984.93,534.72 L985.33,534.62 L985.73,534.48 L986.14,534.29 L986.54,534.02 L986.94,533.66 L987.35,533.19 L987.75,532.59 L988.16,531.84 L988.56,530.93 L988.96,529.85 L989.37,528.6 L989.77,527.19 L990.17,525.66 L990.58,524.03 L990.98,522.35 L991.39,520.69 L991.79,519.08 L992.19,517.6 L992.6,516.28 L993,515.15 L993.41,514.23 L993.81,513.59 L994.21,513.28 L994.62,513.2 L995.02,513.23 L995.42,513.23 L995.83,513.06 L996.23,512.61 L996.64,511.78 L997.04,510.52 L997.44,508.82 L997.85,506.71 L998.25,504.25 L998.65,501.54 L999.06,498.7 L999.46,495.86 L999.87,493.18 L1000.27,490.83 L1000.67,489 L1001.08,487.94 L1001.48,488.57 L1001.89,490.99 L1002.29,494.45 L1002.69,498.54 L1003.1,502.94 L1003.5,507.39 L1003.9,511.68 L1004.31,515.66 L1004.71,519.25 L1005.12,522.38 L1005.52,525.05 L1005.92,527.28 L1006.33,529.1 L1006.73,530.55 L1007.13,531.68 L1007.54,532.56 L1007.94,533.22 L1008.35,533.71 L1008.75,534.07 L1009.15,534.33 L1009.15,534.9 Z" fill="#ff0f0f"/>
<path d="M1006.25,534.82 L1006.66,534.78 L1007.06,534.73 L1007.47,534.66 L1007.87,534.57 L1008.28,534.45 L1008.68,534.29 L1009.09,534.07 L1009.49,533.8 L1009.9,533.45 L1010.3,533 L1010.7,532.45 L1011.11,531.77 L1011.51,530.93 L1011.92,529.93 L1012.32,528.73 L1012.73,527.32 L1013.13,525.69 L1013.54,523.82 L1013.94,521.7 L1014.35,519.34 L1014.75,516.73 L1015.16,513.91 L1015.56,510.9 L1015.97,507.73 L1016.37,504.45 L1016.77,501.12 L1017.18,497.81 L1017.58,494.58 L1017.99,491.52 L1018.39,488.7 L1018.8,486.19 L1019.2,484.06 L1019.61,482.38 L1020.01,481.19 L1020.42,480.54 L1020.82,480.43 L1021.23,480.97 L1021.63,482.16 L1022.04,483.96 L1022.44,486.31 L1022.84,489.13 L1023.25,492.31 L1023.65,495.76 L1024.06,499.37 L1024.46,503.05 L1024.87,506.7 L1025.27,510.24 L1025.68,513.6 L1026.08,516.73 L1026.49,519.6 L1026.89,522.17 L1027.3,524.44 L1027.7,526.41 L1028.11,528.09 L1028.51,529.51 L1028.91,530.68 L1029.32,531.64 L1029.72,532.42 L1030.13,533.03 L1030.53,533.51 L1030.94,533.88 L1031.34,534.16 L1031.75,534.37 L1032.15,534.52 L1032.56,534.64 L1032.96,534.72 L1033.37,534.78 L1033.77,534.82" fill="none" stroke="#35c8f0" stroke-width="0.85"/>
<path d="M1012.46,534.81 L1012.86,534.76 L1013.27,534.69 L1013.67,534.59 L1014.07,534.45 L1014.47,534.25 L1014.87,533.98 L1015.28,533.61 L1015.68,533.11 L1016.08,532.46 L1016.48,531.62 L1016.89,530.56 L1017.29,529.23 L1017.69,527.6 L1018.09,525.64 L1018.5,523.33 L1018.9,520.64 L1019.3,517.58 L1019.7,514.17 L1020.1,510.45 L1020.51,506.46 L1020.91,502.31 L1021.31,498.08 L1021.71,493.91 L1022.12,489.91 L1022.52,486.24 L1022.92,483.02 L1023.32,480.38 L1023.73,478.43 L1024.13,477.26 L1024.53,476.9 L1024.93,477.49 L1025.33,479.07 L1025.74,481.55 L1026.14,484.82 L1026.54,488.71 L1026.94,493.05 L1027.35,497.64 L1027.75,502.31 L1028.15,506.89 L1028.55,511.25 L1028.96,515.29 L1029.36,518.92 L1029.76,522.1 L1030.16,524.83 L1030.56,527.12 L1030.97,528.99 L1031.37,530.49 L1031.77,531.67 L1032.17,532.57 L1032.58,533.25 L1032.98,533.76 L1033.38,534.12 L1033.78,534.38 L1034.19,534.55 L1034.59,534.68 L1034.99,534.76 L1035.39,534.81" fill="none" stroke="#f05a5a" stroke-width="0.85"/>
<path d="M1013.36,534.8 L1013.77,534.74 L1014.17,534.66 L1014.57,534.53 L1014.98,534.35 L1015.38,534.08 L1015.79,533.71 L1016.19,533.2 L1016.59,532.51 L1017,531.6 L1017.4,530.42 L1017.81,528.91 L1018.21,527.03 L1018.61,524.73 L1019.02,521.97 L1019.42,518.74 L1019.82,515.04 L1020.23,510.9 L1020.63,506.37 L1021.04,501.55 L1021.44,496.56 L1021.84,491.56 L1022.25,486.72 L1022.65,482.23 L1023.06,478.28 L1023.46,475.04 L1023.86,472.66 L1024.27,471.26 L1024.67,470.92 L1025.07,471.8 L1025.48,473.92 L1025.88,477.17 L1026.29,481.35 L1026.69,486.23 L1027.09,491.56 L1027.5,497.09 L1027.9,502.58 L1028.31,507.84 L1028.71,512.69 L1029.11,517.05 L1029.52,520.84 L1029.92,524.05 L1030.32,526.7 L1030.73,528.82 L1031.13,530.49 L1031.54,531.76 L1031.94,532.72 L1032.34,533.41 L1032.75,533.9 L1033.15,534.25 L1033.55,534.48 L1033.96,534.64 L1034.36,534.74 L1034.77,534.8" fill="none" stroke="#f5a04a" stroke-width="0.85"/>
<path d="M1012.76,534.81 L1013.17,534.75 L1013.57,534.67 L1013.97,534.55 L1014.38,534.38 L1014.78,534.13 L1015.19,533.79 L1015.59,533.31 L1015.99,532.66 L1016.4,531.81 L1016.8,530.7 L1017.21,529.29 L1017.61,527.52 L1018.01,525.37 L1018.42,522.78 L1018.82,519.75 L1019.22,516.28 L1019.63,512.4 L1020.03,508.15 L1020.44,503.63 L1020.84,498.96 L1021.24,494.27 L1021.65,489.73 L1022.05,485.52 L1022.46,481.82 L1022.86,478.78 L1023.26,476.55 L1023.67,475.24 L1024.07,474.92 L1024.47,475.74 L1024.88,477.73 L1025.28,480.78 L1025.69,484.69 L1026.09,489.27 L1026.49,494.27 L1026.9,499.45 L1027.3,504.6 L1027.71,509.53 L1028.11,514.08 L1028.51,518.16 L1028.92,521.72 L1029.32,524.73 L1029.72,527.21 L1030.13,529.2 L1030.53,530.77 L1030.94,531.96 L1031.34,532.85 L1031.74,533.5 L1032.15,533.97 L1032.55,534.29 L1032.95,534.51 L1033.36,534.65 L1033.76,534.75 L1034.17,534.81" fill="none" stroke="#7ee040" stroke-width="0.85"/>
<path d="M1006.25,534.82 L1006.66,534.78 L1007.06,534.73 L1007.47,534.66 L1007.87,534.57 L1008.28,534.45 L1008.68,534.29 L1009.09,534.07 L1009.49,533.8 L1009.9,533.45 L1010.3,533 L1010.7,532.45 L1011.11,531.77 L1011.51,530.93 L1011.92,529.93 L1012.32,528.73 L1012.73,527.32 L1013.13,525.69 L1013.54,523.82 L1013.94,521.7 L1014.35,519.34 L1014.75,516.73 L1015.16,513.91 L1015.56,510.9 L1015.97,507.73 L1016.37,504.45 L1016.77,501.12 L1017.18,497.81 L1017.58,494.58 L1017.99,491.52 L1018.39,488.7 L1018.8,486.19 L1019.2,484.06 L1019.61,482.38 L1020.01,481.19 L1020.42,480.54 L1020.82,480.43 L1021.23,480.97 L1021.63,482.16 L1022.04,483.96 L1022.44,486.31 L1022.84,489.13 L1023.25,492.31 L1023.65,495.76 L1024.06,499.37 L1024.46,503.05 L1024.87,506.7 L1025.27,510.24 L1025.68,513.6 L1026.08,516.73 L1026.49,519.6 L1026.89,522.17 L1027.3,524.44 L1027.7,526.41 L1028.11,528.09 L1028.51,529.51 L1028.91,530.68 L1029.32,531.64 L1029.72,532.42 L1030.13,533.03 L1030.53,533.51 L1030.94,533.88 L1031.34,534.16 L1031.75,534.37 L1032.15,534.52 L1032.56,534.64 L1032.96,534.72 L1033.37,534.78 L1033.77,534.82" fill="none" stroke="#3a7a2a" stroke-width="0.85"/>
<rect x="969.5" y="461.6" width="76" height="73.3" fill="none" stroke="#111" stroke-width="1"/>
<line x1="969.2" y1="535.2" x2="1045.8" y2="535.2" stroke="#111" stroke-width="1.5"/>
<line x1="554" y1="554.5" x2="989" y2="554.5" stroke="#222" stroke-width="1"/>
<text x="760" y="551.6" font-size="9.3" text-anchor="middle" fill="#111">M21</text>
<path d="M559.5,636.9 h-1.6 M559.5,628.28 h-1.6 M559.5,619.65 h-1.6 M559.5,611.03 h-1.6 M559.5,602.41 h-1.6 M559.5,593.78 h-1.6 M559.5,585.16 h-1.6 M559.5,576.54 h-1.6 M559.5,567.91 h-1.6 M562.5,636.9 v1.6 M567.3,636.9 v1.6 M572.1,636.9 v1.6 M576.9,636.9 v1.6 M581.7,636.9 v1.6 M586.5,636.9 v1.6 M591.3,636.9 v1.6 M596.1,636.9 v1.6 M600.9,636.9 v1.6 M605.7,636.9 v1.6 M610.5,636.9 v1.6 M615.3,636.9 v1.6 M620.1,636.9 v1.6 M624.9,636.9 v1.6 M629.7,636.9 v1.6 M634.5,636.9 v1.6" stroke="#444" stroke-width="0.6" fill="none"/>
<path d="M578.23,636.9 L578.23,634.71 L578.64,634.22 L579.05,633.62 L579.45,632.91 L579.86,632.08 L580.27,631.09 L580.67,629.93 L581.08,628.58 L581.48,627.02 L581.89,625.24 L582.3,623.2 L582.7,620.89 L583.11,618.32 L583.52,615.45 L583.92,612.32 L584.33,608.92 L584.74,605.28 L585.14,601.47 L585.55,597.55 L585.96,593.62 L586.36,589.85 L586.77,586.44 L587.18,583.79 L587.58,583.79 L587.99,587.15 L588.4,591.49 L588.8,596.23 L589.21,601.04 L589.62,605.7 L590.02,610.08 L590.43,614.09 L590.84,617.7 L591.24,620.89 L591.65,623.67 L592.06,626.06 L592.46,628.09 L592.87,629.79 L593.27,631.21 L593.68,632.37 L594.09,633.32 L594.49,634.09 L594.9,634.71 L594.9,636.9 Z" fill="#c9c9c9"/>
<path d="M603.66,636.9 L603.66,636.17 L604.07,635.91 L604.47,635.57 L604.87,635.13 L605.28,634.56 L605.68,633.84 L606.08,632.93 L606.49,631.8 L606.89,630.43 L607.29,628.76 L607.7,626.76 L608.1,624.42 L608.5,621.69 L608.9,618.57 L609.31,615.07 L609.71,611.19 L610.11,606.99 L610.52,602.53 L610.92,597.92 L611.32,593.29 L611.73,588.8 L612.13,584.65 L612.53,581.08 L612.94,578.38 L613.34,576.95 L613.74,578.38 L614.15,582.26 L614.55,587.53 L614.95,593.56 L615.36,599.83 L615.76,605.96 L616.16,611.66 L616.56,616.77 L616.97,621.17 L617.37,624.86 L617.77,627.86 L618.18,630.24 L618.58,632.09 L618.98,633.49 L619.39,634.52 L619.79,635.27 L620.19,635.8 L620.6,636.17 L620.6,636.9 Z" fill="#00c4f0"/>
<rect x="559.5" y="563.6" width="76" height="73.3" fill="none" stroke="#111" stroke-width="1"/>
<line x1="559.2" y1="637.2" x2="635.8" y2="637.2" stroke="#111" stroke-width="1.5"/>
<path d="M641.6,636.9 h-1.6 M641.6,628.28 h-1.6 M641.6,619.65 h-1.6 M641.6,611.03 h-1.6 M641.6,602.41 h-1.6 M641.6,593.78 h-1.6 M641.6,585.16 h-1.6 M641.6,576.54 h-1.6 M641.6,567.91 h-1.6 M644.6,636.9 v1.6 M649.4,636.9 v1.6 M654.2,636.9 v1.6 M659,636.9 v1.6 M663.8,636.9 v1.6 M668.6,636.9 v1.6 M673.4,636.9 v1.6 M678.2,636.9 v1.6 M683,636.9 v1.6 M687.8,636.9 v1.6 M692.6,636.9 v1.6 M697.4,636.9 v1.6 M702.2,636.9 v1.6 M707,636.9 v1.6 M711.8,636.9 v1.6 M716.6,636.9 v1.6" stroke="#444" stroke-width="0.6" fill="none"/>
<path d="M660.83,636.9 L660.83,634.65 L661.24,634.14 L661.65,633.52 L662.05,632.8 L662.46,631.93 L662.87,630.92 L663.27,629.72 L663.68,628.34 L664.08,626.73 L664.49,624.89 L664.9,622.79 L665.3,620.42 L665.71,617.76 L666.12,614.82 L666.52,611.59 L666.93,608.09 L667.34,604.35 L667.74,600.42 L668.15,596.38 L668.56,592.34 L668.96,588.45 L669.37,584.94 L669.78,582.21 L670.18,582.21 L670.59,585.67 L671,590.15 L671.4,595.02 L671.81,599.97 L672.22,604.77 L672.62,609.28 L673.03,613.42 L673.44,617.13 L673.84,620.42 L674.25,623.28 L674.66,625.74 L675.06,627.83 L675.47,629.58 L675.87,631.04 L676.28,632.24 L676.69,633.22 L677.09,634.01 L677.5,634.65 L677.5,636.9 Z" fill="#c9c9c9"/>
<path d="M685.82,636.49 L686.22,636.31 L686.63,636.05 L687.04,635.69 L687.45,635.2 L687.85,634.55 L688.26,633.69 L688.67,632.59 L689.08,631.18 L689.48,629.42 L689.89,627.26 L690.3,624.65 L690.71,621.57 L691.11,618.01 L691.52,613.96 L691.93,609.49 L692.34,604.66 L692.74,599.59 L693.15,594.45 L693.56,589.44 L693.97,584.8 L694.37,580.78 L694.78,577.68 L695.19,575.82 L695.6,575.93 L696,578.69 L696.41,583.25 L696.82,589 L697.23,595.38 L697.63,601.91 L698.04,608.2 L698.45,613.96 L698.86,619.03 L699.26,623.31 L699.67,626.82 L700.08,629.6 L700.49,631.73 L700.89,633.32 L701.3,634.48 L701.71,635.3 L702.12,635.86 L702.52,636.24 L702.93,636.49" fill="none" stroke="#35c8f0" stroke-width="0.85"/>
<path d="M691.25,636.48 L691.65,636.28 L692.06,636 L692.46,635.62 L692.86,635.09 L693.27,634.38 L693.67,633.44 L694.07,632.23 L694.47,630.68 L694.88,628.74 L695.28,626.35 L695.68,623.47 L696.09,620.08 L696.49,616.15 L696.89,611.72 L697.29,606.85 L697.7,601.64 L698.1,596.24 L698.5,590.84 L698.9,585.69 L699.31,581.07 L699.71,577.27 L700.11,574.64 L700.52,573.61 L700.92,575.44 L701.32,579.58 L701.72,585.25 L702.13,591.81 L702.53,598.71 L702.93,605.46 L703.34,611.72 L703.74,617.27 L704.14,621.99 L704.54,625.86 L704.95,628.93 L705.35,631.28 L705.75,633.04 L706.16,634.3 L706.56,635.2 L706.96,635.81 L707.36,636.21 L707.77,636.48" fill="none" stroke="#f05a5a" stroke-width="0.85"/>
<rect x="641.6" y="563.6" width="76" height="73.3" fill="none" stroke="#111" stroke-width="1"/>
<line x1="641.3" y1="637.2" x2="717.9" y2="637.2" stroke="#111" stroke-width="1.5"/>
<text x="643.2" y="573.7" font-size="9.2" fill="#111">FC=2.03±0.08</text>
<text x="712" y="574" font-size="9.6" text-anchor="end" fill="#111">**</text>
<path d="M723.6,636.9 h-1.6 M723.6,628.28 h-1.6 M723.6,619.65 h-1.6 M723.6,611.03 h-1.6 M723.6,602.41 h-1.6 M723.6,593.78 h-1.6 M723.6,585.16 h-1.6 M723.6,576.54 h-1.6 M723.6,567.91 h-1.6 M726.6,636.9 v1.6 M731.4,636.9 v1.6 M736.2,636.9 v1.6 M741,636.9 v1.6 M745.8,636.9 v1.6 M750.6,636.9 v1.6 M755.4,636.9 v1.6 M760.2,636.9 v1.6 M765,636.9 v1.6 M769.8,636.9 v1.6 M774.6,636.9 v1.6 M779.4,636.9 v1.6 M784.2,636.9 v1.6 M789,636.9 v1.6 M793.8,636.9 v1.6 M798.6,636.9 v1.6" stroke="#444" stroke-width="0.6" fill="none"/>
<path d="M742.93,636.9 L742.93,634.65 L743.34,634.14 L743.75,633.52 L744.15,632.8 L744.56,631.93 L744.97,630.92 L745.37,629.72 L745.78,628.34 L746.18,626.73 L746.59,624.89 L747,622.79 L747.4,620.42 L747.81,617.76 L748.22,614.82 L748.62,611.59 L749.03,608.09 L749.44,604.35 L749.84,600.42 L750.25,596.38 L750.66,592.34 L751.06,588.45 L751.47,584.94 L751.88,582.21 L752.28,582.21 L752.69,585.67 L753.1,590.15 L753.5,595.02 L753.91,599.97 L754.32,604.77 L754.72,609.28 L755.13,613.42 L755.54,617.13 L755.94,620.42 L756.35,623.28 L756.76,625.74 L757.16,627.83 L757.57,629.58 L757.97,631.04 L758.38,632.24 L758.79,633.22 L759.19,634.01 L759.6,634.65 L759.6,636.9 Z" fill="#c9c9c9"/>
<path d="M767.82,636.49 L768.22,636.31 L768.63,636.05 L769.04,635.69 L769.45,635.2 L769.85,634.55 L770.26,633.69 L770.67,632.59 L771.08,631.18 L771.48,629.42 L771.89,627.26 L772.3,624.65 L772.71,621.57 L773.11,618.01 L773.52,613.96 L773.93,609.49 L774.34,604.66 L774.74,599.59 L775.15,594.45 L775.56,589.44 L775.97,584.8 L776.37,580.78 L776.78,577.68 L777.19,575.82 L777.6,575.93 L778,578.69 L778.41,583.25 L778.82,589 L779.23,595.38 L779.63,601.91 L780.04,608.2 L780.45,613.96 L780.86,619.03 L781.26,623.31 L781.67,626.82 L782.08,629.6 L782.49,631.73 L782.89,633.32 L783.3,634.48 L783.71,635.3 L784.12,635.86 L784.52,636.24 L784.93,636.49" fill="none" stroke="#35c8f0" stroke-width="0.85"/>
<path d="M773.25,636.48 L773.65,636.28 L774.06,636 L774.46,635.62 L774.86,635.09 L775.27,634.38 L775.67,633.44 L776.07,632.23 L776.47,630.68 L776.88,628.74 L777.28,626.35 L777.68,623.47 L778.09,620.08 L778.49,616.15 L778.89,611.72 L779.29,606.85 L779.7,601.64 L780.1,596.24 L780.5,590.84 L780.9,585.69 L781.31,581.07 L781.71,577.27 L782.11,574.64 L782.52,573.61 L782.92,575.44 L783.32,579.58 L783.72,585.25 L784.13,591.81 L784.53,598.71 L784.93,605.46 L785.34,611.72 L785.74,617.27 L786.14,621.99 L786.54,625.86 L786.95,628.93 L787.35,631.28 L787.75,633.04 L788.16,634.3 L788.56,635.2 L788.96,635.81 L789.36,636.21 L789.77,636.48" fill="none" stroke="#f5a04a" stroke-width="0.85"/>
<rect x="723.6" y="563.6" width="76" height="73.3" fill="none" stroke="#111" stroke-width="1"/>
<line x1="723.3" y1="637.2" x2="799.9" y2="637.2" stroke="#111" stroke-width="1.5"/>
<text x="725.2" y="573.7" font-size="9.2" fill="#111">FC=2.13±0.02</text>
<text x="794" y="574" font-size="9.6" text-anchor="end" fill="#111">**</text>
<path d="M805.5,636.9 h-1.6 M805.5,628.28 h-1.6 M805.5,619.65 h-1.6 M805.5,611.03 h-1.6 M805.5,602.41 h-1.6 M805.5,593.78 h-1.6 M805.5,585.16 h-1.6 M805.5,576.54 h-1.6 M805.5,567.91 h-1.6 M808.5,636.9 v1.6 M813.3,636.9 v1.6 M818.1,636.9 v1.6 M822.9,636.9 v1.6 M827.7,636.9 v1.6 M832.5,636.9 v1.6 M837.3,636.9 v1.6 M842.1,636.9 v1.6 M846.9,636.9 v1.6 M851.7,636.9 v1.6 M856.5,636.9 v1.6 M861.3,636.9 v1.6 M866.1,636.9 v1.6 M870.9,636.9 v1.6 M875.7,636.9 v1.6 M880.5,636.9 v1.6" stroke="#444" stroke-width="0.6" fill="none"/>
<path d="M824.93,636.9 L824.93,634.65 L825.34,634.14 L825.75,633.52 L826.15,632.8 L826.56,631.93 L826.97,630.92 L827.37,629.72 L827.78,628.34 L828.18,626.73 L828.59,624.89 L829,622.79 L829.4,620.42 L829.81,617.76 L830.22,614.82 L830.62,611.59 L831.03,608.09 L831.44,604.35 L831.84,600.42 L832.25,596.38 L832.66,592.34 L833.06,588.45 L833.47,584.94 L833.88,582.21 L834.28,582.21 L834.69,585.67 L835.1,590.15 L835.5,595.02 L835.91,599.97 L836.32,604.77 L836.72,609.28 L837.13,613.42 L837.54,617.13 L837.94,620.42 L838.35,623.28 L838.76,625.74 L839.16,627.83 L839.57,629.58 L839.97,631.04 L840.38,632.24 L840.79,633.22 L841.19,634.01 L841.6,634.65 L841.6,636.9 Z" fill="#c9c9c9"/>
<path d="M850.22,636.5 L850.62,636.32 L851.03,636.06 L851.44,635.71 L851.85,635.24 L852.25,634.6 L852.66,633.77 L853.07,632.68 L853.48,631.31 L853.88,629.59 L854.29,627.48 L854.7,624.93 L855.11,621.92 L855.51,618.44 L855.92,614.49 L856.33,610.11 L856.74,605.39 L857.14,600.44 L857.55,595.42 L857.96,590.53 L858.37,585.99 L858.77,582.06 L859.18,579.03 L859.59,577.21 L860,577.32 L860.4,580.01 L860.81,584.48 L861.22,590.1 L861.63,596.33 L862.03,602.71 L862.44,608.85 L862.85,614.49 L863.26,619.43 L863.66,623.62 L864.07,627.05 L864.48,629.76 L864.89,631.85 L865.29,633.4 L865.7,634.53 L866.11,635.33 L866.52,635.89 L866.92,636.26 L867.33,636.5" fill="none" stroke="#35c8f0" stroke-width="0.85"/>
<path d="M855.59,636.47 L856,636.25 L856.4,635.95 L856.81,635.51 L857.22,634.91 L857.63,634.1 L858.04,633.01 L858.44,631.59 L858.85,629.77 L859.26,627.47 L859.67,624.65 L860.08,621.26 L860.48,617.27 L860.89,612.69 L861.3,607.59 L861.71,602.06 L862.12,596.27 L862.53,590.45 L862.93,584.87 L863.34,579.86 L863.75,575.78 L864.16,573.02 L864.57,572.17 L864.97,574.6 L865.38,579.44 L865.79,585.85 L866.2,593.09 L866.61,600.5 L867.01,607.59 L867.42,614 L867.83,619.52 L868.24,624.08 L868.65,627.7 L869.05,630.48 L869.46,632.54 L869.87,634.01 L870.28,635.04 L870.69,635.73 L871.09,636.18 L871.5,636.47" fill="none" stroke="#7ee040" stroke-width="0.85"/>
<rect x="805.5" y="563.6" width="76" height="73.3" fill="none" stroke="#111" stroke-width="1"/>
<line x1="805.2" y1="637.2" x2="881.8" y2="637.2" stroke="#111" stroke-width="1.5"/>
<text x="807.1" y="573.7" font-size="9.2" fill="#111">FC=2.00±0.10</text>
<text x="875.9" y="574" font-size="9.6" text-anchor="end" fill="#111">**</text>
<path d="M888.4,636.9 h-1.6 M888.4,628.28 h-1.6 M888.4,619.65 h-1.6 M888.4,611.03 h-1.6 M888.4,602.41 h-1.6 M888.4,593.78 h-1.6 M888.4,585.16 h-1.6 M888.4,576.54 h-1.6 M888.4,567.91 h-1.6 M891.4,636.9 v1.6 M896.2,636.9 v1.6 M901,636.9 v1.6 M905.8,636.9 v1.6 M910.6,636.9 v1.6 M915.4,636.9 v1.6 M920.2,636.9 v1.6 M925,636.9 v1.6 M929.8,636.9 v1.6 M934.6,636.9 v1.6 M939.4,636.9 v1.6 M944.2,636.9 v1.6 M949,636.9 v1.6 M953.8,636.9 v1.6 M958.6,636.9 v1.6 M963.4,636.9 v1.6" stroke="#444" stroke-width="0.6" fill="none"/>
<path d="M907.33,636.9 L907.33,634.65 L907.74,634.14 L908.15,633.52 L908.55,632.8 L908.96,631.93 L909.37,630.92 L909.77,629.72 L910.18,628.34 L910.58,626.73 L910.99,624.89 L911.4,622.79 L911.8,620.42 L912.21,617.76 L912.62,614.82 L913.02,611.59 L913.43,608.09 L913.84,604.35 L914.24,600.42 L914.65,596.38 L915.06,592.34 L915.46,588.45 L915.87,584.94 L916.28,582.21 L916.68,582.21 L917.09,585.67 L917.5,590.15 L917.9,595.02 L918.31,599.97 L918.72,604.77 L919.12,609.28 L919.53,613.42 L919.94,617.13 L920.34,620.42 L920.75,623.28 L921.16,625.74 L921.56,627.83 L921.97,629.58 L922.37,631.04 L922.78,632.24 L923.19,633.22 L923.59,634.01 L924,634.65 L924,636.9 Z" fill="#c9c9c9"/>
<path d="M932.22,636.5 L932.62,636.32 L933.03,636.06 L933.44,635.71 L933.85,635.24 L934.25,634.6 L934.66,633.77 L935.07,632.68 L935.48,631.31 L935.88,629.59 L936.29,627.48 L936.7,624.93 L937.11,621.92 L937.51,618.44 L937.92,614.49 L938.33,610.11 L938.74,605.39 L939.14,600.44 L939.55,595.42 L939.96,590.53 L940.37,585.99 L940.77,582.06 L941.18,579.03 L941.59,577.21 L942,577.32 L942.4,580.01 L942.81,584.48 L943.22,590.1 L943.63,596.33 L944.03,602.71 L944.44,608.85 L944.85,614.49 L945.26,619.43 L945.66,623.62 L946.07,627.05 L946.48,629.76 L946.89,631.85 L947.29,633.4 L947.7,634.53 L948.11,635.33 L948.52,635.89 L948.92,636.26 L949.33,636.5" fill="none" stroke="#35c8f0" stroke-width="0.85"/>
<path d="M932.38,636.49 L932.78,636.3 L933.18,636.04 L933.58,635.67 L933.99,635.18 L934.39,634.52 L934.79,633.66 L935.19,632.54 L935.59,631.12 L935.99,629.35 L936.39,627.16 L936.79,624.53 L937.19,621.42 L937.59,617.82 L937.99,613.74 L938.39,609.22 L938.79,604.34 L939.19,599.23 L939.59,594.04 L939.99,588.98 L940.39,584.29 L940.79,580.24 L941.19,577.11 L941.59,575.22 L941.99,575.33 L942.39,578.12 L942.79,582.73 L943.19,588.54 L943.59,594.98 L943.99,601.57 L944.39,607.92 L944.79,613.74 L945.19,618.85 L945.6,623.18 L946,626.72 L946.4,629.52 L946.8,631.68 L947.2,633.29 L947.6,634.46 L948,635.28 L948.4,635.85 L948.8,636.24 L949.2,636.49" fill="none" stroke="#3a7a2a" stroke-width="0.85"/>
<rect x="888.4" y="563.6" width="76" height="73.3" fill="none" stroke="#111" stroke-width="1"/>
<line x1="888.1" y1="637.2" x2="964.7" y2="637.2" stroke="#111" stroke-width="1.5"/>
<text x="890" y="573.7" font-size="9.2" fill="#111">FC=1.01±0.06</text>
<path d="M969.5,636.9 h-1.6 M969.5,628.28 h-1.6 M969.5,619.65 h-1.6 M969.5,611.03 h-1.6 M969.5,602.41 h-1.6 M969.5,593.78 h-1.6 M969.5,585.16 h-1.6 M969.5,576.54 h-1.6 M969.5,567.91 h-1.6 M972.5,636.9 v1.6 M977.3,636.9 v1.6 M982.1,636.9 v1.6 M986.9,636.9 v1.6 M991.7,636.9 v1.6 M996.5,636.9 v1.6 M1001.3,636.9 v1.6 M1006.1,636.9 v1.6 M1010.9,636.9 v1.6 M1015.7,636.9 v1.6 M1020.5,636.9 v1.6 M1025.3,636.9 v1.6 M1030.1,636.9 v1.6 M1034.9,636.9 v1.6 M1039.7,636.9 v1.6 M1044.5,636.9 v1.6" stroke="#444" stroke-width="0.6" fill="none"/>
<path d="M988.93,636.9 L988.93,634.72 L989.34,634.23 L989.75,633.64 L990.15,632.94 L990.56,632.1 L990.97,631.12 L991.37,629.97 L991.78,628.63 L992.18,627.08 L992.59,625.3 L993,623.27 L993.4,620.98 L993.81,618.42 L994.22,615.57 L994.62,612.45 L995.03,609.07 L995.44,605.46 L995.84,601.67 L996.25,597.76 L996.66,593.86 L997.06,590.11 L997.47,586.72 L997.88,584.08 L998.28,584.08 L998.69,587.43 L999.1,591.75 L999.5,596.46 L999.91,601.24 L1000.32,605.87 L1000.72,610.23 L1001.13,614.22 L1001.54,617.81 L1001.94,620.98 L1002.35,623.75 L1002.76,626.12 L1003.16,628.14 L1003.57,629.83 L1003.97,631.24 L1004.38,632.4 L1004.79,633.34 L1005.19,634.11 L1005.6,634.72 L1005.6,636.9 Z" fill="#c9c9c9"/>
<path d="M1013.12,636.51 L1013.52,636.33 L1013.93,636.08 L1014.34,635.73 L1014.75,635.26 L1015.15,634.64 L1015.56,633.82 L1015.97,632.75 L1016.38,631.4 L1016.78,629.71 L1017.19,627.64 L1017.6,625.13 L1018.01,622.17 L1018.41,618.74 L1018.82,614.86 L1019.23,610.56 L1019.64,605.92 L1020.04,601.05 L1020.45,596.11 L1020.86,591.3 L1021.27,586.84 L1021.67,582.98 L1022.08,580 L1022.49,578.21 L1022.9,578.31 L1023.3,580.96 L1023.71,585.35 L1024.12,590.88 L1024.53,597.01 L1024.93,603.28 L1025.34,609.32 L1025.75,614.86 L1026.16,619.73 L1026.56,623.84 L1026.97,627.21 L1027.38,629.88 L1027.79,631.93 L1028.19,633.46 L1028.6,634.57 L1029.01,635.36 L1029.42,635.9 L1029.82,636.27 L1030.23,636.51" fill="none" stroke="#35c8f0" stroke-width="0.85"/>
<path d="M1018.75,636.5 L1019.15,636.31 L1019.56,636.05 L1019.96,635.68 L1020.36,635.18 L1020.77,634.51 L1021.17,633.62 L1021.57,632.47 L1021.97,631 L1022.38,629.16 L1022.78,626.9 L1023.18,624.17 L1023.59,620.95 L1023.99,617.23 L1024.39,613.04 L1024.79,608.42 L1025.2,603.48 L1025.6,598.36 L1026,593.24 L1026.4,588.36 L1026.81,583.98 L1027.21,580.38 L1027.61,577.88 L1028.02,576.91 L1028.42,578.64 L1028.82,582.57 L1029.22,587.94 L1029.63,594.16 L1030.03,600.7 L1030.43,607.1 L1030.84,613.04 L1031.24,618.3 L1031.64,622.77 L1032.04,626.44 L1032.45,629.35 L1032.85,631.58 L1033.25,633.24 L1033.66,634.44 L1034.06,635.29 L1034.46,635.86 L1034.86,636.25 L1035.27,636.5" fill="none" stroke="#f05a5a" stroke-width="0.85"/>
<path d="M1018.45,636.47 L1018.85,636.27 L1019.26,635.98 L1019.66,635.59 L1020.06,635.05 L1020.47,634.32 L1020.87,633.36 L1021.27,632.12 L1021.67,630.53 L1022.08,628.54 L1022.48,626.1 L1022.88,623.15 L1023.29,619.68 L1023.69,615.66 L1024.09,611.13 L1024.49,606.14 L1024.9,600.8 L1025.3,595.27 L1025.7,589.75 L1026.1,584.48 L1026.51,579.75 L1026.91,575.86 L1027.31,573.16 L1027.72,572.11 L1028.12,573.98 L1028.52,578.22 L1028.92,584.02 L1029.33,590.74 L1029.73,597.8 L1030.13,604.71 L1030.54,611.13 L1030.94,616.81 L1031.34,621.64 L1031.74,625.6 L1032.15,628.74 L1032.55,631.15 L1032.95,632.95 L1033.36,634.24 L1033.76,635.16 L1034.16,635.78 L1034.56,636.2 L1034.97,636.47" fill="none" stroke="#f5a04a" stroke-width="0.85"/>
<path d="M1019.49,636.48 L1019.9,636.27 L1020.3,635.97 L1020.71,635.55 L1021.12,634.97 L1021.53,634.18 L1021.94,633.12 L1022.34,631.74 L1022.75,629.96 L1023.16,627.74 L1023.57,624.99 L1023.98,621.69 L1024.38,617.81 L1024.79,613.36 L1025.2,608.4 L1025.61,603.03 L1026.02,597.4 L1026.43,591.74 L1026.83,586.32 L1027.24,581.44 L1027.65,577.47 L1028.06,574.79 L1028.47,573.97 L1028.87,576.33 L1029.28,581.04 L1029.69,587.27 L1030.1,594.3 L1030.51,601.51 L1030.91,608.4 L1031.32,614.63 L1031.73,620 L1032.14,624.44 L1032.55,627.96 L1032.95,630.66 L1033.36,632.66 L1033.77,634.09 L1034.18,635.09 L1034.59,635.76 L1034.99,636.2 L1035.4,636.48" fill="none" stroke="#7ee040" stroke-width="0.85"/>
<path d="M1013.98,636.5 L1014.38,636.32 L1014.78,636.06 L1015.18,635.71 L1015.59,635.24 L1015.99,634.6 L1016.39,633.77 L1016.79,632.68 L1017.19,631.31 L1017.59,629.59 L1017.99,627.48 L1018.39,624.93 L1018.79,621.92 L1019.19,618.44 L1019.59,614.49 L1019.99,610.11 L1020.39,605.39 L1020.79,600.44 L1021.19,595.42 L1021.59,590.53 L1021.99,585.99 L1022.39,582.06 L1022.79,579.03 L1023.19,577.21 L1023.59,577.32 L1023.99,580.01 L1024.39,584.48 L1024.79,590.1 L1025.19,596.33 L1025.59,602.71 L1025.99,608.85 L1026.39,614.49 L1026.79,619.43 L1027.2,623.62 L1027.6,627.05 L1028,629.76 L1028.4,631.85 L1028.8,633.4 L1029.2,634.53 L1029.6,635.33 L1030,635.89 L1030.4,636.26 L1030.8,636.5" fill="none" stroke="#3a7a2a" stroke-width="0.85"/>
<rect x="969.5" y="563.6" width="76" height="73.3" fill="none" stroke="#111" stroke-width="1"/>
<line x1="969.2" y1="637.2" x2="1045.8" y2="637.2" stroke="#111" stroke-width="1.5"/>
<line x1="548.5" y1="64" x2="548.5" y2="586" stroke="#111" stroke-width="1"/>
<path d="M548.45,54.5 L543.6,69.4 L548.45,65.5 L553.3,69.4 Z" fill="#000"/>
<text transform="translate(551.8,615.5) rotate(-90)" font-size="9" text-anchor="middle" fill="#111">Cell Count</text>
<text x="559.2" y="651.4" font-size="9" fill="#111">B7-H3-PE</text>
<line x1="605.5" y1="648.1" x2="933" y2="648.1" stroke="#666" stroke-width="1.3"/>
<path d="M943.2,648.1 L928.6,643.3 L932.2,648.1 L928.6,652.7 Z" fill="#000"/>
<text x="951.7" y="651.8" font-size="7.3" fill="#111">FC=MFI normalized to mock</text>
<text x="2.1" y="199.9" font-size="16" font-weight="bold" fill="#000">C</text>
<defs><filter id="bl" x="-20%" y="-80%" width="140%" height="260%"><feGaussianBlur stdDeviation="0.55"/></filter></defs>
<rect x="63.7" y="241.4" width="118" height="14.9" fill="#f7f7f7"/>
<rect x="67.25" y="245.45" width="17.5" height="2.8" rx="1.4" fill="#232323" filter="url(#bl)"/>
<rect x="90.45" y="244.35" width="17.5" height="5" rx="2.5" fill="#0c0c0c" filter="url(#bl)"/>
<rect x="113.45" y="244.6" width="17.5" height="4.5" rx="2.25" fill="#0c0c0c" filter="url(#bl)"/>
<rect x="136.45" y="244.95" width="17.5" height="3.8" rx="1.9" fill="#2f2f2f" filter="url(#bl)"/>
<rect x="160.25" y="245.6" width="17.5" height="2.5" rx="1.25" fill="#3a3a3a" filter="url(#bl)"/>
<rect x="63.7" y="241.4" width="118" height="14.9" fill="none" stroke="#1a1a1a" stroke-width="1.3"/>
<text x="62.4" y="252.95" font-size="11.5" text-anchor="end" fill="#111">B7-H3</text>
<rect x="63.7" y="258.5" width="118" height="14.6" fill="#f2f2f2"/>
<rect x="68.25" y="263.55" width="15.5" height="2.5" rx="1.25" fill="#bababa" filter="url(#bl)"/>
<rect x="90.45" y="263.8" width="17.5" height="6" rx="3" fill="#0c0c0c" filter="url(#bl)"/>
<rect x="113.45" y="264.05" width="17.5" height="5.5" rx="2.75" fill="#0c0c0c" filter="url(#bl)"/>
<rect x="136.45" y="264.05" width="17.5" height="5.5" rx="2.75" fill="#0c0c0c" filter="url(#bl)"/>
<rect x="160.25" y="264.8" width="17.5" height="4" rx="2" fill="#171717" filter="url(#bl)"/>
<rect x="63.7" y="258.5" width="118" height="14.6" fill="none" stroke="#1a1a1a" stroke-width="1.3"/>
<text x="62.4" y="269.9" font-size="11.5" text-anchor="end" fill="#111">ac-H3</text>
<rect x="63.7" y="275.5" width="118" height="14.8" fill="#f7f7f7"/>
<rect x="67.25" y="281.4" width="17.5" height="3" rx="1.5" fill="#2f2f2f" filter="url(#bl)"/>
<rect x="90.45" y="281.5" width="17.5" height="2.8" rx="1.4" fill="#525252" filter="url(#bl)"/>
<rect x="113.45" y="281.4" width="17.5" height="3" rx="1.5" fill="#3a3a3a" filter="url(#bl)"/>
<rect x="136.45" y="281.4" width="17.5" height="3" rx="1.5" fill="#2f2f2f" filter="url(#bl)"/>
<rect x="160.25" y="281.4" width="17.5" height="3" rx="1.5" fill="#3a3a3a" filter="url(#bl)"/>
<rect x="63.7" y="275.5" width="118" height="14.8" fill="none" stroke="#1a1a1a" stroke-width="1.3"/>
<text x="62.4" y="287" font-size="11.5" text-anchor="end" fill="#111">β-actin</text>
<rect x="63.7" y="295.3" width="118" height="14.9" fill="#f7f7f7"/>
<rect x="67.25" y="301" width="17.5" height="3.5" rx="1.75" fill="#171717" filter="url(#bl)"/>
<rect x="90.45" y="300.75" width="17.5" height="5" rx="2.5" fill="#0c0c0c" filter="url(#bl)"/>
<rect x="113.45" y="300.75" width="17.5" height="5" rx="2.5" fill="#0c0c0c" filter="url(#bl)"/>
<rect x="136.45" y="300.65" width="17.5" height="4.2" rx="2.1" fill="#0c0c0c" filter="url(#bl)"/>
<rect x="160.25" y="300.75" width="17.5" height="3" rx="1.5" fill="#232323" filter="url(#bl)"/>
<rect x="63.7" y="295.3" width="118" height="14.9" fill="none" stroke="#1a1a1a" stroke-width="1.3"/>
<text x="62.4" y="306.85" font-size="11.5" text-anchor="end" fill="#111">B7-H3</text>
<rect x="63.7" y="312.4" width="118" height="14.5" fill="#f2f2f2"/>
<rect x="67.25" y="317.15" width="17.5" height="3" rx="1.5" fill="#2f2f2f" filter="url(#bl)"/>
<rect x="90.45" y="317.15" width="17.5" height="6" rx="3" fill="#0c0c0c" filter="url(#bl)"/>
<rect x="113.45" y="317.65" width="17.5" height="5" rx="2.5" fill="#0c0c0c" filter="url(#bl)"/>
<rect x="136.45" y="317.65" width="17.5" height="5" rx="2.5" fill="#0c0c0c" filter="url(#bl)"/>
<rect x="160.25" y="318.35" width="17.5" height="2.6" rx="1.3" fill="#747474" filter="url(#bl)"/>
<rect x="63.7" y="312.4" width="118" height="14.5" fill="none" stroke="#1a1a1a" stroke-width="1.3"/>
<text x="62.4" y="323.75" font-size="11.5" text-anchor="end" fill="#111">ac-H3</text>
<rect x="63.7" y="329.6" width="118" height="14.7" fill="#f7f7f7"/>
<rect x="67.25" y="335.65" width="17.5" height="2.6" rx="1.3" fill="#3a3a3a" filter="url(#bl)"/>
<rect x="90.45" y="335.55" width="17.5" height="2.8" rx="1.4" fill="#232323" filter="url(#bl)"/>
<rect x="113.45" y="335.65" width="17.5" height="2.6" rx="1.3" fill="#464646" filter="url(#bl)"/>
<rect x="136.45" y="335.55" width="17.5" height="2.8" rx="1.4" fill="#2f2f2f" filter="url(#bl)"/>
<rect x="160.25" y="335.45" width="17.5" height="3" rx="1.5" fill="#2f2f2f" filter="url(#bl)"/>
<rect x="63.7" y="329.6" width="118" height="14.7" fill="none" stroke="#1a1a1a" stroke-width="1.3"/>
<text x="62.4" y="341.05" font-size="11.5" text-anchor="end" fill="#111">β-actin</text>
<text x="144" y="198.2" font-size="9.3" text-anchor="middle" fill="#111">SAHA</text>
<line x1="92.2" y1="200.5" x2="195.7" y2="200.5" stroke="#222" stroke-width="1"/>
<text x="68.1" y="229.2" font-size="7.6" fill="#111">mock</text>
<text transform="translate(98.7,239) rotate(-43)" font-size="7.6" fill="#111">0.5µM/5d</text>
<text transform="translate(119.3,239.5) rotate(-43)" font-size="7.6" fill="#111">0.5µM/10d</text>
<text transform="translate(139.9,230.8) rotate(-43)" font-size="7.6" fill="#111">0.5µM/5d+</text>
<text transform="translate(142.9,239.5) rotate(-43)" font-size="7.6" fill="#111">Withdraw/7d</text>
<text transform="translate(166.3,230.5) rotate(-43)" font-size="7.6" fill="#111">0.5µM/5d+</text>
<text transform="translate(169.3,239.5) rotate(-43)" font-size="7.6" fill="#111">Withdraw/14d</text>
<line x1="184.5" y1="241.4" x2="184.5" y2="290.3" stroke="#333" stroke-width="1.4"/>
<line x1="184.5" y1="295.3" x2="184.5" y2="344.3" stroke="#333" stroke-width="1.4"/>
<rect x="201.2" y="241.4" width="118" height="14.9" fill="#f7f7f7"/>
<rect x="204.75" y="245.35" width="17.5" height="3" rx="1.5" fill="#2f2f2f" filter="url(#bl)"/>
<rect x="227.95" y="245.35" width="17.5" height="5" rx="2.5" fill="#0c0c0c" filter="url(#bl)"/>
<rect x="250.95" y="245.35" width="17.5" height="5" rx="2.5" fill="#0c0c0c" filter="url(#bl)"/>
<rect x="273.95" y="245.35" width="17.5" height="5" rx="2.5" fill="#0c0c0c" filter="url(#bl)"/>
<rect x="297.75" y="246.35" width="17.5" height="4" rx="2" fill="#171717" filter="url(#bl)"/>
<rect x="201.2" y="241.4" width="118" height="14.9" fill="none" stroke="#1a1a1a" stroke-width="1.3"/>
<rect x="201.2" y="258.5" width="118" height="14.6" fill="#f2f2f2"/>
<rect x="205.75" y="263.55" width="15.5" height="2.5" rx="1.25" fill="#afafaf" filter="url(#bl)"/>
<rect x="227.95" y="263.55" width="17.5" height="4.5" rx="2.25" fill="#0c0c0c" filter="url(#bl)"/>
<rect x="250.95" y="263.05" width="17.5" height="5.5" rx="2.75" fill="#0c0c0c" filter="url(#bl)"/>
<rect x="273.95" y="263.3" width="17.5" height="5" rx="2.5" fill="#0c0c0c" filter="url(#bl)"/>
<rect x="298.75" y="264.05" width="15.5" height="2.5" rx="1.25" fill="#afafaf" filter="url(#bl)"/>
<rect x="201.2" y="258.5" width="118" height="14.6" fill="none" stroke="#1a1a1a" stroke-width="1.3"/>
<rect x="201.2" y="275.5" width="118" height="14.8" fill="#f7f7f7"/>
<rect x="204.75" y="280.9" width="17.5" height="3" rx="1.5" fill="#232323" filter="url(#bl)"/>
<rect x="227.95" y="280.9" width="17.5" height="3" rx="1.5" fill="#232323" filter="url(#bl)"/>
<rect x="250.95" y="280.9" width="17.5" height="3" rx="1.5" fill="#232323" filter="url(#bl)"/>
<rect x="273.95" y="280.9" width="17.5" height="3" rx="1.5" fill="#232323" filter="url(#bl)"/>
<rect x="297.75" y="281.8" width="17.5" height="3.2" rx="1.6" fill="#171717" filter="url(#bl)"/>
<rect x="201.2" y="275.5" width="118" height="14.8" fill="none" stroke="#1a1a1a" stroke-width="1.3"/>
<rect x="201.2" y="295.3" width="118" height="14.9" fill="#f7f7f7"/>
<rect x="204.75" y="301.25" width="17.5" height="3" rx="1.5" fill="#232323" filter="url(#bl)"/>
<rect x="227.95" y="300.5" width="17.5" height="4.5" rx="2.25" fill="#0c0c0c" filter="url(#bl)"/>
<rect x="250.95" y="300.5" width="17.5" height="4.5" rx="2.25" fill="#0c0c0c" filter="url(#bl)"/>
<rect x="273.95" y="300.15" width="17.5" height="4.2" rx="2.1" fill="#0c0c0c" filter="url(#bl)"/>
<rect x="297.75" y="300.25" width="17.5" height="3" rx="1.5" fill="#232323" filter="url(#bl)"/>
<rect x="201.2" y="295.3" width="118" height="14.9" fill="none" stroke="#1a1a1a" stroke-width="1.3"/>
<rect x="201.2" y="312.4" width="118" height="14.5" fill="#f2f2f2"/>
<rect x="204.75" y="316.65" width="17.5" height="3" rx="1.5" fill="#2f2f2f" filter="url(#bl)"/>
<rect x="227.95" y="317.15" width="17.5" height="6" rx="3" fill="#0c0c0c" filter="url(#bl)"/>
<rect x="250.95" y="317.15" width="17.5" height="6" rx="3" fill="#0c0c0c" filter="url(#bl)"/>
<rect x="273.95" y="317.15" width="17.5" height="5" rx="2.5" fill="#0c0c0c" filter="url(#bl)"/>
<rect x="297.75" y="318.15" width="17.5" height="3" rx="1.5" fill="#232323" filter="url(#bl)"/>
<rect x="201.2" y="312.4" width="118" height="14.5" fill="none" stroke="#1a1a1a" stroke-width="1.3"/>
<rect x="201.2" y="329.6" width="118" height="14.7" fill="#f7f7f7"/>
<rect x="204.75" y="335.45" width="17.5" height="3" rx="1.5" fill="#232323" filter="url(#bl)"/>
<rect x="227.95" y="335.45" width="17.5" height="3" rx="1.5" fill="#232323" filter="url(#bl)"/>
<rect x="250.95" y="335.45" width="17.5" height="3" rx="1.5" fill="#232323" filter="url(#bl)"/>
<rect x="273.95" y="335.45" width="17.5" height="3" rx="1.5" fill="#232323" filter="url(#bl)"/>
<rect x="297.75" y="335.35" width="17.5" height="3.2" rx="1.6" fill="#232323" filter="url(#bl)"/>
<rect x="201.2" y="329.6" width="118" height="14.7" fill="none" stroke="#1a1a1a" stroke-width="1.3"/>
<text x="281.5" y="198.2" font-size="9.3" text-anchor="middle" fill="#111">SAHA</text>
<line x1="229.7" y1="200.5" x2="333.2" y2="200.5" stroke="#222" stroke-width="1"/>
<text x="205.6" y="229.2" font-size="7.6" fill="#111">mock</text>
<text transform="translate(236.2,239) rotate(-43)" font-size="7.6" fill="#111">0.5µM/5d</text>
<text transform="translate(256.8,239.5) rotate(-43)" font-size="7.6" fill="#111">0.5µM/10d</text>
<text transform="translate(277.4,230.8) rotate(-43)" font-size="7.6" fill="#111">0.5µM/5d+</text>
<text transform="translate(280.4,239.5) rotate(-43)" font-size="7.6" fill="#111">Withdraw/7d</text>
<text transform="translate(303.8,230.5) rotate(-43)" font-size="7.6" fill="#111">0.5µM/5d+</text>
<text transform="translate(306.8,239.5) rotate(-43)" font-size="7.6" fill="#111">Withdraw/14d</text>
<line x1="322" y1="241.4" x2="322" y2="290.3" stroke="#333" stroke-width="1.4"/>
<line x1="322" y1="295.3" x2="322" y2="344.3" stroke="#333" stroke-width="1.4"/>
<rect x="338.4" y="241.4" width="118" height="14.9" fill="#f7f7f7"/>
<rect x="341.95" y="245.6" width="17.5" height="2.5" rx="1.25" fill="#464646" filter="url(#bl)"/>
<rect x="365.15" y="245.35" width="17.5" height="5" rx="2.5" fill="#0c0c0c" filter="url(#bl)"/>
<rect x="388.15" y="245.6" width="17.5" height="4.5" rx="2.25" fill="#0c0c0c" filter="url(#bl)"/>
<rect x="411.15" y="245.6" width="17.5" height="4.5" rx="2.25" fill="#0c0c0c" filter="url(#bl)"/>
<rect x="434.95" y="246.6" width="17.5" height="3.5" rx="1.75" fill="#171717" filter="url(#bl)"/>
<rect x="338.4" y="241.4" width="118" height="14.9" fill="none" stroke="#1a1a1a" stroke-width="1.3"/>
<rect x="338.4" y="258.5" width="118" height="14.6" fill="#f2f2f2"/>
<rect x="342.95" y="263.55" width="15.5" height="2.5" rx="1.25" fill="#8c8c8c" filter="url(#bl)"/>
<rect x="365.15" y="263.05" width="17.5" height="6.5" rx="3" fill="#0c0c0c" filter="url(#bl)"/>
<rect x="388.15" y="263.05" width="17.5" height="6.5" rx="3" fill="#0c0c0c" filter="url(#bl)"/>
<rect x="411.15" y="263.05" width="17.5" height="5.5" rx="2.75" fill="#0c0c0c" filter="url(#bl)"/>
<rect x="435.95" y="263.65" width="15.5" height="2.3" rx="1.15" fill="#a3a3a3" filter="url(#bl)"/>
<rect x="338.4" y="258.5" width="118" height="14.6" fill="none" stroke="#1a1a1a" stroke-width="1.3"/>
<rect x="338.4" y="275.5" width="118" height="14.8" fill="#f7f7f7"/>
<rect x="341.95" y="282.65" width="17.5" height="2.5" rx="1.25" fill="#2f2f2f" filter="url(#bl)"/>
<rect x="365.15" y="281.65" width="17.5" height="2.5" rx="1.25" fill="#3a3a3a" filter="url(#bl)"/>
<rect x="388.15" y="281.15" width="17.5" height="2.5" rx="1.25" fill="#3a3a3a" filter="url(#bl)"/>
<rect x="411.15" y="281.15" width="17.5" height="2.5" rx="1.25" fill="#3a3a3a" filter="url(#bl)"/>
<rect x="434.95" y="281.15" width="17.5" height="2.5" rx="1.25" fill="#2f2f2f" filter="url(#bl)"/>
<rect x="338.4" y="275.5" width="118" height="14.8" fill="none" stroke="#1a1a1a" stroke-width="1.3"/>
<rect x="338.4" y="295.3" width="118" height="14.9" fill="#f7f7f7"/>
<rect x="341.95" y="301" width="17.5" height="3.5" rx="1.75" fill="#0c0c0c" filter="url(#bl)"/>
<rect x="365.15" y="300.5" width="17.5" height="4.5" rx="2.25" fill="#0c0c0c" filter="url(#bl)"/>
<rect x="388.15" y="300.65" width="17.5" height="4.2" rx="2.1" fill="#0c0c0c" filter="url(#bl)"/>
<rect x="411.15" y="300.5" width="17.5" height="4.5" rx="2.25" fill="#0c0c0c" filter="url(#bl)"/>
<rect x="434.95" y="301" width="17.5" height="4.5" rx="2.25" fill="#0c0c0c" filter="url(#bl)"/>
<rect x="338.4" y="295.3" width="118" height="14.9" fill="none" stroke="#1a1a1a" stroke-width="1.3"/>
<rect x="338.4" y="312.4" width="118" height="14.5" fill="#f2f2f2"/>
<rect x="342.95" y="316.9" width="15.5" height="1.5" rx="0.75" fill="#d2d2d2" filter="url(#bl)"/>
<rect x="365.15" y="316.65" width="17.5" height="4" rx="2" fill="#0c0c0c" filter="url(#bl)"/>
<rect x="388.15" y="316.9" width="17.5" height="4.5" rx="2.25" fill="#0c0c0c" filter="url(#bl)"/>
<rect x="411.15" y="316.9" width="17.5" height="4.5" rx="2.25" fill="#0c0c0c" filter="url(#bl)"/>
<rect x="434.95" y="317.9" width="17.5" height="2.5" rx="1.25" fill="#696969" filter="url(#bl)"/>
<rect x="338.4" y="312.4" width="118" height="14.5" fill="none" stroke="#1a1a1a" stroke-width="1.3"/>
<rect x="338.4" y="329.6" width="118" height="14.7" fill="#f7f7f7"/>
<rect x="341.95" y="335.45" width="17.5" height="4" rx="2" fill="#0c0c0c" filter="url(#bl)"/>
<rect x="365.15" y="335.45" width="17.5" height="4" rx="2" fill="#0c0c0c" filter="url(#bl)"/>
<rect x="388.15" y="335.7" width="17.5" height="3.5" rx="1.75" fill="#0c0c0c" filter="url(#bl)"/>
<rect x="411.15" y="335.7" width="17.5" height="3.5" rx="1.75" fill="#0c0c0c" filter="url(#bl)"/>
<rect x="434.95" y="335.95" width="17.5" height="4" rx="2" fill="#0c0c0c" filter="url(#bl)"/>
<rect x="338.4" y="329.6" width="118" height="14.7" fill="none" stroke="#1a1a1a" stroke-width="1.3"/>
<text x="418.7" y="198.2" font-size="9.3" text-anchor="middle" fill="#111">SAHA</text>
<line x1="366.9" y1="200.5" x2="470.4" y2="200.5" stroke="#222" stroke-width="1"/>
<text x="342.8" y="229.2" font-size="7.6" fill="#111">mock</text>
<text transform="translate(373.4,239) rotate(-43)" font-size="7.6" fill="#111">0.5µM/5d</text>
<text transform="translate(394,239.5) rotate(-43)" font-size="7.6" fill="#111">0.5µM/10d</text>
<text transform="translate(414.6,230.8) rotate(-43)" font-size="7.6" fill="#111">0.5µM/5d+</text>
<text transform="translate(417.6,239.5) rotate(-43)" font-size="7.6" fill="#111">Withdraw/7d</text>
<text transform="translate(441,230.5) rotate(-43)" font-size="7.6" fill="#111">0.5µM/5d+</text>
<text transform="translate(444,239.5) rotate(-43)" font-size="7.6" fill="#111">Withdraw/14d</text>
<line x1="459.2" y1="241.4" x2="459.2" y2="290.3" stroke="#333" stroke-width="1.4"/>
<line x1="459.2" y1="295.3" x2="459.2" y2="344.3" stroke="#333" stroke-width="1.4"/>
<text transform="translate(194.7,266) rotate(-90)" font-size="9.2" text-anchor="middle" fill="#111">SUM149</text>
<text transform="translate(194.7,320) rotate(-90)" font-size="9.2" text-anchor="middle" fill="#111">SCC-9</text>
<text transform="translate(332.2,266) rotate(-90)" font-size="9.2" text-anchor="middle" fill="#111">TNBC-S3</text>
<text transform="translate(332.2,320) rotate(-90)" font-size="9.2" text-anchor="middle" fill="#111">HNSCC-Y2</text>
<text transform="translate(469.4,266) rotate(-90)" font-size="9.2" text-anchor="middle" fill="#111">A549</text>
<text transform="translate(469.4,320) rotate(-90)" font-size="9.2" text-anchor="middle" fill="#111">M21</text>
<text x="492.6" y="227.3" font-size="10" text-anchor="middle" fill="#111">MW</text>
<text x="492.4" y="238" font-size="9.6" text-anchor="middle" fill="#111">(kDa)</text>
<line x1="473.9" y1="247.5" x2="478.6" y2="247.5" stroke="#222" stroke-width="1.1"/>
<text x="480" y="251.1" font-size="10" fill="#111">90</text>
<line x1="473.9" y1="265.6" x2="478.6" y2="265.6" stroke="#222" stroke-width="1.1"/>
<text x="480" y="269.2" font-size="10" fill="#111">17</text>
<line x1="473.9" y1="283" x2="478.6" y2="283" stroke="#222" stroke-width="1.1"/>
<text x="480" y="286.6" font-size="10" fill="#111">43</text>
<line x1="473.9" y1="301" x2="478.6" y2="301" stroke="#222" stroke-width="1.1"/>
<text x="480" y="304.6" font-size="10" fill="#111">90</text>
<line x1="473.9" y1="319" x2="478.6" y2="319" stroke="#222" stroke-width="1.1"/>
<text x="480" y="322.6" font-size="10" fill="#111">17</text>
<line x1="473.9" y1="336.5" x2="478.6" y2="336.5" stroke="#222" stroke-width="1.1"/>
<text x="480" y="340.1" font-size="10" fill="#111">43</text>
<text x="0" y="368" font-size="16" font-weight="bold" fill="#000">D</text>
<text x="61.25" y="371" font-size="10" text-anchor="middle" fill="#111">SUM149</text>
<rect x="32.2" y="427.84" width="7.6" height="34.46" fill="#c400c4"/>
<line x1="36" y1="462.3" x2="36" y2="464.7" stroke="#111" stroke-width="1.2"/>
<rect x="45.1" y="405.34" width="7.6" height="56.96" fill="#c400c4"/>
<line x1="48.9" y1="405.34" x2="48.9" y2="400.92" stroke="#111" stroke-width="1.4"/>
<line x1="46.7" y1="400.92" x2="51.1" y2="400.92" stroke="#111" stroke-width="1.5"/>
<text x="48.9" y="401.32" font-size="11" text-anchor="middle" fill="#111">**</text>
<line x1="48.9" y1="462.3" x2="48.9" y2="464.7" stroke="#111" stroke-width="1.2"/>
<rect x="58.6" y="399.01" width="7.6" height="63.29" fill="#c400c4"/>
<line x1="62.4" y1="399.01" x2="62.4" y2="392.83" stroke="#111" stroke-width="1.4"/>
<line x1="60.2" y1="392.83" x2="64.6" y2="392.83" stroke="#111" stroke-width="1.5"/>
<text x="62.4" y="393.23" font-size="11" text-anchor="middle" fill="#111">**</text>
<line x1="62.4" y1="462.3" x2="62.4" y2="464.7" stroke="#111" stroke-width="1.2"/>
<rect x="71.9" y="412.02" width="7.6" height="50.28" fill="#c400c4"/>
<line x1="75.7" y1="412.02" x2="75.7" y2="410.06" stroke="#111" stroke-width="1.4"/>
<line x1="73.5" y1="410.06" x2="77.9" y2="410.06" stroke="#111" stroke-width="1.5"/>
<text x="75.7" y="410.46" font-size="11" text-anchor="middle" fill="#111">*</text>
<line x1="75.7" y1="462.3" x2="75.7" y2="464.7" stroke="#111" stroke-width="1.2"/>
<rect x="84.8" y="424.33" width="7.6" height="37.97" fill="#c400c4"/>
<line x1="88.6" y1="424.33" x2="88.6" y2="421.31" stroke="#111" stroke-width="1.4"/>
<line x1="86.4" y1="421.31" x2="90.8" y2="421.31" stroke="#111" stroke-width="1.5"/>
<line x1="88.6" y1="462.3" x2="88.6" y2="464.7" stroke="#111" stroke-width="1.2"/>
<line x1="27.3" y1="373.8" x2="27.3" y2="463" stroke="#111" stroke-width="1.5"/>
<line x1="26.6" y1="462.3" x2="98.1" y2="462.3" stroke="#111" stroke-width="1.5"/>
<line x1="24.9" y1="462.3" x2="27.3" y2="462.3" stroke="#111" stroke-width="1.2"/>
<text x="24.3" y="465.1" font-size="8" text-anchor="end" font-weight="bold" fill="#111">0.0</text>
<line x1="24.9" y1="444.72" x2="27.3" y2="444.72" stroke="#111" stroke-width="1.2"/>
<text x="24.3" y="447.52" font-size="8" text-anchor="end" font-weight="bold" fill="#111">0.5</text>
<line x1="24.9" y1="427.14" x2="27.3" y2="427.14" stroke="#111" stroke-width="1.2"/>
<text x="24.3" y="429.94" font-size="8" text-anchor="end" font-weight="bold" fill="#111">1.0</text>
<line x1="24.9" y1="409.56" x2="27.3" y2="409.56" stroke="#111" stroke-width="1.2"/>
<text x="24.3" y="412.36" font-size="8" text-anchor="end" font-weight="bold" fill="#111">1.5</text>
<line x1="24.9" y1="391.98" x2="27.3" y2="391.98" stroke="#111" stroke-width="1.2"/>
<text x="24.3" y="394.78" font-size="8" text-anchor="end" font-weight="bold" fill="#111">2.0</text>
<line x1="24.9" y1="374.4" x2="27.3" y2="374.4" stroke="#111" stroke-width="1.2"/>
<text x="24.3" y="377.2" font-size="8" text-anchor="end" font-weight="bold" fill="#111">2.5</text>
<text transform="translate(39.3,472.1) rotate(-45)" font-size="6.6" text-anchor="end" fill="#111">mock</text>
<text transform="translate(54,472) rotate(-45)" font-size="6.6" text-anchor="end" fill="#111">0.5µM/5d</text>
<text transform="translate(67.9,472.3) rotate(-45)" font-size="6.6" text-anchor="end" fill="#111">0.5µM/10d</text>
<text transform="translate(80.75,471.2) rotate(-45)" font-size="6.6" text-anchor="end" fill="#111">0.5µM/5d+</text>
<text transform="translate(86.35,474.9) rotate(-45)" font-size="6.6" text-anchor="end" fill="#111">Withdraw/7d</text>
<text transform="translate(99.05,471.8) rotate(-45)" font-size="6.6" text-anchor="end" fill="#111">0.5µM/5d+</text>
<text transform="translate(107.05,474.1) rotate(-45)" font-size="6.6" text-anchor="end" fill="#111">Withdraw/14d</text>
<line x1="35.9" y1="503.3" x2="97.5" y2="503.3" stroke="#111" stroke-width="1.1"/>
<text x="65.9" y="512.3" font-size="10" text-anchor="middle" fill="#111">SAHA</text>
<text x="145.75" y="371" font-size="10" text-anchor="middle" fill="#111">TNBC-S3</text>
<rect x="115.6" y="433.81" width="7.6" height="28.49" fill="#ff8808"/>
<line x1="119.4" y1="462.3" x2="119.4" y2="464.7" stroke="#111" stroke-width="1.2"/>
<rect x="128.9" y="398.93" width="7.6" height="63.37" fill="#ff8808"/>
<line x1="132.7" y1="398.93" x2="132.7" y2="395.37" stroke="#111" stroke-width="1.4"/>
<line x1="130.5" y1="395.37" x2="134.9" y2="395.37" stroke="#111" stroke-width="1.5"/>
<text x="132.7" y="395.77" font-size="11" text-anchor="middle" fill="#111">**</text>
<line x1="132.7" y1="462.3" x2="132.7" y2="464.7" stroke="#111" stroke-width="1.2"/>
<rect x="142.4" y="396.32" width="7.6" height="65.98" fill="#ff8808"/>
<line x1="146.2" y1="396.32" x2="146.2" y2="391.59" stroke="#111" stroke-width="1.4"/>
<line x1="144" y1="391.59" x2="148.4" y2="391.59" stroke="#111" stroke-width="1.5"/>
<text x="146.2" y="391.99" font-size="11" text-anchor="middle" fill="#111">**</text>
<line x1="146.2" y1="462.3" x2="146.2" y2="464.7" stroke="#111" stroke-width="1.2"/>
<rect x="155.9" y="404.17" width="7.6" height="58.13" fill="#ff8808"/>
<line x1="159.7" y1="404.17" x2="159.7" y2="400.6" stroke="#111" stroke-width="1.4"/>
<line x1="157.5" y1="400.6" x2="161.9" y2="400.6" stroke="#111" stroke-width="1.5"/>
<text x="159.7" y="401" font-size="11" text-anchor="middle" fill="#111">**</text>
<line x1="159.7" y1="462.3" x2="159.7" y2="464.7" stroke="#111" stroke-width="1.2"/>
<rect x="169.2" y="433.81" width="7.6" height="28.49" fill="#ff8808"/>
<line x1="173" y1="433.81" x2="173" y2="431.99" stroke="#111" stroke-width="1.4"/>
<line x1="170.8" y1="431.99" x2="175.2" y2="431.99" stroke="#111" stroke-width="1.5"/>
<line x1="173" y1="462.3" x2="173" y2="464.7" stroke="#111" stroke-width="1.2"/>
<line x1="109.9" y1="374.5" x2="109.9" y2="463" stroke="#111" stroke-width="1.5"/>
<line x1="109.2" y1="462.3" x2="182.7" y2="462.3" stroke="#111" stroke-width="1.5"/>
<line x1="107.5" y1="462.3" x2="109.9" y2="462.3" stroke="#111" stroke-width="1.2"/>
<text x="106.9" y="465.1" font-size="8" text-anchor="end" font-weight="bold" fill="#111">0</text>
<line x1="107.5" y1="433.23" x2="109.9" y2="433.23" stroke="#111" stroke-width="1.2"/>
<text x="106.9" y="436.03" font-size="8" text-anchor="end" font-weight="bold" fill="#111">1</text>
<line x1="107.5" y1="404.17" x2="109.9" y2="404.17" stroke="#111" stroke-width="1.2"/>
<text x="106.9" y="406.97" font-size="8" text-anchor="end" font-weight="bold" fill="#111">2</text>
<line x1="107.5" y1="375.1" x2="109.9" y2="375.1" stroke="#111" stroke-width="1.2"/>
<text x="106.9" y="377.9" font-size="8" text-anchor="end" font-weight="bold" fill="#111">3</text>
<text transform="translate(120.5,472.1) rotate(-45)" font-size="6.6" text-anchor="end" fill="#111">mock</text>
<text transform="translate(135.2,472) rotate(-45)" font-size="6.6" text-anchor="end" fill="#111">0.5µM/5d</text>
<text transform="translate(149.1,472.3) rotate(-45)" font-size="6.6" text-anchor="end" fill="#111">0.5µM/10d</text>
<text transform="translate(161.95,471.2) rotate(-45)" font-size="6.6" text-anchor="end" fill="#111">0.5µM/5d+</text>
<text transform="translate(167.55,474.9) rotate(-45)" font-size="6.6" text-anchor="end" fill="#111">Withdraw/7d</text>
<text transform="translate(180.25,471.8) rotate(-45)" font-size="6.6" text-anchor="end" fill="#111">0.5µM/5d+</text>
<text transform="translate(188.25,474.1) rotate(-45)" font-size="6.6" text-anchor="end" fill="#111">Withdraw/14d</text>
<line x1="117.1" y1="503.3" x2="178.7" y2="503.3" stroke="#111" stroke-width="1.1"/>
<text x="147.1" y="512.3" font-size="10" text-anchor="middle" fill="#111">SAHA</text>
<text x="235" y="371" font-size="10" text-anchor="middle" fill="#111">A549</text>
<rect x="204.3" y="440.91" width="7.8" height="21.39" fill="#46ecb2"/>
<line x1="208.2" y1="462.3" x2="208.2" y2="464.7" stroke="#111" stroke-width="1.2"/>
<rect x="217.9" y="399.02" width="7.8" height="63.28" fill="#46ecb2"/>
<line x1="221.8" y1="399.02" x2="221.8" y2="394" stroke="#111" stroke-width="1.4"/>
<line x1="219.6" y1="394" x2="224" y2="394" stroke="#111" stroke-width="1.5"/>
<text x="221.8" y="394.4" font-size="11" text-anchor="middle" fill="#111">**</text>
<line x1="221.8" y1="462.3" x2="221.8" y2="464.7" stroke="#111" stroke-width="1.2"/>
<rect x="231.6" y="396.81" width="7.8" height="65.49" fill="#46ecb2"/>
<line x1="235.5" y1="396.81" x2="235.5" y2="391.14" stroke="#111" stroke-width="1.4"/>
<line x1="233.3" y1="391.14" x2="237.7" y2="391.14" stroke="#111" stroke-width="1.5"/>
<text x="235.5" y="391.54" font-size="11" text-anchor="middle" fill="#111">**</text>
<line x1="235.5" y1="462.3" x2="235.5" y2="464.7" stroke="#111" stroke-width="1.2"/>
<rect x="245.1" y="403.43" width="7.8" height="58.87" fill="#46ecb2"/>
<line x1="249" y1="403.43" x2="249" y2="398.63" stroke="#111" stroke-width="1.4"/>
<line x1="246.8" y1="398.63" x2="251.2" y2="398.63" stroke="#111" stroke-width="1.5"/>
<text x="249" y="399.03" font-size="11" text-anchor="middle" fill="#111">**</text>
<line x1="249" y1="462.3" x2="249" y2="464.7" stroke="#111" stroke-width="1.2"/>
<rect x="258.8" y="438.93" width="7.8" height="23.37" fill="#46ecb2"/>
<line x1="262.7" y1="438.93" x2="262.7" y2="438.1" stroke="#111" stroke-width="1.4"/>
<line x1="260.5" y1="438.1" x2="264.9" y2="438.1" stroke="#111" stroke-width="1.5"/>
<line x1="262.7" y1="462.3" x2="262.7" y2="464.7" stroke="#111" stroke-width="1.2"/>
<line x1="199.1" y1="373.5" x2="199.1" y2="463" stroke="#111" stroke-width="1.5"/>
<line x1="198.4" y1="462.3" x2="271.6" y2="462.3" stroke="#111" stroke-width="1.5"/>
<line x1="196.7" y1="462.3" x2="199.1" y2="462.3" stroke="#111" stroke-width="1.2"/>
<text x="196.1" y="465.1" font-size="8" text-anchor="end" font-weight="bold" fill="#111">0</text>
<line x1="196.7" y1="440.25" x2="199.1" y2="440.25" stroke="#111" stroke-width="1.2"/>
<text x="196.1" y="443.05" font-size="8" text-anchor="end" font-weight="bold" fill="#111">1</text>
<line x1="196.7" y1="418.2" x2="199.1" y2="418.2" stroke="#111" stroke-width="1.2"/>
<text x="196.1" y="421" font-size="8" text-anchor="end" font-weight="bold" fill="#111">2</text>
<line x1="196.7" y1="396.15" x2="199.1" y2="396.15" stroke="#111" stroke-width="1.2"/>
<text x="196.1" y="398.95" font-size="8" text-anchor="end" font-weight="bold" fill="#111">3</text>
<line x1="196.7" y1="374.1" x2="199.1" y2="374.1" stroke="#111" stroke-width="1.2"/>
<text x="196.1" y="376.9" font-size="8" text-anchor="end" font-weight="bold" fill="#111">4</text>
<text transform="translate(207.5,472.1) rotate(-45)" font-size="6.6" text-anchor="end" fill="#111">mock</text>
<text transform="translate(222.2,472) rotate(-45)" font-size="6.6" text-anchor="end" fill="#111">0.5µM/5d</text>
<text transform="translate(236.1,472.3) rotate(-45)" font-size="6.6" text-anchor="end" fill="#111">0.5µM/10d</text>
<text transform="translate(248.95,471.2) rotate(-45)" font-size="6.6" text-anchor="end" fill="#111">0.5µM/5d+</text>
<text transform="translate(254.55,474.9) rotate(-45)" font-size="6.6" text-anchor="end" fill="#111">Withdraw/7d</text>
<text transform="translate(267.25,471.8) rotate(-45)" font-size="6.6" text-anchor="end" fill="#111">0.5µM/5d+</text>
<text transform="translate(275.25,474.1) rotate(-45)" font-size="6.6" text-anchor="end" fill="#111">Withdraw/14d</text>
<line x1="204.1" y1="503.3" x2="265.7" y2="503.3" stroke="#111" stroke-width="1.1"/>
<text x="234.1" y="512.3" font-size="10" text-anchor="middle" fill="#111">SAHA</text>
<text x="323.75" y="371" font-size="10" text-anchor="middle" fill="#111">SCC-9</text>
<rect x="293.2" y="428.12" width="7.7" height="34.18" fill="#0000ee"/>
<line x1="297.05" y1="462.3" x2="297.05" y2="464.7" stroke="#111" stroke-width="1.2"/>
<rect x="306.8" y="393.59" width="7.7" height="68.71" fill="#0000ee"/>
<line x1="310.65" y1="393.59" x2="310.65" y2="388.85" stroke="#111" stroke-width="1.4"/>
<line x1="308.45" y1="388.85" x2="312.85" y2="388.85" stroke="#111" stroke-width="1.5"/>
<text x="310.65" y="389.25" font-size="11" text-anchor="middle" fill="#111">**</text>
<line x1="310.65" y1="462.3" x2="310.65" y2="464.7" stroke="#111" stroke-width="1.2"/>
<rect x="320.1" y="390.1" width="7.7" height="72.2" fill="#0000ee"/>
<line x1="323.95" y1="390.1" x2="323.95" y2="385.37" stroke="#111" stroke-width="1.4"/>
<line x1="321.75" y1="385.37" x2="326.15" y2="385.37" stroke="#111" stroke-width="1.5"/>
<text x="323.95" y="385.77" font-size="11" text-anchor="middle" fill="#111">**</text>
<line x1="323.95" y1="462.3" x2="323.95" y2="464.7" stroke="#111" stroke-width="1.2"/>
<rect x="333.7" y="399.17" width="7.7" height="63.13" fill="#0000ee"/>
<line x1="337.55" y1="399.17" x2="337.55" y2="395.48" stroke="#111" stroke-width="1.4"/>
<line x1="335.35" y1="395.48" x2="339.75" y2="395.48" stroke="#111" stroke-width="1.5"/>
<text x="337.55" y="395.88" font-size="11" text-anchor="middle" fill="#111">**</text>
<line x1="337.55" y1="462.3" x2="337.55" y2="464.7" stroke="#111" stroke-width="1.2"/>
<rect x="347.2" y="426.02" width="7.7" height="36.28" fill="#0000ee"/>
<line x1="351.05" y1="426.02" x2="351.05" y2="424.78" stroke="#111" stroke-width="1.4"/>
<line x1="348.85" y1="424.78" x2="353.25" y2="424.78" stroke="#111" stroke-width="1.5"/>
<line x1="351.05" y1="462.3" x2="351.05" y2="464.7" stroke="#111" stroke-width="1.2"/>
<line x1="287.4" y1="374.5" x2="287.4" y2="463" stroke="#111" stroke-width="1.5"/>
<line x1="286.7" y1="462.3" x2="360.6" y2="462.3" stroke="#111" stroke-width="1.5"/>
<line x1="285" y1="462.3" x2="287.4" y2="462.3" stroke="#111" stroke-width="1.2"/>
<text x="284.4" y="465.1" font-size="8" text-anchor="end" font-weight="bold" fill="#111">0.0</text>
<line x1="285" y1="444.86" x2="287.4" y2="444.86" stroke="#111" stroke-width="1.2"/>
<text x="284.4" y="447.66" font-size="8" text-anchor="end" font-weight="bold" fill="#111">0.5</text>
<line x1="285" y1="427.42" x2="287.4" y2="427.42" stroke="#111" stroke-width="1.2"/>
<text x="284.4" y="430.22" font-size="8" text-anchor="end" font-weight="bold" fill="#111">1.0</text>
<line x1="285" y1="409.98" x2="287.4" y2="409.98" stroke="#111" stroke-width="1.2"/>
<text x="284.4" y="412.78" font-size="8" text-anchor="end" font-weight="bold" fill="#111">1.5</text>
<line x1="285" y1="392.54" x2="287.4" y2="392.54" stroke="#111" stroke-width="1.2"/>
<text x="284.4" y="395.34" font-size="8" text-anchor="end" font-weight="bold" fill="#111">2.0</text>
<line x1="285" y1="375.1" x2="287.4" y2="375.1" stroke="#111" stroke-width="1.2"/>
<text x="284.4" y="377.9" font-size="8" text-anchor="end" font-weight="bold" fill="#111">2.5</text>
<text transform="translate(295.8,472.1) rotate(-45)" font-size="6.6" text-anchor="end" fill="#111">mock</text>
<text transform="translate(310.5,472) rotate(-45)" font-size="6.6" text-anchor="end" fill="#111">0.5µM/5d</text>
<text transform="translate(324.4,472.3) rotate(-45)" font-size="6.6" text-anchor="end" fill="#111">0.5µM/10d</text>
<text transform="translate(337.25,471.2) rotate(-45)" font-size="6.6" text-anchor="end" fill="#111">0.5µM/5d+</text>
<text transform="translate(342.85,474.9) rotate(-45)" font-size="6.6" text-anchor="end" fill="#111">Withdraw/7d</text>
<text transform="translate(355.55,471.8) rotate(-45)" font-size="6.6" text-anchor="end" fill="#111">0.5µM/5d+</text>
<text transform="translate(363.55,474.1) rotate(-45)" font-size="6.6" text-anchor="end" fill="#111">Withdraw/14d</text>
<line x1="292.4" y1="503.3" x2="354" y2="503.3" stroke="#111" stroke-width="1.1"/>
<text x="322.4" y="512.3" font-size="10" text-anchor="middle" fill="#111">SAHA</text>
<text x="409.25" y="371" font-size="10" text-anchor="middle" fill="#111">HNSCC-Y2</text>
<rect x="382.4" y="441.42" width="8" height="20.88" fill="#ff0a0a"/>
<line x1="386.4" y1="462.3" x2="386.4" y2="464.7" stroke="#111" stroke-width="1.2"/>
<rect x="395.9" y="392.34" width="8" height="69.96" fill="#ff0a0a"/>
<line x1="399.9" y1="392.34" x2="399.9" y2="387.89" stroke="#111" stroke-width="1.4"/>
<line x1="397.7" y1="387.89" x2="402.1" y2="387.89" stroke="#111" stroke-width="1.5"/>
<text x="399.9" y="388.29" font-size="11" text-anchor="middle" fill="#111">**</text>
<line x1="399.9" y1="462.3" x2="399.9" y2="464.7" stroke="#111" stroke-width="1.2"/>
<rect x="409.6" y="389.12" width="8" height="73.19" fill="#ff0a0a"/>
<line x1="413.6" y1="389.12" x2="413.6" y2="385.31" stroke="#111" stroke-width="1.4"/>
<line x1="411.4" y1="385.31" x2="415.8" y2="385.31" stroke="#111" stroke-width="1.5"/>
<text x="413.6" y="385.71" font-size="11" text-anchor="middle" fill="#111">**</text>
<line x1="413.6" y1="462.3" x2="413.6" y2="464.7" stroke="#111" stroke-width="1.2"/>
<rect x="423.1" y="398.16" width="8" height="64.14" fill="#ff0a0a"/>
<line x1="427.1" y1="398.16" x2="427.1" y2="392.84" stroke="#111" stroke-width="1.4"/>
<line x1="424.9" y1="392.84" x2="429.3" y2="392.84" stroke="#111" stroke-width="1.5"/>
<text x="427.1" y="393.24" font-size="11" text-anchor="middle" fill="#111">**</text>
<line x1="427.1" y1="462.3" x2="427.1" y2="464.7" stroke="#111" stroke-width="1.2"/>
<rect x="436.8" y="441.42" width="8" height="20.88" fill="#ff0a0a"/>
<line x1="440.8" y1="441.42" x2="440.8" y2="439.12" stroke="#111" stroke-width="1.4"/>
<line x1="438.6" y1="439.12" x2="443" y2="439.12" stroke="#111" stroke-width="1.5"/>
<line x1="440.8" y1="462.3" x2="440.8" y2="464.7" stroke="#111" stroke-width="1.2"/>
<line x1="378.3" y1="375.6" x2="378.3" y2="463" stroke="#111" stroke-width="1.5"/>
<line x1="377.6" y1="462.3" x2="450.4" y2="462.3" stroke="#111" stroke-width="1.5"/>
<line x1="375.9" y1="462.3" x2="378.3" y2="462.3" stroke="#111" stroke-width="1.2"/>
<text x="375.3" y="465.1" font-size="8" text-anchor="end" font-weight="bold" fill="#111">0</text>
<line x1="375.9" y1="440.77" x2="378.3" y2="440.77" stroke="#111" stroke-width="1.2"/>
<text x="375.3" y="443.57" font-size="8" text-anchor="end" font-weight="bold" fill="#111">1</text>
<line x1="375.9" y1="419.25" x2="378.3" y2="419.25" stroke="#111" stroke-width="1.2"/>
<text x="375.3" y="422.05" font-size="8" text-anchor="end" font-weight="bold" fill="#111">2</text>
<line x1="375.9" y1="397.73" x2="378.3" y2="397.73" stroke="#111" stroke-width="1.2"/>
<text x="375.3" y="400.53" font-size="8" text-anchor="end" font-weight="bold" fill="#111">3</text>
<line x1="375.9" y1="376.2" x2="378.3" y2="376.2" stroke="#111" stroke-width="1.2"/>
<text x="375.3" y="379" font-size="8" text-anchor="end" font-weight="bold" fill="#111">4</text>
<text transform="translate(389.6,472.1) rotate(-45)" font-size="6.6" text-anchor="end" fill="#111">mock</text>
<text transform="translate(404.3,472) rotate(-45)" font-size="6.6" text-anchor="end" fill="#111">0.5µM/5d</text>
<text transform="translate(418.2,472.3) rotate(-45)" font-size="6.6" text-anchor="end" fill="#111">0.5µM/10d</text>
<text transform="translate(431.05,471.2) rotate(-45)" font-size="6.6" text-anchor="end" fill="#111">0.5µM/5d+</text>
<text transform="translate(436.65,474.9) rotate(-45)" font-size="6.6" text-anchor="end" fill="#111">Withdraw/7d</text>
<text transform="translate(449.35,471.8) rotate(-45)" font-size="6.6" text-anchor="end" fill="#111">0.5µM/5d+</text>
<text transform="translate(457.35,474.1) rotate(-45)" font-size="6.6" text-anchor="end" fill="#111">Withdraw/14d</text>
<line x1="386.2" y1="503.3" x2="447.8" y2="503.3" stroke="#111" stroke-width="1.1"/>
<text x="416.2" y="512.3" font-size="10" text-anchor="middle" fill="#111">SAHA</text>
<text x="502" y="371" font-size="10" text-anchor="middle" fill="#111">M21</text>
<rect x="471.2" y="433.88" width="7.6" height="28.42" fill="#d6d6d6"/>
<line x1="475" y1="462.3" x2="475" y2="464.7" stroke="#111" stroke-width="1.2"/>
<rect x="484.9" y="398.72" width="7.6" height="63.58" fill="#d6d6d6"/>
<line x1="488.7" y1="398.72" x2="488.7" y2="393.94" stroke="#111" stroke-width="1.4"/>
<line x1="486.5" y1="393.94" x2="490.9" y2="393.94" stroke="#111" stroke-width="1.5"/>
<text x="488.7" y="394.34" font-size="11" text-anchor="middle" fill="#111">**</text>
<line x1="488.7" y1="462.3" x2="488.7" y2="464.7" stroke="#111" stroke-width="1.2"/>
<rect x="498.4" y="394.91" width="7.6" height="67.39" fill="#d6d6d6"/>
<line x1="502.2" y1="394.91" x2="502.2" y2="391.89" stroke="#111" stroke-width="1.4"/>
<line x1="500" y1="391.89" x2="504.4" y2="391.89" stroke="#111" stroke-width="1.5"/>
<text x="502.2" y="392.29" font-size="11" text-anchor="middle" fill="#111">**</text>
<line x1="502.2" y1="462.3" x2="502.2" y2="464.7" stroke="#111" stroke-width="1.2"/>
<rect x="512.1" y="404.58" width="7.6" height="57.72" fill="#d6d6d6"/>
<line x1="515.9" y1="404.58" x2="515.9" y2="401.27" stroke="#111" stroke-width="1.4"/>
<line x1="513.7" y1="401.27" x2="518.1" y2="401.27" stroke="#111" stroke-width="1.5"/>
<text x="515.9" y="401.67" font-size="11" text-anchor="middle" fill="#111">**</text>
<line x1="515.9" y1="462.3" x2="515.9" y2="464.7" stroke="#111" stroke-width="1.2"/>
<rect x="525.6" y="433.88" width="7.6" height="28.42" fill="#d6d6d6"/>
<line x1="529.4" y1="433.88" x2="529.4" y2="430.57" stroke="#111" stroke-width="1.4"/>
<line x1="527.2" y1="430.57" x2="531.6" y2="430.57" stroke="#111" stroke-width="1.5"/>
<line x1="529.4" y1="462.3" x2="529.4" y2="464.7" stroke="#111" stroke-width="1.2"/>
<line x1="465.6" y1="373.8" x2="465.6" y2="463" stroke="#111" stroke-width="1.5"/>
<line x1="464.9" y1="462.3" x2="539.6" y2="462.3" stroke="#111" stroke-width="1.5"/>
<line x1="463.2" y1="462.3" x2="465.6" y2="462.3" stroke="#111" stroke-width="1.2"/>
<text x="462.6" y="465.1" font-size="8" text-anchor="end" font-weight="bold" fill="#111">0</text>
<line x1="463.2" y1="433" x2="465.6" y2="433" stroke="#111" stroke-width="1.2"/>
<text x="462.6" y="435.8" font-size="8" text-anchor="end" font-weight="bold" fill="#111">1</text>
<line x1="463.2" y1="403.7" x2="465.6" y2="403.7" stroke="#111" stroke-width="1.2"/>
<text x="462.6" y="406.5" font-size="8" text-anchor="end" font-weight="bold" fill="#111">2</text>
<line x1="463.2" y1="374.4" x2="465.6" y2="374.4" stroke="#111" stroke-width="1.2"/>
<text x="462.6" y="377.2" font-size="8" text-anchor="end" font-weight="bold" fill="#111">3</text>
<text transform="translate(473.9,472.1) rotate(-45)" font-size="6.6" text-anchor="end" fill="#111">mock</text>
<text transform="translate(488.6,472) rotate(-45)" font-size="6.6" text-anchor="end" fill="#111">0.5µM/5d</text>
<text transform="translate(502.5,472.3) rotate(-45)" font-size="6.6" text-anchor="end" fill="#111">0.5µM/10d</text>
<text transform="translate(515.35,471.2) rotate(-45)" font-size="6.6" text-anchor="end" fill="#111">0.5µM/5d+</text>
<text transform="translate(520.95,474.9) rotate(-45)" font-size="6.6" text-anchor="end" fill="#111">Withdraw/7d</text>
<text transform="translate(533.65,471.8) rotate(-45)" font-size="6.6" text-anchor="end" fill="#111">0.5µM/5d+</text>
<text transform="translate(541.65,474.1) rotate(-45)" font-size="6.6" text-anchor="end" fill="#111">Withdraw/14d</text>
<line x1="470.5" y1="503.3" x2="532.1" y2="503.3" stroke="#111" stroke-width="1.1"/>
<text x="500.5" y="512.3" font-size="10" text-anchor="middle" fill="#111">SAHA</text>
<text transform="translate(10.4,419.5) rotate(-90)" font-size="9.5" text-anchor="middle" fill="#111">Relative B7-H3 level</text>
<text x="0.2" y="532.7" font-size="16" font-weight="bold" fill="#000">E</text>
<rect x="79.2" y="531.4" width="8.7" height="5.8" fill="#000" rx="1.5"/>
<text x="92.4" y="537" font-size="7.8" fill="#111">IgG</text>
<rect x="110.9" y="531.4" width="9" height="5.8" fill="#ff0000" rx="1"/>
<text x="124.1" y="537" font-size="7.8" fill="#111">B7-H3</text>
<rect x="154" y="531.4" width="9" height="5.8" fill="#00f0f0" rx="1"/>
<text x="165.7" y="537" font-size="7.8" fill="#111">distal</text>
<line x1="77" y1="553.6" x2="77" y2="589" stroke="#111" stroke-width="1.6"/>
<line x1="77" y1="594.2" x2="77" y2="630.2" stroke="#111" stroke-width="1.6"/>
<line x1="75.1" y1="588.9" x2="79" y2="588.9" stroke="#111" stroke-width="1.6"/>
<line x1="77" y1="594.5" x2="79" y2="594.5" stroke="#111" stroke-width="1.3"/>
<line x1="74.8" y1="554.4" x2="77" y2="554.4" stroke="#111" stroke-width="1.2"/>
<text x="73.2" y="557.3" font-size="8.4" text-anchor="end" font-weight="bold" fill="#111">0.8</text>
<line x1="74.8" y1="567.05" x2="77" y2="567.05" stroke="#111" stroke-width="1.2"/>
<text x="73.2" y="569.95" font-size="8.4" text-anchor="end" font-weight="bold" fill="#111">0.6</text>
<line x1="74.8" y1="579.7" x2="77" y2="579.7" stroke="#111" stroke-width="1.2"/>
<text x="73.2" y="582.6" font-size="8.4" text-anchor="end" font-weight="bold" fill="#111">0.4</text>
<line x1="74.8" y1="594.2" x2="77" y2="594.2" stroke="#111" stroke-width="1.2"/>
<text x="73.2" y="597.1" font-size="8.4" text-anchor="end" font-weight="bold" fill="#111">0.10</text>
<line x1="74.8" y1="611.85" x2="77" y2="611.85" stroke="#111" stroke-width="1.2"/>
<text x="73.2" y="614.75" font-size="8.4" text-anchor="end" font-weight="bold" fill="#111">0.05</text>
<line x1="74.8" y1="629.5" x2="77" y2="629.5" stroke="#111" stroke-width="1.2"/>
<text x="73.2" y="632.4" font-size="8.4" text-anchor="end" font-weight="bold" fill="#111">0.00</text>
<line x1="76.4" y1="629.5" x2="211.6" y2="629.5" stroke="#111" stroke-width="1.6"/>
<rect x="82.8" y="614.5" width="4.2" height="15" fill="#ff0000"/>
<line x1="84.9" y1="614.5" x2="84.9" y2="611" stroke="#111" stroke-width="1.3"/>
<line x1="82.9" y1="611" x2="86.9" y2="611" stroke="#111" stroke-width="1.3"/>
<ellipse cx="80.7" cy="628.6" rx="2.2" ry="1.1" fill="#111"/>
<rect x="87.5" y="627.4" width="4.4" height="2.1" fill="#00e8f0"/>
<rect x="89.1" y="626.2" width="1.2" height="1.4" fill="#111"/>
<rect x="99.7" y="572.5" width="4.1" height="57" fill="#ff0000"/>
<line x1="101.75" y1="572.5" x2="101.75" y2="564.3" stroke="#111" stroke-width="1.3"/>
<line x1="99.75" y1="564.3" x2="103.75" y2="564.3" stroke="#111" stroke-width="1.3"/>
<ellipse cx="97.3" cy="628.6" rx="2.2" ry="1.1" fill="#111"/>
<rect x="103.8" y="627.4" width="4.4" height="2.1" fill="#00e8f0"/>
<rect x="105.4" y="626.2" width="1.2" height="1.4" fill="#111"/>
<rect x="116" y="604.1" width="4.1" height="25.4" fill="#ff0000"/>
<line x1="118.05" y1="604.1" x2="118.05" y2="598.2" stroke="#111" stroke-width="1.3"/>
<line x1="116.05" y1="598.2" x2="120.05" y2="598.2" stroke="#111" stroke-width="1.3"/>
<ellipse cx="113.6" cy="628.6" rx="2.2" ry="1.1" fill="#111"/>
<rect x="120.5" y="627.4" width="4.4" height="2.1" fill="#00e8f0"/>
<rect x="122.1" y="626.2" width="1.2" height="1.4" fill="#111"/>
<rect x="132.2" y="580.6" width="4.6" height="48.9" fill="#ff0000"/>
<line x1="134.5" y1="580.6" x2="134.5" y2="574.6" stroke="#111" stroke-width="1.3"/>
<line x1="132.5" y1="574.6" x2="136.5" y2="574.6" stroke="#111" stroke-width="1.3"/>
<ellipse cx="130" cy="628.6" rx="2.2" ry="1.1" fill="#111"/>
<rect x="136.9" y="627.4" width="4.4" height="2.1" fill="#00e8f0"/>
<rect x="138.5" y="626.2" width="1.2" height="1.4" fill="#111"/>
<rect x="148.5" y="607.8" width="4.5" height="21.7" fill="#ff0000"/>
<line x1="150.75" y1="607.8" x2="150.75" y2="603.2" stroke="#111" stroke-width="1.3"/>
<line x1="148.75" y1="603.2" x2="152.75" y2="603.2" stroke="#111" stroke-width="1.3"/>
<ellipse cx="146.7" cy="628.6" rx="2.2" ry="1.1" fill="#111"/>
<rect x="153.2" y="627.4" width="4.4" height="2.1" fill="#00e8f0"/>
<rect x="154.8" y="626.2" width="1.2" height="1.4" fill="#111"/>
<rect x="165.4" y="577.5" width="4.5" height="52" fill="#ff0000"/>
<line x1="167.65" y1="577.5" x2="167.65" y2="569.2" stroke="#111" stroke-width="1.3"/>
<line x1="165.65" y1="569.2" x2="169.65" y2="569.2" stroke="#111" stroke-width="1.3"/>
<ellipse cx="163" cy="628.6" rx="2.2" ry="1.1" fill="#111"/>
<rect x="169.8" y="627.4" width="4.4" height="2.1" fill="#00e8f0"/>
<rect x="171.4" y="626.2" width="1.2" height="1.4" fill="#111"/>
<rect x="182" y="611" width="4.4" height="18.5" fill="#ff0000"/>
<line x1="184.2" y1="611" x2="184.2" y2="604.1" stroke="#111" stroke-width="1.3"/>
<line x1="182.2" y1="604.1" x2="186.2" y2="604.1" stroke="#111" stroke-width="1.3"/>
<ellipse cx="179.3" cy="628.6" rx="2.2" ry="1.1" fill="#111"/>
<rect x="186.1" y="627.4" width="4.4" height="2.1" fill="#00e8f0"/>
<rect x="187.7" y="626.2" width="1.2" height="1.4" fill="#111"/>
<rect x="198.7" y="566.1" width="4.1" height="63.4" fill="#ff0000"/>
<line x1="200.75" y1="566.1" x2="200.75" y2="555.8" stroke="#111" stroke-width="1.3"/>
<line x1="198.75" y1="555.8" x2="202.75" y2="555.8" stroke="#111" stroke-width="1.3"/>
<ellipse cx="196" cy="628.6" rx="2.2" ry="1.1" fill="#111"/>
<rect x="202.8" y="627.4" width="4.4" height="2.1" fill="#00e8f0"/>
<rect x="204.4" y="626.2" width="1.2" height="1.4" fill="#111"/>
<rect x="99.2" y="589.2" width="5.1" height="5" fill="#fff"/>
<rect x="131.7" y="589.2" width="5.6" height="5" fill="#fff"/>
<rect x="164.9" y="589.2" width="5.5" height="5" fill="#fff"/>
<rect x="198.2" y="589.2" width="5.1" height="5" fill="#fff"/>
<polyline points="84.7,553.6 84.7,549.9 101.8,549.9 101.8,553.6" fill="none" stroke="#111" stroke-width="1.1"/>
<text x="93.3" y="551" font-size="11" text-anchor="middle" fill="#111">**</text>
<polyline points="117.8,553.6 117.8,549.9 134.6,549.9 134.6,553.6" fill="none" stroke="#111" stroke-width="1.1"/>
<text x="126.2" y="551" font-size="11" text-anchor="middle" fill="#111">**</text>
<polyline points="150.3,553.6 150.3,549.9 167.5,549.9 167.5,553.6" fill="none" stroke="#111" stroke-width="1.1"/>
<text x="158.9" y="551" font-size="11" text-anchor="middle" fill="#111">**</text>
<polyline points="183.5,553.6 183.5,549.9 200.5,549.9 200.5,553.6" fill="none" stroke="#111" stroke-width="1.1"/>
<text x="192" y="551" font-size="11" text-anchor="middle" fill="#111">**</text>
<line x1="78.3" y1="632.6" x2="91.2" y2="632.6" stroke="#222" stroke-width="1.1"/>
<line x1="95" y1="632.6" x2="108" y2="632.6" stroke="#222" stroke-width="1.1"/>
<line x1="111.8" y1="632.6" x2="124" y2="632.6" stroke="#222" stroke-width="1.1"/>
<line x1="128.6" y1="632.6" x2="141.5" y2="632.6" stroke="#222" stroke-width="1.1"/>
<line x1="144.6" y1="632.6" x2="157.5" y2="632.6" stroke="#222" stroke-width="1.1"/>
<line x1="161.3" y1="632.6" x2="174.3" y2="632.6" stroke="#222" stroke-width="1.1"/>
<line x1="178.1" y1="632.6" x2="191" y2="632.6" stroke="#222" stroke-width="1.1"/>
<line x1="194.9" y1="632.6" x2="207.8" y2="632.6" stroke="#222" stroke-width="1.1"/>
<line x1="78.3" y1="645.6" x2="108" y2="645.6" stroke="#222" stroke-width="1.1"/>
<line x1="111.8" y1="645.6" x2="141.5" y2="645.6" stroke="#222" stroke-width="1.1"/>
<line x1="144.6" y1="645.6" x2="174.3" y2="645.6" stroke="#222" stroke-width="1.1"/>
<line x1="178.1" y1="645.6" x2="207.8" y2="645.6" stroke="#222" stroke-width="1.1"/>
<line x1="83.4" y1="639.5" x2="86.8" y2="639.5" stroke="#222" stroke-width="1"/>
<line x1="117" y1="639.5" x2="120.4" y2="639.5" stroke="#222" stroke-width="1"/>
<line x1="149.7" y1="639.5" x2="153.1" y2="639.5" stroke="#222" stroke-width="1"/>
<line x1="183.3" y1="639.5" x2="186.7" y2="639.5" stroke="#222" stroke-width="1"/>
<text x="101.9" y="641.3" font-size="6.4" text-anchor="middle" fill="#111">SAHA</text>
<text x="135.7" y="641.3" font-size="6.4" text-anchor="middle" fill="#111">SAHA</text>
<text x="169" y="641.3" font-size="6.4" text-anchor="middle" fill="#111">SAHA</text>
<text x="202" y="641.3" font-size="6.4" text-anchor="middle" fill="#111">SAHA</text>
<text transform="translate(98.5,654) rotate(-45)" font-size="8.6" text-anchor="end" fill="#111">SUM149</text>
<text transform="translate(132.6,654) rotate(-45)" font-size="8.6" text-anchor="end" fill="#111">A549</text>
<text transform="translate(165.1,654) rotate(-45)" font-size="8.6" text-anchor="end" fill="#111">SCC-9</text>
<text transform="translate(199,654) rotate(-45)" font-size="8.6" text-anchor="end" fill="#111">M21</text>
<text transform="translate(42.3,591.8) rotate(-90)" font-size="9.25" text-anchor="middle" fill="#111">Chip enrichment</text>
<text transform="translate(52.4,591.8) rotate(-90)" font-size="9.25" text-anchor="middle" fill="#111">%(relative to input)</text>
<text x="265.8" y="533.9" font-size="16" font-weight="bold" fill="#000">F</text>
<rect x="342.2" y="531.3" width="9.4" height="5.8" fill="#000" rx="1"/>
<text x="354.7" y="537" font-size="7.8" fill="#111">Basal</text>
<rect x="381.7" y="531.3" width="9.4" height="5.8" fill="#ff0000" rx="1"/>
<text x="394.6" y="537" font-size="7.8" fill="#111">SAHA</text>
<line x1="341.8" y1="549" x2="341.8" y2="640" stroke="#111" stroke-width="1.5"/>
<line x1="341.2" y1="639.6" x2="468" y2="639.6" stroke="#111" stroke-width="1.6"/>
<line x1="338.3" y1="639.4" x2="341.8" y2="639.4" stroke="#111" stroke-width="1.3"/>
<text x="336.6" y="643" font-size="9.8" text-anchor="end" font-weight="bold" fill="#111">0</text>
<line x1="338.3" y1="621.45" x2="341.8" y2="621.45" stroke="#111" stroke-width="1.3"/>
<text x="336.6" y="625.05" font-size="9.8" text-anchor="end" font-weight="bold" fill="#111">1</text>
<line x1="338.3" y1="603.5" x2="341.8" y2="603.5" stroke="#111" stroke-width="1.3"/>
<text x="336.6" y="607.1" font-size="9.8" text-anchor="end" font-weight="bold" fill="#111">2</text>
<line x1="338.3" y1="585.55" x2="341.8" y2="585.55" stroke="#111" stroke-width="1.3"/>
<text x="336.6" y="589.15" font-size="9.8" text-anchor="end" font-weight="bold" fill="#111">3</text>
<line x1="338.3" y1="567.6" x2="341.8" y2="567.6" stroke="#111" stroke-width="1.3"/>
<text x="336.6" y="571.2" font-size="9.8" text-anchor="end" font-weight="bold" fill="#111">4</text>
<line x1="338.3" y1="549.65" x2="341.8" y2="549.65" stroke="#111" stroke-width="1.3"/>
<text x="336.6" y="553.25" font-size="9.8" text-anchor="end" font-weight="bold" fill="#111">5</text>
<rect x="345" y="621.45" width="6.4" height="17.95" fill="#000"/>
<rect x="352.8" y="609.78" width="6.7" height="29.62" fill="#ff0000"/>
<line x1="348.2" y1="621.45" x2="348.2" y2="614.27" stroke="#111" stroke-width="1.4"/>
<line x1="346" y1="614.27" x2="350.4" y2="614.27" stroke="#111" stroke-width="1.4"/>
<line x1="356.15" y1="609.78" x2="356.15" y2="603.5" stroke="#111" stroke-width="1.4"/>
<line x1="353.95" y1="603.5" x2="358.35" y2="603.5" stroke="#111" stroke-width="1.4"/>
<text x="356.15" y="604.5" font-size="11" text-anchor="middle" fill="#111">**</text>
<rect x="366" y="621.45" width="6.4" height="17.95" fill="#000"/>
<rect x="373.7" y="598.12" width="6.7" height="41.28" fill="#ff0000"/>
<line x1="369.2" y1="621.45" x2="369.2" y2="617.86" stroke="#111" stroke-width="1.4"/>
<line x1="367" y1="617.86" x2="371.4" y2="617.86" stroke="#111" stroke-width="1.4"/>
<line x1="377.05" y1="598.12" x2="377.05" y2="590.93" stroke="#111" stroke-width="1.4"/>
<line x1="374.85" y1="590.93" x2="379.25" y2="590.93" stroke="#111" stroke-width="1.4"/>
<text x="377.05" y="591.93" font-size="11" text-anchor="middle" fill="#111">**</text>
<rect x="386.7" y="621.45" width="6.4" height="17.95" fill="#000"/>
<rect x="394" y="586.81" width="6.7" height="52.59" fill="#ff0000"/>
<line x1="389.9" y1="621.45" x2="389.9" y2="616.06" stroke="#111" stroke-width="1.4"/>
<line x1="387.7" y1="616.06" x2="392.1" y2="616.06" stroke="#111" stroke-width="1.4"/>
<line x1="397.35" y1="586.81" x2="397.35" y2="578.91" stroke="#111" stroke-width="1.4"/>
<line x1="395.15" y1="578.91" x2="399.55" y2="578.91" stroke="#111" stroke-width="1.4"/>
<text x="397.35" y="579.91" font-size="11" text-anchor="middle" fill="#111">**</text>
<rect x="407.5" y="621.45" width="6.4" height="17.95" fill="#000"/>
<rect x="415" y="601.7" width="6.7" height="37.7" fill="#ff0000"/>
<line x1="410.7" y1="621.45" x2="410.7" y2="618.76" stroke="#111" stroke-width="1.4"/>
<line x1="408.5" y1="618.76" x2="412.9" y2="618.76" stroke="#111" stroke-width="1.4"/>
<line x1="418.35" y1="601.7" x2="418.35" y2="596.68" stroke="#111" stroke-width="1.4"/>
<line x1="416.15" y1="596.68" x2="420.55" y2="596.68" stroke="#111" stroke-width="1.4"/>
<text x="418.35" y="597.68" font-size="11" text-anchor="middle" fill="#111">**</text>
<rect x="428.25" y="621.45" width="6.4" height="17.95" fill="#000"/>
<rect x="435.75" y="572.09" width="6.7" height="67.31" fill="#ff0000"/>
<line x1="431.45" y1="621.45" x2="431.45" y2="616.42" stroke="#111" stroke-width="1.4"/>
<line x1="429.25" y1="616.42" x2="433.65" y2="616.42" stroke="#111" stroke-width="1.4"/>
<line x1="439.1" y1="572.09" x2="439.1" y2="565.45" stroke="#111" stroke-width="1.4"/>
<line x1="436.9" y1="565.45" x2="441.3" y2="565.45" stroke="#111" stroke-width="1.4"/>
<text x="439.1" y="566.45" font-size="11" text-anchor="middle" fill="#111">**</text>
<rect x="449.25" y="621.45" width="6.4" height="17.95" fill="#000"/>
<rect x="456.25" y="598.12" width="6.7" height="41.28" fill="#ff0000"/>
<line x1="452.45" y1="621.45" x2="452.45" y2="619.3" stroke="#111" stroke-width="1.4"/>
<line x1="450.25" y1="619.3" x2="454.65" y2="619.3" stroke="#111" stroke-width="1.4"/>
<line x1="459.6" y1="598.12" x2="459.6" y2="592.73" stroke="#111" stroke-width="1.4"/>
<line x1="457.4" y1="592.73" x2="461.8" y2="592.73" stroke="#111" stroke-width="1.4"/>
<text x="459.6" y="593.73" font-size="11" text-anchor="middle" fill="#111">**</text>
<text transform="translate(357.2,649.5) rotate(-45)" font-size="8.6" text-anchor="end" fill="#111">SUM149</text>
<text transform="translate(378.2,649.5) rotate(-45)" font-size="8.6" text-anchor="end" fill="#111">TNBC-S3</text>
<text transform="translate(399.2,649.5) rotate(-45)" font-size="8.6" text-anchor="end" fill="#111">A549</text>
<text transform="translate(420.2,649.5) rotate(-45)" font-size="8.6" text-anchor="end" fill="#111">SCC-9</text>
<text transform="translate(441.2,649.5) rotate(-45)" font-size="8.6" text-anchor="end" fill="#111">HNSCC-Y2</text>
<text transform="translate(462.2,649.5) rotate(-45)" font-size="8.6" text-anchor="end" fill="#111">M21</text>
<text transform="translate(308.9,598) rotate(-90)" font-size="9.2" text-anchor="middle" fill="#111">Luciferase activity</text>
<text transform="translate(318.7,598.6) rotate(-90)" font-size="9.2" text-anchor="middle" fill="#111">(fold change)</text>
</svg>
</body></html>
